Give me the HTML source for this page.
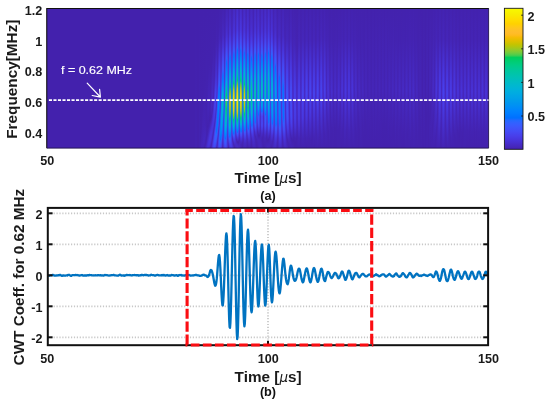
<!DOCTYPE html>
<html lang="en"><head><meta charset="utf-8"><title>CWT scalogram</title>
<style>html,body{margin:0;padding:0;background:#fff}svg{display:block}</style></head>
<body>
<svg width="550" height="405" viewBox="0 0 550 405">
<rect width="550" height="405" fill="#fff"/>
<defs><linearGradient id="c148" x1="0" y1="0" x2="0" y2="1"><stop offset="0.004" stop-color="#4321ad"/><stop offset="0.996" stop-color="#4322b0"/></linearGradient><linearGradient id="c149" x1="0" y1="0" x2="0" y2="1"><stop offset="0.004" stop-color="#4321ad"/><stop offset="0.996" stop-color="#4322b0"/></linearGradient><linearGradient id="c152" x1="0" y1="0" x2="0" y2="1"><stop offset="0.004" stop-color="#4321ad"/><stop offset="0.996" stop-color="#4323b1"/></linearGradient><linearGradient id="c153" x1="0" y1="0" x2="0" y2="1"><stop offset="0.004" stop-color="#4321ad"/><stop offset="0.925" stop-color="#4322ae"/><stop offset="0.996" stop-color="#4424b6"/></linearGradient><linearGradient id="c154" x1="0" y1="0" x2="0" y2="1"><stop offset="0.004" stop-color="#4321ad"/><stop offset="0.854" stop-color="#4322ae"/><stop offset="0.996" stop-color="#4526ba"/></linearGradient><linearGradient id="c155" x1="0" y1="0" x2="0" y2="1"><stop offset="0.004" stop-color="#4321ad"/><stop offset="0.725" stop-color="#4322ae"/><stop offset="0.996" stop-color="#4526bb"/></linearGradient><linearGradient id="c156" x1="0" y1="0" x2="0" y2="1"><stop offset="0.004" stop-color="#4321ad"/><stop offset="0.611" stop-color="#4322ae"/><stop offset="0.854" stop-color="#4424b5"/><stop offset="0.954" stop-color="#4527be"/><stop offset="0.996" stop-color="#4425b8"/></linearGradient><linearGradient id="c157" x1="0" y1="0" x2="0" y2="1"><stop offset="0.004" stop-color="#4321ad"/><stop offset="0.546" stop-color="#4322ae"/><stop offset="0.839" stop-color="#4424b6"/><stop offset="0.932" stop-color="#4527bd"/><stop offset="0.961" stop-color="#4526bb"/><stop offset="0.996" stop-color="#4323b1"/></linearGradient><linearGradient id="c158" x1="0" y1="0" x2="0" y2="1"><stop offset="0.004" stop-color="#4321ad"/><stop offset="0.504" stop-color="#4322ae"/><stop offset="0.818" stop-color="#4423b3"/><stop offset="0.911" stop-color="#4526ba"/><stop offset="0.968" stop-color="#4323b2"/><stop offset="0.996" stop-color="#4526ba"/></linearGradient><linearGradient id="c159" x1="0" y1="0" x2="0" y2="1"><stop offset="0.004" stop-color="#4321ad"/><stop offset="0.932" stop-color="#4323b2"/><stop offset="0.954" stop-color="#4425b6"/><stop offset="0.996" stop-color="#472cc8"/></linearGradient><linearGradient id="c160" x1="0" y1="0" x2="0" y2="1"><stop offset="0.004" stop-color="#4321ad"/><stop offset="0.504" stop-color="#4322ae"/><stop offset="0.725" stop-color="#4424b5"/><stop offset="0.846" stop-color="#4322ae"/><stop offset="0.904" stop-color="#4423b3"/><stop offset="0.968" stop-color="#472ece"/><stop offset="0.996" stop-color="#4831d4"/></linearGradient><linearGradient id="c161" x1="0" y1="0" x2="0" y2="1"><stop offset="0.004" stop-color="#4321ad"/><stop offset="0.446" stop-color="#4322af"/><stop offset="0.675" stop-color="#4526ba"/><stop offset="0.839" stop-color="#4322b0"/><stop offset="0.882" stop-color="#4526b9"/><stop offset="0.954" stop-color="#4833d7"/><stop offset="0.975" stop-color="#4834da"/><stop offset="0.996" stop-color="#4832d7"/></linearGradient><linearGradient id="c162" x1="0" y1="0" x2="0" y2="1"><stop offset="0.004" stop-color="#4321ad"/><stop offset="0.396" stop-color="#4322ae"/><stop offset="0.639" stop-color="#4525b8"/><stop offset="0.804" stop-color="#4322ae"/><stop offset="0.846" stop-color="#4425b7"/><stop offset="0.911" stop-color="#4832d6"/><stop offset="0.939" stop-color="#4836de"/><stop offset="0.968" stop-color="#4835dc"/><stop offset="0.996" stop-color="#472ece"/></linearGradient><linearGradient id="c163" x1="0" y1="0" x2="0" y2="1"><stop offset="0.004" stop-color="#4321ad"/><stop offset="0.382" stop-color="#4322ae"/><stop offset="0.725" stop-color="#4424b6"/><stop offset="0.796" stop-color="#4322af"/><stop offset="0.889" stop-color="#4834da"/><stop offset="0.918" stop-color="#4837e0"/><stop offset="0.954" stop-color="#4833d9"/><stop offset="0.996" stop-color="#4526ba"/></linearGradient><linearGradient id="c164" x1="0" y1="0" x2="0" y2="1"><stop offset="0.004" stop-color="#4321ad"/><stop offset="0.446" stop-color="#4322af"/><stop offset="0.668" stop-color="#4629c1"/><stop offset="0.711" stop-color="#4528be"/><stop offset="0.775" stop-color="#4323b2"/><stop offset="0.854" stop-color="#4832d7"/><stop offset="0.889" stop-color="#4837df"/><stop offset="0.925" stop-color="#4832d6"/><stop offset="0.968" stop-color="#4526ba"/><stop offset="0.982" stop-color="#4527bc"/><stop offset="0.996" stop-color="#462bc5"/></linearGradient><linearGradient id="c165" x1="0" y1="0" x2="0" y2="1"><stop offset="0.004" stop-color="#4321ad"/><stop offset="0.361" stop-color="#4322b0"/><stop offset="0.618" stop-color="#462ac4"/><stop offset="0.732" stop-color="#4425b7"/><stop offset="0.811" stop-color="#4832d6"/><stop offset="0.846" stop-color="#4836dd"/><stop offset="0.882" stop-color="#4832d7"/><stop offset="0.918" stop-color="#4529c0"/><stop offset="0.932" stop-color="#4527bc"/><stop offset="0.946" stop-color="#462ac2"/><stop offset="0.975" stop-color="#4834d8"/><stop offset="0.996" stop-color="#4839e1"/></linearGradient><linearGradient id="c166" x1="0" y1="0" x2="0" y2="1"><stop offset="0.004" stop-color="#4321ad"/><stop offset="0.268" stop-color="#4322ae"/><stop offset="0.511" stop-color="#4526b9"/><stop offset="0.639" stop-color="#4526ba"/><stop offset="0.675" stop-color="#4529c1"/><stop offset="0.754" stop-color="#4834da"/><stop offset="0.796" stop-color="#4837e0"/><stop offset="0.832" stop-color="#4834da"/><stop offset="0.875" stop-color="#4529c0"/><stop offset="0.889" stop-color="#4528bf"/><stop offset="0.904" stop-color="#462bc6"/><stop offset="0.946" stop-color="#4640e8"/><stop offset="0.968" stop-color="#4546f0"/><stop offset="0.996" stop-color="#4646f0"/></linearGradient><linearGradient id="c167" x1="0" y1="0" x2="0" y2="1"><stop offset="0.004" stop-color="#4321ad"/><stop offset="0.296" stop-color="#4322ae"/><stop offset="0.475" stop-color="#4424b5"/><stop offset="0.539" stop-color="#4528bf"/><stop offset="0.661" stop-color="#473be3"/><stop offset="0.711" stop-color="#473fe9"/><stop offset="0.768" stop-color="#4839e2"/><stop offset="0.789" stop-color="#4834da"/><stop offset="0.825" stop-color="#462ac3"/><stop offset="0.839" stop-color="#4529c1"/><stop offset="0.861" stop-color="#462fcc"/><stop offset="0.889" stop-color="#4540e7"/><stop offset="0.918" stop-color="#404ff6"/><stop offset="0.954" stop-color="#3e55fb"/><stop offset="0.996" stop-color="#4548f2"/></linearGradient><linearGradient id="c168" x1="0" y1="0" x2="0" y2="1"><stop offset="0.004" stop-color="#4321ad"/><stop offset="0.225" stop-color="#4322ae"/><stop offset="0.332" stop-color="#4424b5"/><stop offset="0.489" stop-color="#472fcf"/><stop offset="0.582" stop-color="#483de7"/><stop offset="0.639" stop-color="#4644ee"/><stop offset="0.696" stop-color="#473ee8"/><stop offset="0.761" stop-color="#462dc9"/><stop offset="0.782" stop-color="#462cc5"/><stop offset="0.811" stop-color="#4534d4"/><stop offset="0.854" stop-color="#3f4ef4"/><stop offset="0.882" stop-color="#335dfc"/><stop offset="0.911" stop-color="#2e63fe"/><stop offset="0.954" stop-color="#3c57fc"/><stop offset="0.996" stop-color="#473de6"/></linearGradient><linearGradient id="c169" x1="0" y1="0" x2="0" y2="1"><stop offset="0.004" stop-color="#4321ad"/><stop offset="0.254" stop-color="#4423b3"/><stop offset="0.561" stop-color="#4836dd"/><stop offset="0.596" stop-color="#4737dc"/><stop offset="0.668" stop-color="#4630cd"/><stop offset="0.696" stop-color="#4530cc"/><stop offset="0.725" stop-color="#4435d3"/><stop offset="0.746" stop-color="#433de0"/><stop offset="0.775" stop-color="#3e4cf0"/><stop offset="0.796" stop-color="#3557f8"/><stop offset="0.839" stop-color="#186afe"/><stop offset="0.868" stop-color="#0b6eff"/><stop offset="0.882" stop-color="#0e6cff"/><stop offset="0.904" stop-color="#2965fe"/><stop offset="0.932" stop-color="#3e53f8"/><stop offset="0.961" stop-color="#463ee6"/><stop offset="0.996" stop-color="#462bc4"/></linearGradient><linearGradient id="c170" x1="0" y1="0" x2="0" y2="1"><stop offset="0.004" stop-color="#4321ad"/><stop offset="0.225" stop-color="#4322b0"/><stop offset="0.468" stop-color="#4528bf"/><stop offset="0.546" stop-color="#462eca"/><stop offset="0.611" stop-color="#433dde"/><stop offset="0.646" stop-color="#3d4bed"/><stop offset="0.689" stop-color="#2b5df8"/><stop offset="0.754" stop-color="#1071fe"/><stop offset="0.796" stop-color="#0378ff"/><stop offset="0.825" stop-color="#0475ff"/><stop offset="0.839" stop-color="#0a71fe"/><stop offset="0.854" stop-color="#166afe"/><stop offset="0.882" stop-color="#3658f9"/><stop offset="0.904" stop-color="#4247ee"/><stop offset="0.932" stop-color="#4633d2"/><stop offset="0.954" stop-color="#462cc6"/><stop offset="0.968" stop-color="#462bc5"/><stop offset="0.996" stop-color="#4730d0"/></linearGradient><linearGradient id="c171" x1="0" y1="0" x2="0" y2="1"><stop offset="0.004" stop-color="#4321ad"/><stop offset="0.168" stop-color="#4322b0"/><stop offset="0.261" stop-color="#4425b7"/><stop offset="0.404" stop-color="#4732d4"/><stop offset="0.504" stop-color="#4545ed"/><stop offset="0.554" stop-color="#3957f8"/><stop offset="0.604" stop-color="#136efd"/><stop offset="0.632" stop-color="#077afd"/><stop offset="0.682" stop-color="#0385fa"/><stop offset="0.718" stop-color="#0383fc"/><stop offset="0.754" stop-color="#037bfd"/><stop offset="0.775" stop-color="#0d73fd"/><stop offset="0.811" stop-color="#285ffa"/><stop offset="0.839" stop-color="#3e4bef"/><stop offset="0.868" stop-color="#4437d7"/><stop offset="0.882" stop-color="#4532d1"/><stop offset="0.904" stop-color="#4533d1"/><stop offset="0.954" stop-color="#4444eb"/><stop offset="0.996" stop-color="#4644ee"/></linearGradient><linearGradient id="c172" x1="0" y1="0" x2="0" y2="1"><stop offset="0.004" stop-color="#4322ae"/><stop offset="0.132" stop-color="#4323b2"/><stop offset="0.218" stop-color="#4526ba"/><stop offset="0.332" stop-color="#4832d7"/><stop offset="0.454" stop-color="#4449f2"/><stop offset="0.532" stop-color="#365dfd"/><stop offset="0.554" stop-color="#2964fd"/><stop offset="0.568" stop-color="#1669fd"/><stop offset="0.575" stop-color="#126bfe"/><stop offset="0.596" stop-color="#0d72fe"/><stop offset="0.632" stop-color="#0d77fc"/><stop offset="0.668" stop-color="#1372fc"/><stop offset="0.711" stop-color="#2462f9"/><stop offset="0.754" stop-color="#3b49e8"/><stop offset="0.796" stop-color="#4339d9"/><stop offset="0.825" stop-color="#423ad9"/><stop offset="0.846" stop-color="#3f44e2"/><stop offset="0.882" stop-color="#3059f6"/><stop offset="0.925" stop-color="#2364fd"/><stop offset="0.954" stop-color="#3260fe"/><stop offset="0.996" stop-color="#424ef7"/></linearGradient><linearGradient id="c173" x1="0" y1="0" x2="0" y2="1"><stop offset="0.004" stop-color="#4322ae"/><stop offset="0.204" stop-color="#4424b6"/><stop offset="0.454" stop-color="#4737db"/><stop offset="0.675" stop-color="#4041df"/><stop offset="0.725" stop-color="#354be4"/><stop offset="0.782" stop-color="#2069f6"/><stop offset="0.832" stop-color="#0a80f7"/><stop offset="0.868" stop-color="#0287f7"/><stop offset="0.896" stop-color="#0284fb"/><stop offset="0.932" stop-color="#0373ff"/><stop offset="0.939" stop-color="#086eff"/><stop offset="0.946" stop-color="#1d6aff"/><stop offset="0.961" stop-color="#3360fe"/><stop offset="0.996" stop-color="#444af3"/></linearGradient><linearGradient id="c174" x1="0" y1="0" x2="0" y2="1"><stop offset="0.004" stop-color="#4322ae"/><stop offset="0.232" stop-color="#4425b7"/><stop offset="0.446" stop-color="#4538d9"/><stop offset="0.518" stop-color="#3d49ea"/><stop offset="0.582" stop-color="#2366f6"/><stop offset="0.632" stop-color="#1081f2"/><stop offset="0.675" stop-color="#0693eb"/><stop offset="0.725" stop-color="#029fe5"/><stop offset="0.782" stop-color="#01a5e4"/><stop offset="0.839" stop-color="#019eea"/><stop offset="0.868" stop-color="#0191f2"/><stop offset="0.896" stop-color="#037efc"/><stop offset="0.911" stop-color="#0d72fe"/><stop offset="0.946" stop-color="#3b56f9"/><stop offset="0.968" stop-color="#4447f0"/><stop offset="0.996" stop-color="#4839e1"/></linearGradient><linearGradient id="c175" x1="0" y1="0" x2="0" y2="1"><stop offset="0.004" stop-color="#4322b0"/><stop offset="0.189" stop-color="#4528bf"/><stop offset="0.275" stop-color="#4832d5"/><stop offset="0.354" stop-color="#4644ed"/><stop offset="0.432" stop-color="#385afb"/><stop offset="0.454" stop-color="#2c61fd"/><stop offset="0.468" stop-color="#1d66fd"/><stop offset="0.496" stop-color="#0c73fe"/><stop offset="0.525" stop-color="#0381fb"/><stop offset="0.611" stop-color="#01aedb"/><stop offset="0.646" stop-color="#01b7cc"/><stop offset="0.675" stop-color="#01b9c8"/><stop offset="0.725" stop-color="#01b3d3"/><stop offset="0.775" stop-color="#02a4e4"/><stop offset="0.818" stop-color="#038df2"/><stop offset="0.861" stop-color="#1c6cfa"/><stop offset="0.896" stop-color="#3b4ef0"/><stop offset="0.911" stop-color="#4144e7"/><stop offset="0.946" stop-color="#4632d1"/><stop offset="0.996" stop-color="#4528be"/></linearGradient><linearGradient id="c176" x1="0" y1="0" x2="0" y2="1"><stop offset="0.004" stop-color="#4323b1"/><stop offset="0.104" stop-color="#4425b7"/><stop offset="0.189" stop-color="#4629c1"/><stop offset="0.268" stop-color="#4832d6"/><stop offset="0.354" stop-color="#4546ef"/><stop offset="0.432" stop-color="#385afb"/><stop offset="0.482" stop-color="#1a68fd"/><stop offset="0.518" stop-color="#0e75fc"/><stop offset="0.589" stop-color="#078ff0"/><stop offset="0.632" stop-color="#0795ea"/><stop offset="0.689" stop-color="#0f89ee"/><stop offset="0.739" stop-color="#1e6ef0"/><stop offset="0.789" stop-color="#3050e6"/><stop offset="0.825" stop-color="#4042e1"/><stop offset="0.875" stop-color="#423cdb"/><stop offset="0.946" stop-color="#463be0"/><stop offset="0.996" stop-color="#4730d2"/></linearGradient><linearGradient id="c177" x1="0" y1="0" x2="0" y2="1"><stop offset="0.004" stop-color="#4322af"/><stop offset="0.211" stop-color="#4425b8"/><stop offset="0.496" stop-color="#423bdc"/><stop offset="0.589" stop-color="#3c4ae5"/><stop offset="0.704" stop-color="#275fe4"/><stop offset="0.804" stop-color="#167cf1"/><stop offset="0.839" stop-color="#0f82f3"/><stop offset="0.875" stop-color="#0c7ff7"/><stop offset="0.911" stop-color="#1271fd"/><stop offset="0.925" stop-color="#1c68fd"/><stop offset="0.939" stop-color="#305ffd"/><stop offset="0.954" stop-color="#3c57fb"/><stop offset="0.996" stop-color="#473fea"/></linearGradient><linearGradient id="c178" x1="0" y1="0" x2="0" y2="1"><stop offset="0.004" stop-color="#4323b2"/><stop offset="0.182" stop-color="#4528c0"/><stop offset="0.261" stop-color="#4730d1"/><stop offset="0.339" stop-color="#4541e7"/><stop offset="0.396" stop-color="#3b50f3"/><stop offset="0.482" stop-color="#1c6df9"/><stop offset="0.525" stop-color="#0f81f4"/><stop offset="0.554" stop-color="#0891eb"/><stop offset="0.575" stop-color="#039de0"/><stop offset="0.618" stop-color="#02b1c1"/><stop offset="0.646" stop-color="#04b9ad"/><stop offset="0.668" stop-color="#09bca3"/><stop offset="0.689" stop-color="#09be9f"/><stop offset="0.711" stop-color="#02bfa0"/><stop offset="0.782" stop-color="#01bdb6"/><stop offset="0.839" stop-color="#01b2d5"/><stop offset="0.875" stop-color="#01a0e9"/><stop offset="0.911" stop-color="#0284fc"/><stop offset="0.925" stop-color="#0377ff"/><stop offset="0.932" stop-color="#0671ff"/><stop offset="0.946" stop-color="#2b65ff"/><stop offset="0.954" stop-color="#345ffe"/><stop offset="0.968" stop-color="#3e56fb"/><stop offset="0.996" stop-color="#4645f0"/></linearGradient><linearGradient id="c179" x1="0" y1="0" x2="0" y2="1"><stop offset="0.004" stop-color="#4525b8"/><stop offset="0.118" stop-color="#462ac5"/><stop offset="0.196" stop-color="#4831d5"/><stop offset="0.246" stop-color="#483be5"/><stop offset="0.296" stop-color="#434bf4"/><stop offset="0.346" stop-color="#345efd"/><stop offset="0.361" stop-color="#2b64fe"/><stop offset="0.382" stop-color="#0d6dfe"/><stop offset="0.396" stop-color="#0673fe"/><stop offset="0.418" stop-color="#047cfe"/><stop offset="0.504" stop-color="#02a1e8"/><stop offset="0.532" stop-color="#01afda"/><stop offset="0.575" stop-color="#01c0b1"/><stop offset="0.618" stop-color="#01ca7a"/><stop offset="0.625" stop-color="#06ca71"/><stop offset="0.632" stop-color="#1aca6a"/><stop offset="0.646" stop-color="#35ca5f"/><stop offset="0.661" stop-color="#42ca5a"/><stop offset="0.668" stop-color="#42ca5a"/><stop offset="0.689" stop-color="#35c963"/><stop offset="0.704" stop-color="#21c96d"/><stop offset="0.718" stop-color="#04c97b"/><stop offset="0.725" stop-color="#01c882"/><stop offset="0.789" stop-color="#02b9bf"/><stop offset="0.846" stop-color="#029ce9"/><stop offset="0.875" stop-color="#0785f5"/><stop offset="0.911" stop-color="#1c69fc"/><stop offset="0.932" stop-color="#345afa"/><stop offset="0.946" stop-color="#3e52f7"/><stop offset="0.996" stop-color="#473fe9"/></linearGradient><linearGradient id="c180" x1="0" y1="0" x2="0" y2="1"><stop offset="0.004" stop-color="#4425b7"/><stop offset="0.168" stop-color="#462bc7"/><stop offset="0.239" stop-color="#4833d7"/><stop offset="0.304" stop-color="#4640e8"/><stop offset="0.361" stop-color="#3e4ff3"/><stop offset="0.425" stop-color="#265ff9"/><stop offset="0.532" stop-color="#1280f2"/><stop offset="0.589" stop-color="#0d93e2"/><stop offset="0.632" stop-color="#0e99d7"/><stop offset="0.696" stop-color="#138ddc"/><stop offset="0.796" stop-color="#2660e7"/><stop offset="0.839" stop-color="#344de5"/><stop offset="0.889" stop-color="#423bda"/><stop offset="0.939" stop-color="#4631cf"/><stop offset="0.996" stop-color="#4730d2"/></linearGradient><linearGradient id="c181" x1="0" y1="0" x2="0" y2="1"><stop offset="0.004" stop-color="#4423b3"/><stop offset="0.182" stop-color="#4527bc"/><stop offset="0.339" stop-color="#4535d4"/><stop offset="0.446" stop-color="#3d44e1"/><stop offset="0.525" stop-color="#2e55e6"/><stop offset="0.596" stop-color="#236cdf"/><stop offset="0.625" stop-color="#2574db"/><stop offset="0.689" stop-color="#1f80d4"/><stop offset="0.782" stop-color="#1587e4"/><stop offset="0.839" stop-color="#157ef1"/><stop offset="0.861" stop-color="#1875f6"/><stop offset="0.896" stop-color="#2a5df7"/><stop offset="0.911" stop-color="#3952f4"/><stop offset="0.932" stop-color="#4541e8"/><stop offset="0.975" stop-color="#462ac3"/><stop offset="0.996" stop-color="#4526ba"/></linearGradient><linearGradient id="c182" x1="0" y1="0" x2="0" y2="1"><stop offset="0.004" stop-color="#4527be"/><stop offset="0.111" stop-color="#472cc8"/><stop offset="0.182" stop-color="#4832d6"/><stop offset="0.275" stop-color="#4547f0"/><stop offset="0.325" stop-color="#375afb"/><stop offset="0.354" stop-color="#1e66fd"/><stop offset="0.382" stop-color="#1172fd"/><stop offset="0.439" stop-color="#038af4"/><stop offset="0.489" stop-color="#02a0e5"/><stop offset="0.532" stop-color="#02b4c7"/><stop offset="0.561" stop-color="#02bfa3"/><stop offset="0.568" stop-color="#06c198"/><stop offset="0.604" stop-color="#60c352"/><stop offset="0.618" stop-color="#7dc143"/><stop offset="0.632" stop-color="#95c03f"/><stop offset="0.646" stop-color="#a0c13a"/><stop offset="0.682" stop-color="#abc135"/><stop offset="0.718" stop-color="#98c134"/><stop offset="0.732" stop-color="#87c335"/><stop offset="0.746" stop-color="#6fc53f"/><stop offset="0.761" stop-color="#53c753"/><stop offset="0.782" stop-color="#1cc875"/><stop offset="0.789" stop-color="#05c87f"/><stop offset="0.796" stop-color="#01c78a"/><stop offset="0.825" stop-color="#01bfb3"/><stop offset="0.854" stop-color="#01b1d6"/><stop offset="0.904" stop-color="#0280fd"/><stop offset="0.911" stop-color="#0478ff"/><stop offset="0.918" stop-color="#0d6ffe"/><stop offset="0.932" stop-color="#335ffe"/><stop offset="0.939" stop-color="#3b58fb"/><stop offset="0.961" stop-color="#4645ee"/><stop offset="0.996" stop-color="#4730d1"/></linearGradient><linearGradient id="c183" x1="0" y1="0" x2="0" y2="1"><stop offset="0.004" stop-color="#4527bd"/><stop offset="0.111" stop-color="#472cc8"/><stop offset="0.182" stop-color="#4832d6"/><stop offset="0.232" stop-color="#483be5"/><stop offset="0.275" stop-color="#4449f2"/><stop offset="0.325" stop-color="#345efc"/><stop offset="0.346" stop-color="#1a68fd"/><stop offset="0.375" stop-color="#0976fe"/><stop offset="0.396" stop-color="#0380fb"/><stop offset="0.461" stop-color="#029de9"/><stop offset="0.489" stop-color="#02aadd"/><stop offset="0.511" stop-color="#02b3cd"/><stop offset="0.532" stop-color="#01bcb8"/><stop offset="0.561" stop-color="#02c58e"/><stop offset="0.568" stop-color="#0fc680"/><stop offset="0.575" stop-color="#2bc771"/><stop offset="0.596" stop-color="#6ec440"/><stop offset="0.611" stop-color="#91c231"/><stop offset="0.625" stop-color="#aac033"/><stop offset="0.632" stop-color="#b1c033"/><stop offset="0.661" stop-color="#bac12f"/><stop offset="0.675" stop-color="#b7c131"/><stop offset="0.689" stop-color="#aec035"/><stop offset="0.711" stop-color="#99c03a"/><stop offset="0.725" stop-color="#82c23d"/><stop offset="0.746" stop-color="#58c454"/><stop offset="0.782" stop-color="#0bc290"/><stop offset="0.789" stop-color="#02c19b"/><stop offset="0.818" stop-color="#02b6c0"/><stop offset="0.846" stop-color="#02a6de"/><stop offset="0.868" stop-color="#0296ed"/><stop offset="0.896" stop-color="#077cfb"/><stop offset="0.911" stop-color="#116ffe"/><stop offset="0.932" stop-color="#355dfd"/><stop offset="0.939" stop-color="#3b58fc"/><stop offset="0.961" stop-color="#444af4"/><stop offset="0.996" stop-color="#4839e2"/></linearGradient><linearGradient id="c184" x1="0" y1="0" x2="0" y2="1"><stop offset="0.004" stop-color="#4424b4"/><stop offset="0.182" stop-color="#4528be"/><stop offset="0.318" stop-color="#4538da"/><stop offset="0.389" stop-color="#3d46e5"/><stop offset="0.446" stop-color="#2e53e9"/><stop offset="0.532" stop-color="#206ae7"/><stop offset="0.589" stop-color="#207ada"/><stop offset="0.639" stop-color="#2280d1"/><stop offset="0.718" stop-color="#2676d7"/><stop offset="0.746" stop-color="#246fdd"/><stop offset="0.811" stop-color="#2a5ce6"/><stop offset="0.896" stop-color="#4042e2"/><stop offset="0.961" stop-color="#473ee8"/><stop offset="0.996" stop-color="#483ae4"/></linearGradient><linearGradient id="c185" x1="0" y1="0" x2="0" y2="1"><stop offset="0.004" stop-color="#4424b5"/><stop offset="0.175" stop-color="#4629c2"/><stop offset="0.239" stop-color="#472fce"/><stop offset="0.304" stop-color="#453bdf"/><stop offset="0.354" stop-color="#3f47ea"/><stop offset="0.382" stop-color="#354fee"/><stop offset="0.461" stop-color="#2068f1"/><stop offset="0.532" stop-color="#1585e6"/><stop offset="0.596" stop-color="#179fc0"/><stop offset="0.639" stop-color="#33a8a3"/><stop offset="0.682" stop-color="#37ab9e"/><stop offset="0.704" stop-color="#31aba2"/><stop offset="0.754" stop-color="#10a6be"/><stop offset="0.796" stop-color="#099ada"/><stop offset="0.825" stop-color="#0f8bea"/><stop offset="0.854" stop-color="#1874f5"/><stop offset="0.875" stop-color="#275ef6"/><stop offset="0.889" stop-color="#394ff0"/><stop offset="0.904" stop-color="#4340e4"/><stop offset="0.932" stop-color="#462bc6"/><stop offset="0.946" stop-color="#4529c0"/><stop offset="0.954" stop-color="#462ac2"/><stop offset="0.975" stop-color="#4730d2"/><stop offset="0.996" stop-color="#4834d9"/></linearGradient><linearGradient id="c186" x1="0" y1="0" x2="0" y2="1"><stop offset="0.004" stop-color="#4629c2"/><stop offset="0.096" stop-color="#472dcb"/><stop offset="0.168" stop-color="#4833d8"/><stop offset="0.218" stop-color="#483ce6"/><stop offset="0.261" stop-color="#444bf3"/><stop offset="0.304" stop-color="#345dfd"/><stop offset="0.332" stop-color="#126cfe"/><stop offset="0.354" stop-color="#0778fd"/><stop offset="0.432" stop-color="#02a0e8"/><stop offset="0.468" stop-color="#01b0d6"/><stop offset="0.504" stop-color="#01beb6"/><stop offset="0.518" stop-color="#01c3a3"/><stop offset="0.532" stop-color="#01c78a"/><stop offset="0.539" stop-color="#07c87b"/><stop offset="0.546" stop-color="#2bc96a"/><stop offset="0.568" stop-color="#8ac52d"/><stop offset="0.575" stop-color="#a4c222"/><stop offset="0.582" stop-color="#c0c020"/><stop offset="0.589" stop-color="#d2be27"/><stop offset="0.596" stop-color="#dcbf26"/><stop offset="0.611" stop-color="#e9c715"/><stop offset="0.639" stop-color="#f0d610"/><stop offset="0.675" stop-color="#f0d810"/><stop offset="0.711" stop-color="#eec914"/><stop offset="0.732" stop-color="#e5bf25"/><stop offset="0.739" stop-color="#e0bd25"/><stop offset="0.746" stop-color="#d6be1d"/><stop offset="0.754" stop-color="#c6c016"/><stop offset="0.768" stop-color="#97c523"/><stop offset="0.782" stop-color="#58c94c"/><stop offset="0.789" stop-color="#33ca5f"/><stop offset="0.796" stop-color="#07ca72"/><stop offset="0.804" stop-color="#01c984"/><stop offset="0.825" stop-color="#01c0b1"/><stop offset="0.846" stop-color="#01b1d6"/><stop offset="0.861" stop-color="#01a2e7"/><stop offset="0.889" stop-color="#047bfe"/><stop offset="0.896" stop-color="#0d6ffe"/><stop offset="0.904" stop-color="#2864fe"/><stop offset="0.911" stop-color="#395afc"/><stop offset="0.918" stop-color="#4050f7"/><stop offset="0.932" stop-color="#473ee8"/><stop offset="0.946" stop-color="#4831d3"/><stop offset="0.961" stop-color="#4527bd"/><stop offset="0.968" stop-color="#4425b8"/><stop offset="0.975" stop-color="#4425b7"/><stop offset="0.996" stop-color="#462bc6"/></linearGradient><linearGradient id="c187" x1="0" y1="0" x2="0" y2="1"><stop offset="0.004" stop-color="#462ac3"/><stop offset="0.168" stop-color="#4833d8"/><stop offset="0.261" stop-color="#4448f1"/><stop offset="0.304" stop-color="#3859fa"/><stop offset="0.332" stop-color="#1e66fc"/><stop offset="0.354" stop-color="#1370fd"/><stop offset="0.425" stop-color="#038ff1"/><stop offset="0.468" stop-color="#02a0e4"/><stop offset="0.511" stop-color="#02b0ca"/><stop offset="0.539" stop-color="#02baac"/><stop offset="0.546" stop-color="#09bca2"/><stop offset="0.561" stop-color="#24be8a"/><stop offset="0.582" stop-color="#56bf67"/><stop offset="0.604" stop-color="#79be5b"/><stop offset="0.625" stop-color="#8bc24e"/><stop offset="0.654" stop-color="#91c548"/><stop offset="0.682" stop-color="#8cc34e"/><stop offset="0.704" stop-color="#81c056"/><stop offset="0.732" stop-color="#62bd68"/><stop offset="0.746" stop-color="#49bd72"/><stop offset="0.782" stop-color="#0db9a6"/><stop offset="0.789" stop-color="#04b7b0"/><stop offset="0.796" stop-color="#02b4b9"/><stop offset="0.825" stop-color="#03a6d9"/><stop offset="0.846" stop-color="#0396eb"/><stop offset="0.868" stop-color="#0982f6"/><stop offset="0.889" stop-color="#186bfd"/><stop offset="0.896" stop-color="#2264fc"/><stop offset="0.904" stop-color="#335cfb"/><stop offset="0.911" stop-color="#3c55f9"/><stop offset="0.925" stop-color="#4548f1"/><stop offset="0.954" stop-color="#4832d7"/><stop offset="0.982" stop-color="#4526b9"/><stop offset="0.996" stop-color="#4424b4"/></linearGradient><linearGradient id="c188" x1="0" y1="0" x2="0" y2="1"><stop offset="0.004" stop-color="#4425b6"/><stop offset="0.161" stop-color="#4528bd"/><stop offset="0.275" stop-color="#4630ce"/><stop offset="0.368" stop-color="#413dde"/><stop offset="0.446" stop-color="#3c49e5"/><stop offset="0.489" stop-color="#3451e7"/><stop offset="0.554" stop-color="#2861e6"/><stop offset="0.611" stop-color="#296ee1"/><stop offset="0.654" stop-color="#2a73e0"/><stop offset="0.739" stop-color="#2767e3"/><stop offset="0.804" stop-color="#2e56e8"/><stop offset="0.825" stop-color="#394ee7"/><stop offset="0.904" stop-color="#4534d3"/><stop offset="0.954" stop-color="#472fcf"/><stop offset="0.996" stop-color="#4527bd"/></linearGradient><linearGradient id="c189" x1="0" y1="0" x2="0" y2="1"><stop offset="0.004" stop-color="#462ac3"/><stop offset="0.161" stop-color="#4832d5"/><stop offset="0.254" stop-color="#4445ed"/><stop offset="0.289" stop-color="#3c52f5"/><stop offset="0.339" stop-color="#1d68fa"/><stop offset="0.389" stop-color="#0f7ef6"/><stop offset="0.446" stop-color="#0796e9"/><stop offset="0.489" stop-color="#02a6d4"/><stop offset="0.518" stop-color="#02b1bd"/><stop offset="0.525" stop-color="#04b4b5"/><stop offset="0.539" stop-color="#13b8a2"/><stop offset="0.568" stop-color="#4abc75"/><stop offset="0.582" stop-color="#65bc69"/><stop offset="0.596" stop-color="#74be5f"/><stop offset="0.604" stop-color="#80c057"/><stop offset="0.625" stop-color="#8ec54c"/><stop offset="0.654" stop-color="#93c945"/><stop offset="0.689" stop-color="#8fc54b"/><stop offset="0.711" stop-color="#83c055"/><stop offset="0.739" stop-color="#62bd68"/><stop offset="0.754" stop-color="#46bd75"/><stop offset="0.782" stop-color="#0db9a5"/><stop offset="0.789" stop-color="#04b7b1"/><stop offset="0.796" stop-color="#02b3bc"/><stop offset="0.832" stop-color="#0599e7"/><stop offset="0.846" stop-color="#0989f2"/><stop offset="0.868" stop-color="#1a6efa"/><stop offset="0.882" stop-color="#2e5af8"/><stop offset="0.889" stop-color="#3b51f4"/><stop offset="0.896" stop-color="#4248ee"/><stop offset="0.918" stop-color="#4732d3"/><stop offset="0.939" stop-color="#4526b9"/><stop offset="0.946" stop-color="#4425b7"/><stop offset="0.975" stop-color="#462bc6"/><stop offset="0.996" stop-color="#462bc6"/></linearGradient><linearGradient id="c190" x1="0" y1="0" x2="0" y2="1"><stop offset="0.004" stop-color="#472dcb"/><stop offset="0.154" stop-color="#4838e0"/><stop offset="0.239" stop-color="#424ff6"/><stop offset="0.275" stop-color="#335ffd"/><stop offset="0.282" stop-color="#2c63fe"/><stop offset="0.296" stop-color="#116bfe"/><stop offset="0.304" stop-color="#0a6ffe"/><stop offset="0.325" stop-color="#047cfd"/><stop offset="0.404" stop-color="#02a6e4"/><stop offset="0.432" stop-color="#01b1d5"/><stop offset="0.482" stop-color="#01c1ab"/><stop offset="0.511" stop-color="#01c982"/><stop offset="0.518" stop-color="#0ac973"/><stop offset="0.532" stop-color="#52c952"/><stop offset="0.546" stop-color="#8ec528"/><stop offset="0.554" stop-color="#adc21d"/><stop offset="0.561" stop-color="#c6bf19"/><stop offset="0.568" stop-color="#d8bd23"/><stop offset="0.575" stop-color="#e2be27"/><stop offset="0.596" stop-color="#eecd12"/><stop offset="0.625" stop-color="#eee10e"/><stop offset="0.654" stop-color="#eee80c"/><stop offset="0.682" stop-color="#efe20e"/><stop offset="0.711" stop-color="#f0d011"/><stop offset="0.725" stop-color="#ecc717"/><stop offset="0.739" stop-color="#e2bf26"/><stop offset="0.746" stop-color="#dabd24"/><stop offset="0.754" stop-color="#ccbf1b"/><stop offset="0.761" stop-color="#b4c11b"/><stop offset="0.768" stop-color="#95c424"/><stop offset="0.775" stop-color="#78c738"/><stop offset="0.782" stop-color="#54c950"/><stop offset="0.796" stop-color="#02c97b"/><stop offset="0.818" stop-color="#01c1ae"/><stop offset="0.839" stop-color="#01b1d6"/><stop offset="0.875" stop-color="#0382fc"/><stop offset="0.882" stop-color="#0577fe"/><stop offset="0.889" stop-color="#146bfe"/><stop offset="0.896" stop-color="#325ffe"/><stop offset="0.911" stop-color="#444bf3"/><stop offset="0.932" stop-color="#4832d5"/><stop offset="0.954" stop-color="#4423b3"/><stop offset="0.961" stop-color="#4423b3"/><stop offset="0.975" stop-color="#4628c0"/><stop offset="0.996" stop-color="#472cc9"/></linearGradient><linearGradient id="c191" x1="0" y1="0" x2="0" y2="1"><stop offset="0.004" stop-color="#4527bd"/><stop offset="0.146" stop-color="#462cc9"/><stop offset="0.211" stop-color="#4733d5"/><stop offset="0.268" stop-color="#453ee3"/><stop offset="0.311" stop-color="#3d4bec"/><stop offset="0.332" stop-color="#3352f0"/><stop offset="0.404" stop-color="#1f69f2"/><stop offset="0.496" stop-color="#1487e5"/><stop offset="0.518" stop-color="#118edd"/><stop offset="0.561" stop-color="#179cc4"/><stop offset="0.589" stop-color="#25a3ae"/><stop offset="0.604" stop-color="#34a6a2"/><stop offset="0.625" stop-color="#3fa899"/><stop offset="0.654" stop-color="#43a996"/><stop offset="0.696" stop-color="#3aa89e"/><stop offset="0.711" stop-color="#32a7a4"/><stop offset="0.725" stop-color="#24a5af"/><stop offset="0.754" stop-color="#13a0c2"/><stop offset="0.818" stop-color="#1088eb"/><stop offset="0.861" stop-color="#1f69f8"/><stop offset="0.882" stop-color="#3455f5"/><stop offset="0.889" stop-color="#3d4ff3"/><stop offset="0.904" stop-color="#4542ea"/><stop offset="0.925" stop-color="#4832d5"/><stop offset="0.954" stop-color="#4423b3"/><stop offset="0.961" stop-color="#4322b0"/><stop offset="0.996" stop-color="#462bc7"/></linearGradient><linearGradient id="c192" x1="0" y1="0" x2="0" y2="1"><stop offset="0.004" stop-color="#4526ba"/><stop offset="0.154" stop-color="#462bc5"/><stop offset="0.275" stop-color="#453adc"/><stop offset="0.332" stop-color="#3c47e6"/><stop offset="0.404" stop-color="#295aea"/><stop offset="0.482" stop-color="#1f6de6"/><stop offset="0.539" stop-color="#1c7cd9"/><stop offset="0.618" stop-color="#228dbe"/><stop offset="0.639" stop-color="#298ebb"/><stop offset="0.682" stop-color="#238bc1"/><stop offset="0.739" stop-color="#207fd3"/><stop offset="0.789" stop-color="#206ce3"/><stop offset="0.825" stop-color="#2b58e6"/><stop offset="0.854" stop-color="#3a47e3"/><stop offset="0.889" stop-color="#4534d3"/><stop offset="0.946" stop-color="#4425b7"/><stop offset="0.996" stop-color="#4629c2"/></linearGradient><linearGradient id="c193" x1="0" y1="0" x2="0" y2="1"><stop offset="0.004" stop-color="#472dca"/><stop offset="0.154" stop-color="#4837df"/><stop offset="0.239" stop-color="#434df5"/><stop offset="0.275" stop-color="#365cfc"/><stop offset="0.289" stop-color="#2964fd"/><stop offset="0.296" stop-color="#1a68fe"/><stop offset="0.304" stop-color="#116cfe"/><stop offset="0.325" stop-color="#0679fd"/><stop offset="0.404" stop-color="#02a2e6"/><stop offset="0.446" stop-color="#02b3cf"/><stop offset="0.489" stop-color="#01c0ab"/><stop offset="0.518" stop-color="#02c782"/><stop offset="0.539" stop-color="#51c755"/><stop offset="0.546" stop-color="#6bc541"/><stop offset="0.554" stop-color="#81c434"/><stop offset="0.561" stop-color="#98c22b"/><stop offset="0.568" stop-color="#adc02b"/><stop offset="0.582" stop-color="#c6c02d"/><stop offset="0.596" stop-color="#d9c51b"/><stop offset="0.611" stop-color="#e3cc16"/><stop offset="0.639" stop-color="#e8d410"/><stop offset="0.675" stop-color="#e4cf13"/><stop offset="0.696" stop-color="#ddc919"/><stop offset="0.704" stop-color="#d7c61b"/><stop offset="0.711" stop-color="#cfc424"/><stop offset="0.732" stop-color="#b0bf32"/><stop offset="0.746" stop-color="#8bc234"/><stop offset="0.754" stop-color="#76c43e"/><stop offset="0.761" stop-color="#5ec54c"/><stop offset="0.782" stop-color="#0ec585"/><stop offset="0.789" stop-color="#02c495"/><stop offset="0.811" stop-color="#02b9bf"/><stop offset="0.832" stop-color="#02a8de"/><stop offset="0.861" stop-color="#0485f7"/><stop offset="0.875" stop-color="#1270fd"/><stop offset="0.882" stop-color="#1e66fd"/><stop offset="0.889" stop-color="#325dfb"/><stop offset="0.896" stop-color="#3d54f8"/><stop offset="0.911" stop-color="#4644ed"/><stop offset="0.932" stop-color="#4832d7"/><stop offset="0.954" stop-color="#462ac3"/><stop offset="0.975" stop-color="#4526bb"/><stop offset="0.996" stop-color="#4527bb"/></linearGradient><linearGradient id="c194" x1="0" y1="0" x2="0" y2="1"><stop offset="0.004" stop-color="#462ac5"/><stop offset="0.161" stop-color="#4833d8"/><stop offset="0.246" stop-color="#4546ef"/><stop offset="0.282" stop-color="#3c54f8"/><stop offset="0.311" stop-color="#2462fb"/><stop offset="0.339" stop-color="#1470fc"/><stop offset="0.411" stop-color="#0393ee"/><stop offset="0.446" stop-color="#03a2e1"/><stop offset="0.489" stop-color="#02b2c6"/><stop offset="0.518" stop-color="#02bbaa"/><stop offset="0.525" stop-color="#08bda0"/><stop offset="0.539" stop-color="#21c08a"/><stop offset="0.561" stop-color="#54c063"/><stop offset="0.568" stop-color="#62c059"/><stop offset="0.582" stop-color="#80bf52"/><stop offset="0.611" stop-color="#a1c43b"/><stop offset="0.646" stop-color="#adca31"/><stop offset="0.689" stop-color="#a8c536"/><stop offset="0.704" stop-color="#a0c33b"/><stop offset="0.718" stop-color="#93c046"/><stop offset="0.739" stop-color="#74c14c"/><stop offset="0.746" stop-color="#64c252"/><stop offset="0.754" stop-color="#53c35c"/><stop offset="0.782" stop-color="#07c294"/><stop offset="0.789" stop-color="#02c0a1"/><stop offset="0.811" stop-color="#02b6c3"/><stop offset="0.832" stop-color="#02a8de"/><stop offset="0.868" stop-color="#0380fb"/><stop offset="0.875" stop-color="#0976fd"/><stop offset="0.882" stop-color="#136cfe"/><stop offset="0.889" stop-color="#2b63fd"/><stop offset="0.896" stop-color="#395afc"/><stop offset="0.911" stop-color="#4449f2"/><stop offset="0.932" stop-color="#4836dd"/><stop offset="0.961" stop-color="#4528bf"/><stop offset="0.975" stop-color="#4425b7"/><stop offset="0.996" stop-color="#4424b3"/></linearGradient><linearGradient id="c195" x1="0" y1="0" x2="0" y2="1"><stop offset="0.004" stop-color="#4424b5"/><stop offset="0.154" stop-color="#4527bb"/><stop offset="0.246" stop-color="#462cc7"/><stop offset="0.389" stop-color="#4041e0"/><stop offset="0.461" stop-color="#364ee6"/><stop offset="0.518" stop-color="#2e5ae8"/><stop offset="0.575" stop-color="#2968e2"/><stop offset="0.646" stop-color="#2b72db"/><stop offset="0.732" stop-color="#2a6ddf"/><stop offset="0.811" stop-color="#285ce6"/><stop offset="0.846" stop-color="#3150e8"/><stop offset="0.868" stop-color="#3d47e6"/><stop offset="0.904" stop-color="#4736da"/><stop offset="0.961" stop-color="#4424b4"/><stop offset="0.996" stop-color="#4322b0"/></linearGradient><linearGradient id="c196" x1="0" y1="0" x2="0" y2="1"><stop offset="0.004" stop-color="#4629c1"/><stop offset="0.104" stop-color="#472cca"/><stop offset="0.175" stop-color="#4832d6"/><stop offset="0.268" stop-color="#4447ef"/><stop offset="0.304" stop-color="#3b54f7"/><stop offset="0.339" stop-color="#2263fb"/><stop offset="0.375" stop-color="#1572fa"/><stop offset="0.439" stop-color="#098bf1"/><stop offset="0.475" stop-color="#0698e7"/><stop offset="0.511" stop-color="#02a4d7"/><stop offset="0.546" stop-color="#02b0bf"/><stop offset="0.561" stop-color="#06b4b2"/><stop offset="0.589" stop-color="#26b796"/><stop offset="0.604" stop-color="#30b88b"/><stop offset="0.618" stop-color="#3eb885"/><stop offset="0.639" stop-color="#42b883"/><stop offset="0.654" stop-color="#3eb787"/><stop offset="0.668" stop-color="#32b68d"/><stop offset="0.696" stop-color="#25b49d"/><stop offset="0.725" stop-color="#09aeb6"/><stop offset="0.761" stop-color="#08a0d5"/><stop offset="0.782" stop-color="#0d94e3"/><stop offset="0.825" stop-color="#1b72f4"/><stop offset="0.846" stop-color="#275ef4"/><stop offset="0.861" stop-color="#3451ef"/><stop offset="0.882" stop-color="#4340e3"/><stop offset="0.904" stop-color="#4733d3"/><stop offset="0.946" stop-color="#4527bc"/><stop offset="0.996" stop-color="#4425b6"/></linearGradient><linearGradient id="c197" x1="0" y1="0" x2="0" y2="1"><stop offset="0.004" stop-color="#462bc6"/><stop offset="0.161" stop-color="#4835dc"/><stop offset="0.211" stop-color="#473fe9"/><stop offset="0.254" stop-color="#434df5"/><stop offset="0.289" stop-color="#365dfd"/><stop offset="0.304" stop-color="#2965fe"/><stop offset="0.318" stop-color="#0f6cfe"/><stop offset="0.346" stop-color="#047dfd"/><stop offset="0.425" stop-color="#02a4e5"/><stop offset="0.461" stop-color="#01b2d3"/><stop offset="0.504" stop-color="#01c0b0"/><stop offset="0.525" stop-color="#01c695"/><stop offset="0.539" stop-color="#01c97e"/><stop offset="0.546" stop-color="#0dca71"/><stop offset="0.568" stop-color="#6bc842"/><stop offset="0.582" stop-color="#9bc423"/><stop offset="0.596" stop-color="#bfc016"/><stop offset="0.604" stop-color="#ccbf15"/><stop offset="0.611" stop-color="#d6be1a"/><stop offset="0.632" stop-color="#e2bd22"/><stop offset="0.654" stop-color="#e1bd20"/><stop offset="0.682" stop-color="#d4be15"/><stop offset="0.696" stop-color="#c5c012"/><stop offset="0.711" stop-color="#aec31a"/><stop offset="0.725" stop-color="#8ac62f"/><stop offset="0.732" stop-color="#72c83f"/><stop offset="0.754" stop-color="#0fca6c"/><stop offset="0.761" stop-color="#01ca7b"/><stop offset="0.782" stop-color="#00c4a2"/><stop offset="0.818" stop-color="#01b0d7"/><stop offset="0.832" stop-color="#01a3e6"/><stop offset="0.868" stop-color="#0578fe"/><stop offset="0.875" stop-color="#0f6efe"/><stop offset="0.882" stop-color="#2764fe"/><stop offset="0.889" stop-color="#375cfc"/><stop offset="0.904" stop-color="#434cf4"/><stop offset="0.939" stop-color="#4831d5"/><stop offset="0.968" stop-color="#4629c2"/><stop offset="0.996" stop-color="#4526ba"/></linearGradient><linearGradient id="c198" x1="0" y1="0" x2="0" y2="1"><stop offset="0.004" stop-color="#4527bc"/><stop offset="0.161" stop-color="#462cc8"/><stop offset="0.225" stop-color="#4732d4"/><stop offset="0.282" stop-color="#453ee3"/><stop offset="0.346" stop-color="#3750f0"/><stop offset="0.418" stop-color="#2167f4"/><stop offset="0.511" stop-color="#1188e9"/><stop offset="0.546" stop-color="#0f95dc"/><stop offset="0.589" stop-color="#10a3c2"/><stop offset="0.632" stop-color="#1eabaf"/><stop offset="0.696" stop-color="#15adb1"/><stop offset="0.718" stop-color="#09acb8"/><stop offset="0.761" stop-color="#02a7cf"/><stop offset="0.789" stop-color="#049edf"/><stop offset="0.832" stop-color="#0887f3"/><stop offset="0.861" stop-color="#1470fc"/><stop offset="0.868" stop-color="#1a69fc"/><stop offset="0.889" stop-color="#3c55f9"/><stop offset="0.904" stop-color="#4449f2"/><stop offset="0.946" stop-color="#482fd1"/><stop offset="0.968" stop-color="#4629c2"/><stop offset="0.996" stop-color="#4526b9"/></linearGradient><linearGradient id="c199" x1="0" y1="0" x2="0" y2="1"><stop offset="0.004" stop-color="#4425b8"/><stop offset="0.132" stop-color="#4528be"/><stop offset="0.218" stop-color="#462dc9"/><stop offset="0.311" stop-color="#443adc"/><stop offset="0.396" stop-color="#354be6"/><stop offset="0.482" stop-color="#275be8"/><stop offset="0.575" stop-color="#206ce1"/><stop offset="0.618" stop-color="#236fdf"/><stop offset="0.718" stop-color="#2762e4"/><stop offset="0.761" stop-color="#3057e8"/><stop offset="0.804" stop-color="#3d49e5"/><stop offset="0.889" stop-color="#4632d0"/><stop offset="0.996" stop-color="#4424b4"/></linearGradient><linearGradient id="c200" x1="0" y1="0" x2="0" y2="1"><stop offset="0.004" stop-color="#462bc6"/><stop offset="0.096" stop-color="#472ece"/><stop offset="0.168" stop-color="#4834db"/><stop offset="0.218" stop-color="#473ee8"/><stop offset="0.261" stop-color="#434cf4"/><stop offset="0.304" stop-color="#345dfc"/><stop offset="0.318" stop-color="#2764fd"/><stop offset="0.325" stop-color="#1968fd"/><stop offset="0.332" stop-color="#136bfe"/><stop offset="0.368" stop-color="#047dfc"/><stop offset="0.446" stop-color="#029fe8"/><stop offset="0.489" stop-color="#02afd5"/><stop offset="0.532" stop-color="#02bcb7"/><stop offset="0.575" stop-color="#02c58b"/><stop offset="0.589" stop-color="#1ec57c"/><stop offset="0.604" stop-color="#33c670"/><stop offset="0.625" stop-color="#40c566"/><stop offset="0.646" stop-color="#3cc56b"/><stop offset="0.661" stop-color="#2bc576"/><stop offset="0.682" stop-color="#1ec482"/><stop offset="0.711" stop-color="#02c198"/><stop offset="0.746" stop-color="#02b8bb"/><stop offset="0.775" stop-color="#02aad6"/><stop offset="0.804" stop-color="#0395ec"/><stop offset="0.839" stop-color="#1670fb"/><stop offset="0.868" stop-color="#3c51f4"/><stop offset="0.882" stop-color="#4443eb"/><stop offset="0.911" stop-color="#4730d0"/><stop offset="0.939" stop-color="#4527bb"/><stop offset="0.996" stop-color="#4322af"/></linearGradient><linearGradient id="c201" x1="0" y1="0" x2="0" y2="1"><stop offset="0.004" stop-color="#4629c1"/><stop offset="0.146" stop-color="#472fd0"/><stop offset="0.211" stop-color="#4837de"/><stop offset="0.268" stop-color="#4546ef"/><stop offset="0.311" stop-color="#3957f9"/><stop offset="0.339" stop-color="#2263fc"/><stop offset="0.375" stop-color="#1174fc"/><stop offset="0.432" stop-color="#038df2"/><stop offset="0.489" stop-color="#02a5df"/><stop offset="0.532" stop-color="#02b4c4"/><stop offset="0.575" stop-color="#02c09c"/><stop offset="0.604" stop-color="#24c380"/><stop offset="0.625" stop-color="#31c474"/><stop offset="0.646" stop-color="#30c474"/><stop offset="0.668" stop-color="#21c480"/><stop offset="0.696" stop-color="#12c487"/><stop offset="0.711" stop-color="#02c48f"/><stop offset="0.746" stop-color="#01bfac"/><stop offset="0.789" stop-color="#01b1d3"/><stop offset="0.818" stop-color="#029ee9"/><stop offset="0.854" stop-color="#047afe"/><stop offset="0.861" stop-color="#0672fe"/><stop offset="0.875" stop-color="#3061fe"/><stop offset="0.882" stop-color="#3a5afd"/><stop offset="0.896" stop-color="#434cf4"/><stop offset="0.918" stop-color="#483ae4"/><stop offset="0.939" stop-color="#472fd0"/><stop offset="0.961" stop-color="#4629c0"/><stop offset="0.996" stop-color="#4423b2"/></linearGradient><linearGradient id="c202" x1="0" y1="0" x2="0" y2="1"><stop offset="0.004" stop-color="#4424b3"/><stop offset="0.168" stop-color="#4526ba"/><stop offset="0.275" stop-color="#462dc8"/><stop offset="0.418" stop-color="#4040df"/><stop offset="0.504" stop-color="#3250e6"/><stop offset="0.568" stop-color="#285fe5"/><stop offset="0.611" stop-color="#2767e2"/><stop offset="0.718" stop-color="#206ce4"/><stop offset="0.789" stop-color="#2068ef"/><stop offset="0.825" stop-color="#2660f5"/><stop offset="0.846" stop-color="#2e59f6"/><stop offset="0.868" stop-color="#3d4ff4"/><stop offset="0.911" stop-color="#483be4"/><stop offset="0.961" stop-color="#462ac4"/><stop offset="0.996" stop-color="#4424b4"/></linearGradient><linearGradient id="c203" x1="0" y1="0" x2="0" y2="1"><stop offset="0.004" stop-color="#4527bc"/><stop offset="0.161" stop-color="#472cca"/><stop offset="0.232" stop-color="#4834da"/><stop offset="0.289" stop-color="#4641ea"/><stop offset="0.339" stop-color="#3d50f5"/><stop offset="0.389" stop-color="#2561fa"/><stop offset="0.489" stop-color="#1080f4"/><stop offset="0.561" stop-color="#0a94e5"/><stop offset="0.611" stop-color="#099adc"/><stop offset="0.646" stop-color="#0c96df"/><stop offset="0.711" stop-color="#1286ea"/><stop offset="0.746" stop-color="#1877ef"/><stop offset="0.782" stop-color="#2561ee"/><stop offset="0.825" stop-color="#3e44e3"/><stop offset="0.868" stop-color="#4630cd"/><stop offset="0.896" stop-color="#462ac3"/><stop offset="0.939" stop-color="#4629c1"/><stop offset="0.996" stop-color="#4323b2"/></linearGradient><linearGradient id="c204" x1="0" y1="0" x2="0" y2="1"><stop offset="0.004" stop-color="#4629c0"/><stop offset="0.111" stop-color="#472cca"/><stop offset="0.182" stop-color="#4832d7"/><stop offset="0.225" stop-color="#483ae4"/><stop offset="0.275" stop-color="#444af3"/><stop offset="0.325" stop-color="#335ffe"/><stop offset="0.339" stop-color="#2666fe"/><stop offset="0.354" stop-color="#0b6dfe"/><stop offset="0.361" stop-color="#0571fe"/><stop offset="0.382" stop-color="#037cfe"/><stop offset="0.489" stop-color="#01acdf"/><stop offset="0.589" stop-color="#01c69b"/><stop offset="0.611" stop-color="#01c792"/><stop offset="0.625" stop-color="#01c791"/><stop offset="0.646" stop-color="#01c698"/><stop offset="0.668" stop-color="#01c3a6"/><stop offset="0.704" stop-color="#01c0b0"/><stop offset="0.754" stop-color="#01b3d2"/><stop offset="0.789" stop-color="#029de9"/><stop offset="0.818" stop-color="#0384f9"/><stop offset="0.832" stop-color="#0b74fd"/><stop offset="0.839" stop-color="#146cfd"/><stop offset="0.854" stop-color="#355cfb"/><stop offset="0.875" stop-color="#4546ef"/><stop offset="0.904" stop-color="#4730d2"/><stop offset="0.932" stop-color="#4526ba"/><stop offset="0.954" stop-color="#4424b3"/><stop offset="0.996" stop-color="#4322af"/></linearGradient><linearGradient id="c205" x1="0" y1="0" x2="0" y2="1"><stop offset="0.004" stop-color="#4526ba"/><stop offset="0.168" stop-color="#472cc8"/><stop offset="0.232" stop-color="#4833d6"/><stop offset="0.296" stop-color="#4641e9"/><stop offset="0.346" stop-color="#3d50f4"/><stop offset="0.396" stop-color="#2660f9"/><stop offset="0.496" stop-color="#1082f3"/><stop offset="0.575" stop-color="#0899e1"/><stop offset="0.625" stop-color="#07a0d8"/><stop offset="0.732" stop-color="#0799e6"/><stop offset="0.796" stop-color="#0983f5"/><stop offset="0.832" stop-color="#156dfd"/><stop offset="0.839" stop-color="#1c68fd"/><stop offset="0.854" stop-color="#345dfc"/><stop offset="0.868" stop-color="#4052f8"/><stop offset="0.882" stop-color="#4548f1"/><stop offset="0.918" stop-color="#4832d7"/><stop offset="0.954" stop-color="#4628c0"/><stop offset="0.996" stop-color="#4424b5"/></linearGradient><linearGradient id="c206" x1="0" y1="0" x2="0" y2="1"><stop offset="0.004" stop-color="#4423b3"/><stop offset="0.161" stop-color="#4426b9"/><stop offset="0.261" stop-color="#462bc5"/><stop offset="0.432" stop-color="#3e42e0"/><stop offset="0.532" stop-color="#2f53e6"/><stop offset="0.611" stop-color="#2e59e6"/><stop offset="0.711" stop-color="#364fe7"/><stop offset="0.754" stop-color="#3e47e4"/><stop offset="0.839" stop-color="#4438d7"/><stop offset="0.889" stop-color="#4834d9"/><stop offset="0.996" stop-color="#4526ba"/></linearGradient><linearGradient id="c207" x1="0" y1="0" x2="0" y2="1"><stop offset="0.004" stop-color="#4629c0"/><stop offset="0.146" stop-color="#472fcf"/><stop offset="0.211" stop-color="#4837de"/><stop offset="0.268" stop-color="#4546ef"/><stop offset="0.311" stop-color="#3a56f9"/><stop offset="0.361" stop-color="#176cfd"/><stop offset="0.432" stop-color="#038bf3"/><stop offset="0.482" stop-color="#029de7"/><stop offset="0.532" stop-color="#02acd5"/><stop offset="0.575" stop-color="#02b5c4"/><stop offset="0.604" stop-color="#02b7bf"/><stop offset="0.632" stop-color="#02b5c3"/><stop offset="0.668" stop-color="#02acd5"/><stop offset="0.718" stop-color="#02a1e3"/><stop offset="0.746" stop-color="#0391ef"/><stop offset="0.768" stop-color="#0982f6"/><stop offset="0.796" stop-color="#1a6cfc"/><stop offset="0.832" stop-color="#404cf2"/><stop offset="0.854" stop-color="#473adf"/><stop offset="0.882" stop-color="#4629c1"/><stop offset="0.904" stop-color="#4526ba"/><stop offset="0.946" stop-color="#462ac3"/><stop offset="0.996" stop-color="#4526bb"/></linearGradient><linearGradient id="c208" x1="0" y1="0" x2="0" y2="1"><stop offset="0.004" stop-color="#462bc6"/><stop offset="0.096" stop-color="#472ece"/><stop offset="0.168" stop-color="#4834da"/><stop offset="0.261" stop-color="#444af2"/><stop offset="0.304" stop-color="#385afb"/><stop offset="0.318" stop-color="#2e60fc"/><stop offset="0.332" stop-color="#1b67fd"/><stop offset="0.354" stop-color="#0e71fd"/><stop offset="0.396" stop-color="#0383f8"/><stop offset="0.504" stop-color="#02a9dc"/><stop offset="0.575" stop-color="#02b8bf"/><stop offset="0.611" stop-color="#02baba"/><stop offset="0.718" stop-color="#02a8dd"/><stop offset="0.789" stop-color="#037ffb"/><stop offset="0.811" stop-color="#0c70fe"/><stop offset="0.818" stop-color="#126bfe"/><stop offset="0.825" stop-color="#2665fe"/><stop offset="0.832" stop-color="#335ffd"/><stop offset="0.846" stop-color="#3f53f9"/><stop offset="0.861" stop-color="#4546f0"/><stop offset="0.889" stop-color="#4830d2"/><stop offset="0.918" stop-color="#4424b5"/><stop offset="0.996" stop-color="#4425b8"/></linearGradient><linearGradient id="c209" x1="0" y1="0" x2="0" y2="1"><stop offset="0.004" stop-color="#4425b7"/><stop offset="0.175" stop-color="#4529c0"/><stop offset="0.311" stop-color="#4536d6"/><stop offset="0.454" stop-color="#354ce5"/><stop offset="0.611" stop-color="#285fe6"/><stop offset="0.739" stop-color="#2f51e7"/><stop offset="0.782" stop-color="#3c47e5"/><stop offset="0.832" stop-color="#443fe4"/><stop offset="0.868" stop-color="#4835da"/><stop offset="0.939" stop-color="#4424b4"/><stop offset="0.996" stop-color="#4323b1"/></linearGradient><linearGradient id="c210" x1="0" y1="0" x2="0" y2="1"><stop offset="0.004" stop-color="#4629c1"/><stop offset="0.146" stop-color="#472ecc"/><stop offset="0.211" stop-color="#4834d9"/><stop offset="0.268" stop-color="#4640e8"/><stop offset="0.318" stop-color="#3d4ff3"/><stop offset="0.368" stop-color="#265ff8"/><stop offset="0.432" stop-color="#1872f7"/><stop offset="0.489" stop-color="#1082f2"/><stop offset="0.589" stop-color="#0d91e7"/><stop offset="0.632" stop-color="#0f8dea"/><stop offset="0.689" stop-color="#157cf2"/><stop offset="0.711" stop-color="#1873f5"/><stop offset="0.739" stop-color="#2560f6"/><stop offset="0.768" stop-color="#3d4df0"/><stop offset="0.782" stop-color="#4246eb"/><stop offset="0.818" stop-color="#463add"/><stop offset="0.868" stop-color="#4529c0"/><stop offset="0.889" stop-color="#4425b7"/><stop offset="0.932" stop-color="#4526bb"/><stop offset="0.996" stop-color="#4423b2"/></linearGradient><linearGradient id="c211" x1="0" y1="0" x2="0" y2="1"><stop offset="0.004" stop-color="#462bc5"/><stop offset="0.096" stop-color="#472fcf"/><stop offset="0.168" stop-color="#4835db"/><stop offset="0.218" stop-color="#473fe9"/><stop offset="0.261" stop-color="#434df5"/><stop offset="0.304" stop-color="#335ffd"/><stop offset="0.318" stop-color="#2566fe"/><stop offset="0.332" stop-color="#0c6dfe"/><stop offset="0.354" stop-color="#0478fe"/><stop offset="0.418" stop-color="#0395ee"/><stop offset="0.489" stop-color="#02aeda"/><stop offset="0.561" stop-color="#01bcbb"/><stop offset="0.596" stop-color="#01beb5"/><stop offset="0.625" stop-color="#01bcbb"/><stop offset="0.668" stop-color="#02b1d6"/><stop offset="0.696" stop-color="#02aae0"/><stop offset="0.725" stop-color="#0296ee"/><stop offset="0.754" stop-color="#0576fe"/><stop offset="0.761" stop-color="#0b6efe"/><stop offset="0.775" stop-color="#2d62fd"/><stop offset="0.796" stop-color="#3a5afc"/><stop offset="0.825" stop-color="#4150f7"/><stop offset="0.846" stop-color="#4643ed"/><stop offset="0.875" stop-color="#472fd0"/><stop offset="0.904" stop-color="#4323b2"/><stop offset="0.911" stop-color="#4322b0"/><stop offset="0.946" stop-color="#4527bd"/><stop offset="0.996" stop-color="#4525b9"/></linearGradient><linearGradient id="c212" x1="0" y1="0" x2="0" y2="1"><stop offset="0.004" stop-color="#4526b9"/><stop offset="0.161" stop-color="#462bc5"/><stop offset="0.282" stop-color="#463ce1"/><stop offset="0.339" stop-color="#3d4bee"/><stop offset="0.382" stop-color="#2d58f3"/><stop offset="0.482" stop-color="#1876f3"/><stop offset="0.546" stop-color="#1285ed"/><stop offset="0.596" stop-color="#108ae9"/><stop offset="0.632" stop-color="#1088ec"/><stop offset="0.689" stop-color="#167af3"/><stop offset="0.704" stop-color="#1875f5"/><stop offset="0.732" stop-color="#2562f7"/><stop offset="0.754" stop-color="#3950f2"/><stop offset="0.768" stop-color="#4148ed"/><stop offset="0.839" stop-color="#473ce3"/><stop offset="0.911" stop-color="#4322af"/><stop offset="0.946" stop-color="#4527bc"/><stop offset="0.996" stop-color="#4527bd"/></linearGradient><linearGradient id="c213" x1="0" y1="0" x2="0" y2="1"><stop offset="0.004" stop-color="#4425b6"/><stop offset="0.168" stop-color="#4528bf"/><stop offset="0.304" stop-color="#4637d8"/><stop offset="0.375" stop-color="#3e44e3"/><stop offset="0.432" stop-color="#334ee7"/><stop offset="0.511" stop-color="#285be8"/><stop offset="0.582" stop-color="#2661e6"/><stop offset="0.639" stop-color="#275ce6"/><stop offset="0.711" stop-color="#364ae5"/><stop offset="0.746" stop-color="#4438d9"/><stop offset="0.775" stop-color="#462fcc"/><stop offset="0.832" stop-color="#462dc9"/><stop offset="0.896" stop-color="#4425b7"/><stop offset="0.996" stop-color="#4527bd"/></linearGradient><linearGradient id="c214" x1="0" y1="0" x2="0" y2="1"><stop offset="0.004" stop-color="#462ac2"/><stop offset="0.104" stop-color="#472dcc"/><stop offset="0.175" stop-color="#4833d9"/><stop offset="0.225" stop-color="#483de7"/><stop offset="0.268" stop-color="#444bf3"/><stop offset="0.311" stop-color="#355cfc"/><stop offset="0.325" stop-color="#2963fd"/><stop offset="0.332" stop-color="#1c66fd"/><stop offset="0.354" stop-color="#0d71fe"/><stop offset="0.382" stop-color="#047ffb"/><stop offset="0.482" stop-color="#02a6e1"/><stop offset="0.554" stop-color="#02b5c8"/><stop offset="0.589" stop-color="#02b8c2"/><stop offset="0.625" stop-color="#02b5c8"/><stop offset="0.668" stop-color="#02a6e0"/><stop offset="0.689" stop-color="#02a0e6"/><stop offset="0.711" stop-color="#0292f0"/><stop offset="0.725" stop-color="#0481f9"/><stop offset="0.739" stop-color="#156cfd"/><stop offset="0.746" stop-color="#2d61fc"/><stop offset="0.754" stop-color="#3b57fa"/><stop offset="0.775" stop-color="#4645ef"/><stop offset="0.839" stop-color="#4644ed"/><stop offset="0.861" stop-color="#483ae2"/><stop offset="0.889" stop-color="#472dcb"/><stop offset="0.925" stop-color="#4425b8"/><stop offset="0.946" stop-color="#4424b5"/><stop offset="0.996" stop-color="#4526ba"/></linearGradient><linearGradient id="c215" x1="0" y1="0" x2="0" y2="1"><stop offset="0.004" stop-color="#4629c1"/><stop offset="0.146" stop-color="#472fd0"/><stop offset="0.211" stop-color="#4837de"/><stop offset="0.268" stop-color="#4546ef"/><stop offset="0.311" stop-color="#3b56f9"/><stop offset="0.361" stop-color="#186bfd"/><stop offset="0.389" stop-color="#0e77fb"/><stop offset="0.454" stop-color="#0390f0"/><stop offset="0.532" stop-color="#02a6dc"/><stop offset="0.596" stop-color="#02add1"/><stop offset="0.639" stop-color="#02a7db"/><stop offset="0.668" stop-color="#039ce8"/><stop offset="0.696" stop-color="#0393ee"/><stop offset="0.718" stop-color="#0882f7"/><stop offset="0.732" stop-color="#1370fd"/><stop offset="0.739" stop-color="#1e66fc"/><stop offset="0.746" stop-color="#335cfb"/><stop offset="0.754" stop-color="#3d53f8"/><stop offset="0.775" stop-color="#4643ec"/><stop offset="0.825" stop-color="#4545ee"/><stop offset="0.846" stop-color="#4740e9"/><stop offset="0.904" stop-color="#4527bd"/><stop offset="0.925" stop-color="#4423b2"/><stop offset="0.954" stop-color="#4322b0"/><stop offset="0.996" stop-color="#4424b5"/></linearGradient><linearGradient id="c216" x1="0" y1="0" x2="0" y2="1"><stop offset="0.004" stop-color="#4424b5"/><stop offset="0.146" stop-color="#4526ba"/><stop offset="0.239" stop-color="#462bc4"/><stop offset="0.418" stop-color="#4041e0"/><stop offset="0.539" stop-color="#3550e7"/><stop offset="0.604" stop-color="#3452e8"/><stop offset="0.711" stop-color="#3f43e2"/><stop offset="0.775" stop-color="#462dc9"/><stop offset="0.832" stop-color="#462dc9"/><stop offset="0.904" stop-color="#4424b5"/><stop offset="0.996" stop-color="#4322b0"/></linearGradient><linearGradient id="c217" x1="0" y1="0" x2="0" y2="1"><stop offset="0.004" stop-color="#4628c0"/><stop offset="0.146" stop-color="#472ecd"/><stop offset="0.211" stop-color="#4835db"/><stop offset="0.268" stop-color="#4543eb"/><stop offset="0.311" stop-color="#3d52f5"/><stop offset="0.361" stop-color="#2165fb"/><stop offset="0.418" stop-color="#107bf7"/><stop offset="0.496" stop-color="#0794eb"/><stop offset="0.546" stop-color="#029fe0"/><stop offset="0.589" stop-color="#02a2dc"/><stop offset="0.632" stop-color="#049ce3"/><stop offset="0.668" stop-color="#088eef"/><stop offset="0.696" stop-color="#0d87f3"/><stop offset="0.725" stop-color="#1673f9"/><stop offset="0.739" stop-color="#2265fa"/><stop offset="0.761" stop-color="#3b51f4"/><stop offset="0.782" stop-color="#4347ee"/><stop offset="0.839" stop-color="#4641e9"/><stop offset="0.889" stop-color="#472ece"/><stop offset="0.925" stop-color="#4526bb"/><stop offset="0.954" stop-color="#4424b4"/><stop offset="0.996" stop-color="#4323b0"/></linearGradient><linearGradient id="c218" x1="0" y1="0" x2="0" y2="1"><stop offset="0.004" stop-color="#462bc6"/><stop offset="0.096" stop-color="#472fcf"/><stop offset="0.168" stop-color="#4835dc"/><stop offset="0.211" stop-color="#483de7"/><stop offset="0.261" stop-color="#424ef5"/><stop offset="0.304" stop-color="#3160fd"/><stop offset="0.311" stop-color="#2a64fd"/><stop offset="0.325" stop-color="#106bfe"/><stop offset="0.346" stop-color="#0577fe"/><stop offset="0.411" stop-color="#0394ef"/><stop offset="0.475" stop-color="#02abdd"/><stop offset="0.546" stop-color="#01bac0"/><stop offset="0.589" stop-color="#01bcb8"/><stop offset="0.618" stop-color="#01babe"/><stop offset="0.668" stop-color="#02acdc"/><stop offset="0.696" stop-color="#02a5e3"/><stop offset="0.725" stop-color="#0393f0"/><stop offset="0.754" stop-color="#0575fe"/><stop offset="0.761" stop-color="#0b6dfe"/><stop offset="0.768" stop-color="#2167fe"/><stop offset="0.775" stop-color="#2d63fe"/><stop offset="0.789" stop-color="#365dfd"/><stop offset="0.825" stop-color="#3d55fa"/><stop offset="0.846" stop-color="#434bf4"/><stop offset="0.868" stop-color="#483de7"/><stop offset="0.889" stop-color="#4831d4"/><stop offset="0.911" stop-color="#462ac2"/><stop offset="0.932" stop-color="#4425b8"/><stop offset="0.961" stop-color="#4424b3"/><stop offset="0.996" stop-color="#4424b5"/></linearGradient><linearGradient id="c219" x1="0" y1="0" x2="0" y2="1"><stop offset="0.004" stop-color="#4526ba"/><stop offset="0.161" stop-color="#462bc6"/><stop offset="0.289" stop-color="#453cdf"/><stop offset="0.354" stop-color="#3a4bea"/><stop offset="0.425" stop-color="#275bed"/><stop offset="0.525" stop-color="#1e6eea"/><stop offset="0.589" stop-color="#1d73e9"/><stop offset="0.689" stop-color="#2266ef"/><stop offset="0.725" stop-color="#275cf1"/><stop offset="0.746" stop-color="#3352ef"/><stop offset="0.768" stop-color="#3f48eb"/><stop offset="0.789" stop-color="#4343e7"/><stop offset="0.839" stop-color="#4638db"/><stop offset="0.896" stop-color="#4527bb"/><stop offset="0.925" stop-color="#4423b2"/><stop offset="0.946" stop-color="#4323b0"/><stop offset="0.996" stop-color="#4526b9"/></linearGradient><linearGradient id="c220" x1="0" y1="0" x2="0" y2="1"><stop offset="0.004" stop-color="#4526ba"/><stop offset="0.154" stop-color="#462bc5"/><stop offset="0.218" stop-color="#4730d0"/><stop offset="0.282" stop-color="#453ce0"/><stop offset="0.332" stop-color="#3d49ea"/><stop offset="0.396" stop-color="#2a5af0"/><stop offset="0.454" stop-color="#2068f0"/><stop offset="0.504" stop-color="#1d71ed"/><stop offset="0.575" stop-color="#1878ea"/><stop offset="0.625" stop-color="#1c73eb"/><stop offset="0.718" stop-color="#275ced"/><stop offset="0.739" stop-color="#2d55eb"/><stop offset="0.782" stop-color="#3e46e5"/><stop offset="0.832" stop-color="#453add"/><stop offset="0.946" stop-color="#4322ae"/><stop offset="0.996" stop-color="#4527bc"/></linearGradient><linearGradient id="c221" x1="0" y1="0" x2="0" y2="1"><stop offset="0.004" stop-color="#472cc9"/><stop offset="0.161" stop-color="#4836de"/><stop offset="0.211" stop-color="#4740eb"/><stop offset="0.254" stop-color="#424ff6"/><stop offset="0.289" stop-color="#345efd"/><stop offset="0.304" stop-color="#2665fd"/><stop offset="0.318" stop-color="#0d6cfe"/><stop offset="0.339" stop-color="#0478fe"/><stop offset="0.404" stop-color="#0395ee"/><stop offset="0.468" stop-color="#02acdc"/><stop offset="0.539" stop-color="#01bac0"/><stop offset="0.582" stop-color="#01bdb8"/><stop offset="0.618" stop-color="#01babf"/><stop offset="0.668" stop-color="#02abdc"/><stop offset="0.711" stop-color="#02a4e4"/><stop offset="0.775" stop-color="#0382fa"/><stop offset="0.796" stop-color="#0975fe"/><stop offset="0.818" stop-color="#1a67fd"/><stop offset="0.825" stop-color="#2b62fd"/><stop offset="0.832" stop-color="#355dfd"/><stop offset="0.861" stop-color="#4548f1"/><stop offset="0.896" stop-color="#4831d3"/><stop offset="0.939" stop-color="#4322b0"/><stop offset="0.996" stop-color="#4527bc"/></linearGradient><linearGradient id="c222" x1="0" y1="0" x2="0" y2="1"><stop offset="0.004" stop-color="#4629c1"/><stop offset="0.146" stop-color="#472ece"/><stop offset="0.204" stop-color="#4834d9"/><stop offset="0.261" stop-color="#4641e8"/><stop offset="0.304" stop-color="#3e4ef2"/><stop offset="0.354" stop-color="#2560f8"/><stop offset="0.404" stop-color="#1871f8"/><stop offset="0.504" stop-color="#0a8fec"/><stop offset="0.596" stop-color="#069de0"/><stop offset="0.632" stop-color="#069ae5"/><stop offset="0.668" stop-color="#088fee"/><stop offset="0.732" stop-color="#0986f4"/><stop offset="0.768" stop-color="#0f77fa"/><stop offset="0.804" stop-color="#2065fc"/><stop offset="0.825" stop-color="#3857f9"/><stop offset="0.846" stop-color="#4349f0"/><stop offset="0.889" stop-color="#472ecd"/><stop offset="0.911" stop-color="#4526ba"/><stop offset="0.925" stop-color="#4423b3"/><stop offset="0.996" stop-color="#4526ba"/></linearGradient><linearGradient id="c223" x1="0" y1="0" x2="0" y2="1"><stop offset="0.004" stop-color="#4425b8"/><stop offset="0.132" stop-color="#4527bd"/><stop offset="0.218" stop-color="#462cc6"/><stop offset="0.382" stop-color="#4040e0"/><stop offset="0.475" stop-color="#364be5"/><stop offset="0.582" stop-color="#3551e8"/><stop offset="0.668" stop-color="#3e47e3"/><stop offset="0.761" stop-color="#413fdf"/><stop offset="0.811" stop-color="#4436d6"/><stop offset="0.875" stop-color="#462bc4"/><stop offset="0.996" stop-color="#4424b5"/></linearGradient><linearGradient id="c224" x1="0" y1="0" x2="0" y2="1"><stop offset="0.004" stop-color="#462ac4"/><stop offset="0.139" stop-color="#4830d3"/><stop offset="0.196" stop-color="#4837df"/><stop offset="0.246" stop-color="#4643ed"/><stop offset="0.304" stop-color="#3b57fb"/><stop offset="0.332" stop-color="#2a63fd"/><stop offset="0.339" stop-color="#1e66fd"/><stop offset="0.354" stop-color="#136cfd"/><stop offset="0.411" stop-color="#0482f9"/><stop offset="0.511" stop-color="#029ee7"/><stop offset="0.582" stop-color="#02a6de"/><stop offset="0.625" stop-color="#02a0e4"/><stop offset="0.668" stop-color="#0390ef"/><stop offset="0.732" stop-color="#0886f4"/><stop offset="0.789" stop-color="#166ffb"/><stop offset="0.818" stop-color="#2760fa"/><stop offset="0.839" stop-color="#3b54f7"/><stop offset="0.875" stop-color="#4741ea"/><stop offset="0.911" stop-color="#4831d5"/><stop offset="0.954" stop-color="#4527bc"/><stop offset="0.996" stop-color="#4322b0"/></linearGradient><linearGradient id="c225" x1="0" y1="0" x2="0" y2="1"><stop offset="0.004" stop-color="#4528be"/><stop offset="0.154" stop-color="#472ecd"/><stop offset="0.218" stop-color="#4835dc"/><stop offset="0.275" stop-color="#4544ed"/><stop offset="0.325" stop-color="#3a56f9"/><stop offset="0.368" stop-color="#1c68fc"/><stop offset="0.404" stop-color="#0e76fb"/><stop offset="0.454" stop-color="#038af3"/><stop offset="0.539" stop-color="#02a5e1"/><stop offset="0.604" stop-color="#02acd8"/><stop offset="0.632" stop-color="#02aadd"/><stop offset="0.668" stop-color="#029fe8"/><stop offset="0.739" stop-color="#029aec"/><stop offset="0.775" stop-color="#038ef4"/><stop offset="0.811" stop-color="#0479fe"/><stop offset="0.825" stop-color="#0c6efe"/><stop offset="0.839" stop-color="#2c63fe"/><stop offset="0.854" stop-color="#3b58fc"/><stop offset="0.882" stop-color="#4742ec"/><stop offset="0.911" stop-color="#4831d4"/><stop offset="0.954" stop-color="#4424b3"/><stop offset="0.996" stop-color="#4425b7"/></linearGradient><linearGradient id="c226" x1="0" y1="0" x2="0" y2="1"><stop offset="0.004" stop-color="#4423b2"/><stop offset="0.189" stop-color="#4526b9"/><stop offset="0.339" stop-color="#4532d0"/><stop offset="0.454" stop-color="#3f42e0"/><stop offset="0.532" stop-color="#3050e5"/><stop offset="0.589" stop-color="#2a59e8"/><stop offset="0.725" stop-color="#275ef1"/><stop offset="0.782" stop-color="#2d57f2"/><stop offset="0.825" stop-color="#3f49ec"/><stop offset="0.861" stop-color="#4639dd"/><stop offset="0.904" stop-color="#4529c0"/><stop offset="0.925" stop-color="#4425b7"/><stop offset="0.996" stop-color="#4528be"/></linearGradient><linearGradient id="c227" x1="0" y1="0" x2="0" y2="1"><stop offset="0.004" stop-color="#4526b9"/><stop offset="0.175" stop-color="#462bc6"/><stop offset="0.254" stop-color="#4833d7"/><stop offset="0.325" stop-color="#4642ea"/><stop offset="0.389" stop-color="#3e50f5"/><stop offset="0.468" stop-color="#2560f9"/><stop offset="0.511" stop-color="#1f67f8"/><stop offset="0.568" stop-color="#1e6bf5"/><stop offset="0.611" stop-color="#1f68f3"/><stop offset="0.668" stop-color="#2b59f0"/><stop offset="0.725" stop-color="#2e52ea"/><stop offset="0.846" stop-color="#4539da"/><stop offset="0.996" stop-color="#4629c2"/></linearGradient><linearGradient id="c228" x1="0" y1="0" x2="0" y2="1"><stop offset="0.004" stop-color="#4527bc"/><stop offset="0.132" stop-color="#462bc6"/><stop offset="0.218" stop-color="#4832d7"/><stop offset="0.304" stop-color="#4547f0"/><stop offset="0.368" stop-color="#375cfd"/><stop offset="0.389" stop-color="#2b64fe"/><stop offset="0.418" stop-color="#096ffe"/><stop offset="0.432" stop-color="#0474fe"/><stop offset="0.468" stop-color="#0381fc"/><stop offset="0.532" stop-color="#0296ee"/><stop offset="0.604" stop-color="#02a1e8"/><stop offset="0.668" stop-color="#0293f0"/><stop offset="0.739" stop-color="#0290f1"/><stop offset="0.789" stop-color="#0381fa"/><stop offset="0.825" stop-color="#126efe"/><stop offset="0.839" stop-color="#2065fd"/><stop offset="0.854" stop-color="#355dfc"/><stop offset="0.875" stop-color="#4150f7"/><stop offset="0.904" stop-color="#4741eb"/><stop offset="0.939" stop-color="#4833d8"/><stop offset="0.996" stop-color="#4629c0"/></linearGradient><linearGradient id="c229" x1="0" y1="0" x2="0" y2="1"><stop offset="0.004" stop-color="#4424b6"/><stop offset="0.196" stop-color="#4629c2"/><stop offset="0.275" stop-color="#4731d3"/><stop offset="0.361" stop-color="#4542e9"/><stop offset="0.425" stop-color="#3a52f5"/><stop offset="0.482" stop-color="#2363fa"/><stop offset="0.525" stop-color="#1771fa"/><stop offset="0.589" stop-color="#0c82f5"/><stop offset="0.625" stop-color="#0885f4"/><stop offset="0.668" stop-color="#0a80f7"/><stop offset="0.732" stop-color="#0487f5"/><stop offset="0.775" stop-color="#0582f8"/><stop offset="0.818" stop-color="#0d72fe"/><stop offset="0.832" stop-color="#166afe"/><stop offset="0.846" stop-color="#2c62fd"/><stop offset="0.861" stop-color="#3a59fb"/><stop offset="0.889" stop-color="#4547f1"/><stop offset="0.925" stop-color="#4835db"/><stop offset="0.961" stop-color="#462ac5"/><stop offset="0.996" stop-color="#4425b8"/></linearGradient><linearGradient id="c230" x1="0" y1="0" x2="0" y2="1"><stop offset="0.004" stop-color="#4323b1"/><stop offset="0.211" stop-color="#4425b6"/><stop offset="0.539" stop-color="#4339d9"/><stop offset="0.789" stop-color="#3f43e2"/><stop offset="0.854" stop-color="#4539db"/><stop offset="0.939" stop-color="#4526ba"/><stop offset="0.996" stop-color="#4323b1"/></linearGradient><linearGradient id="c231" x1="0" y1="0" x2="0" y2="1"><stop offset="0.004" stop-color="#4424b6"/><stop offset="0.196" stop-color="#4629c2"/><stop offset="0.282" stop-color="#4832d5"/><stop offset="0.382" stop-color="#4644ed"/><stop offset="0.461" stop-color="#3b55f8"/><stop offset="0.532" stop-color="#2164fc"/><stop offset="0.596" stop-color="#1b6bfb"/><stop offset="0.754" stop-color="#2d58f5"/><stop offset="0.782" stop-color="#3551f1"/><stop offset="0.811" stop-color="#3e49ec"/><stop offset="0.861" stop-color="#463add"/><stop offset="0.932" stop-color="#462bc7"/><stop offset="0.996" stop-color="#4527bb"/></linearGradient><linearGradient id="c232" x1="0" y1="0" x2="0" y2="1"><stop offset="0.004" stop-color="#4425b7"/><stop offset="0.189" stop-color="#462ac4"/><stop offset="0.282" stop-color="#4834db"/><stop offset="0.375" stop-color="#444af3"/><stop offset="0.454" stop-color="#3360fe"/><stop offset="0.475" stop-color="#2666fe"/><stop offset="0.496" stop-color="#0d6dfe"/><stop offset="0.511" stop-color="#0772ff"/><stop offset="0.568" stop-color="#0382fc"/><stop offset="0.618" stop-color="#0288f9"/><stop offset="0.668" stop-color="#0381fd"/><stop offset="0.739" stop-color="#0386fa"/><stop offset="0.796" stop-color="#037afe"/><stop offset="0.825" stop-color="#106dfe"/><stop offset="0.846" stop-color="#2e61fd"/><stop offset="0.861" stop-color="#3959fc"/><stop offset="0.889" stop-color="#444af3"/><stop offset="0.932" stop-color="#4836de"/><stop offset="0.996" stop-color="#462ac3"/></linearGradient><linearGradient id="c233" x1="0" y1="0" x2="0" y2="1"><stop offset="0.004" stop-color="#4424b4"/><stop offset="0.211" stop-color="#4528be"/><stop offset="0.318" stop-color="#4731d3"/><stop offset="0.432" stop-color="#4542e9"/><stop offset="0.511" stop-color="#3b51f4"/><stop offset="0.596" stop-color="#2462fa"/><stop offset="0.668" stop-color="#2263fb"/><stop offset="0.761" stop-color="#1470fc"/><stop offset="0.789" stop-color="#146efd"/><stop offset="0.818" stop-color="#1a68fd"/><stop offset="0.832" stop-color="#2364fd"/><stop offset="0.846" stop-color="#325efc"/><stop offset="0.868" stop-color="#3d55fa"/><stop offset="0.904" stop-color="#4644ee"/><stop offset="0.939" stop-color="#4836dd"/><stop offset="0.996" stop-color="#462bc5"/></linearGradient><linearGradient id="c234" x1="0" y1="0" x2="0" y2="1"><stop offset="0.004" stop-color="#4322b0"/><stop offset="0.225" stop-color="#4424b5"/><stop offset="0.561" stop-color="#4435d5"/><stop offset="0.854" stop-color="#4638db"/><stop offset="0.904" stop-color="#4733d6"/><stop offset="0.996" stop-color="#4528bf"/></linearGradient><linearGradient id="c235" x1="0" y1="0" x2="0" y2="1"><stop offset="0.004" stop-color="#4424b6"/><stop offset="0.204" stop-color="#4629c2"/><stop offset="0.296" stop-color="#4832d6"/><stop offset="0.404" stop-color="#4643ed"/><stop offset="0.496" stop-color="#3c55f9"/><stop offset="0.568" stop-color="#2760fb"/><stop offset="0.596" stop-color="#2363fc"/><stop offset="0.639" stop-color="#2660fb"/><stop offset="0.668" stop-color="#305bfa"/><stop offset="0.732" stop-color="#2f5af8"/><stop offset="0.782" stop-color="#3b50f3"/><stop offset="0.839" stop-color="#453de2"/><stop offset="0.918" stop-color="#4527bd"/><stop offset="0.954" stop-color="#4425b6"/><stop offset="0.996" stop-color="#4424b4"/></linearGradient><linearGradient id="c236" x1="0" y1="0" x2="0" y2="1"><stop offset="0.004" stop-color="#4425b7"/><stop offset="0.196" stop-color="#462ac3"/><stop offset="0.296" stop-color="#4834da"/><stop offset="0.411" stop-color="#4449f2"/><stop offset="0.504" stop-color="#345efd"/><stop offset="0.532" stop-color="#2765fe"/><stop offset="0.554" stop-color="#156afe"/><stop offset="0.582" stop-color="#0b6ffe"/><stop offset="0.625" stop-color="#0773fe"/><stop offset="0.668" stop-color="#0c6efe"/><stop offset="0.732" stop-color="#0474ff"/><stop offset="0.768" stop-color="#0472fe"/><stop offset="0.789" stop-color="#0b6dfe"/><stop offset="0.825" stop-color="#3061fe"/><stop offset="0.868" stop-color="#434cf4"/><stop offset="0.925" stop-color="#4831d4"/><stop offset="0.961" stop-color="#4628c0"/><stop offset="0.996" stop-color="#4424b5"/></linearGradient><linearGradient id="c237" x1="0" y1="0" x2="0" y2="1"><stop offset="0.004" stop-color="#4323b1"/><stop offset="0.189" stop-color="#4424b6"/><stop offset="0.311" stop-color="#462ac4"/><stop offset="0.461" stop-color="#4739de"/><stop offset="0.561" stop-color="#4148ed"/><stop offset="0.668" stop-color="#3d4ef2"/><stop offset="0.746" stop-color="#3259f8"/><stop offset="0.782" stop-color="#325af9"/><stop offset="0.825" stop-color="#3b56f9"/><stop offset="0.875" stop-color="#4548f1"/><stop offset="0.932" stop-color="#4833d9"/><stop offset="0.996" stop-color="#4528be"/></linearGradient><linearGradient id="c238" x1="0" y1="0" x2="0" y2="1"><stop offset="0.004" stop-color="#4323b1"/><stop offset="0.218" stop-color="#4424b5"/><stop offset="0.561" stop-color="#4630cf"/><stop offset="0.789" stop-color="#4530ce"/><stop offset="0.882" stop-color="#4732d4"/><stop offset="0.925" stop-color="#472fd0"/><stop offset="0.996" stop-color="#4629c1"/></linearGradient><linearGradient id="c239" x1="0" y1="0" x2="0" y2="1"><stop offset="0.004" stop-color="#4323b1"/><stop offset="0.225" stop-color="#4527bc"/><stop offset="0.454" stop-color="#473ee8"/><stop offset="0.596" stop-color="#414ff6"/><stop offset="0.725" stop-color="#434af2"/><stop offset="0.775" stop-color="#4543ec"/><stop offset="0.818" stop-color="#4739df"/><stop offset="0.875" stop-color="#4629c2"/><stop offset="0.904" stop-color="#4426b9"/><stop offset="0.996" stop-color="#4528bf"/></linearGradient><linearGradient id="c240" x1="0" y1="0" x2="0" y2="1"><stop offset="0.004" stop-color="#4323b1"/><stop offset="0.225" stop-color="#4527bc"/><stop offset="0.361" stop-color="#4832d7"/><stop offset="0.468" stop-color="#4741eb"/><stop offset="0.618" stop-color="#3e54fa"/><stop offset="0.668" stop-color="#4051f8"/><stop offset="0.746" stop-color="#3e55fa"/><stop offset="0.804" stop-color="#434ef6"/><stop offset="0.861" stop-color="#483be5"/><stop offset="0.939" stop-color="#4424b4"/><stop offset="0.954" stop-color="#4323b2"/><stop offset="0.996" stop-color="#4525b9"/></linearGradient><linearGradient id="c241" x1="0" y1="0" x2="0" y2="1"><stop offset="0.004" stop-color="#4323b1"/><stop offset="0.239" stop-color="#4425b8"/><stop offset="0.582" stop-color="#4738dd"/><stop offset="0.789" stop-color="#4641ea"/><stop offset="0.861" stop-color="#4838e1"/><stop offset="0.961" stop-color="#4424b3"/><stop offset="0.996" stop-color="#4323b1"/></linearGradient><linearGradient id="c242" x1="0" y1="0" x2="0" y2="1"><stop offset="0.004" stop-color="#4322af"/><stop offset="0.232" stop-color="#4424b4"/><stop offset="0.582" stop-color="#4630cf"/><stop offset="0.904" stop-color="#4629c2"/><stop offset="0.996" stop-color="#4323b1"/></linearGradient><linearGradient id="c243" x1="0" y1="0" x2="0" y2="1"><stop offset="0.004" stop-color="#4424b4"/><stop offset="0.211" stop-color="#4527be"/><stop offset="0.446" stop-color="#483be5"/><stop offset="0.604" stop-color="#444af3"/><stop offset="0.768" stop-color="#4641ea"/><stop offset="0.825" stop-color="#4835db"/><stop offset="0.904" stop-color="#4424b5"/><stop offset="0.961" stop-color="#4525b8"/><stop offset="0.996" stop-color="#4424b5"/></linearGradient><linearGradient id="c244" x1="0" y1="0" x2="0" y2="1"><stop offset="0.004" stop-color="#4423b3"/><stop offset="0.225" stop-color="#4527bc"/><stop offset="0.404" stop-color="#4834d9"/><stop offset="0.568" stop-color="#4547f0"/><stop offset="0.732" stop-color="#444af3"/><stop offset="0.789" stop-color="#4546f0"/><stop offset="0.832" stop-color="#483de7"/><stop offset="0.861" stop-color="#4834db"/><stop offset="0.932" stop-color="#4322b0"/><stop offset="0.996" stop-color="#4425b7"/></linearGradient><linearGradient id="c245" x1="0" y1="0" x2="0" y2="1"><stop offset="0.004" stop-color="#4322af"/><stop offset="0.296" stop-color="#4424b5"/><stop offset="0.775" stop-color="#4735da"/><stop offset="0.846" stop-color="#4731d3"/><stop offset="0.946" stop-color="#4322ae"/><stop offset="0.996" stop-color="#4425b6"/></linearGradient><linearGradient id="c246" x1="0" y1="0" x2="0" y2="1"><stop offset="0.004" stop-color="#4323b0"/><stop offset="0.211" stop-color="#4424b5"/><stop offset="0.575" stop-color="#472fcf"/><stop offset="0.775" stop-color="#462ac3"/><stop offset="0.946" stop-color="#4322ae"/><stop offset="0.996" stop-color="#4424b3"/></linearGradient><linearGradient id="c247" x1="0" y1="0" x2="0" y2="1"><stop offset="0.004" stop-color="#4322af"/><stop offset="0.246" stop-color="#4425b8"/><stop offset="0.525" stop-color="#4838e1"/><stop offset="0.618" stop-color="#473fe9"/><stop offset="0.782" stop-color="#4839e2"/><stop offset="0.825" stop-color="#4833d8"/><stop offset="0.925" stop-color="#4423b3"/><stop offset="0.954" stop-color="#4322af"/><stop offset="0.996" stop-color="#4322b0"/></linearGradient><linearGradient id="c248" x1="0" y1="0" x2="0" y2="1"><stop offset="0.004" stop-color="#4322af"/><stop offset="0.254" stop-color="#4424b5"/><stop offset="0.375" stop-color="#462ac3"/><stop offset="0.582" stop-color="#483ae3"/><stop offset="0.725" stop-color="#483de6"/><stop offset="0.811" stop-color="#4837e0"/><stop offset="0.846" stop-color="#4832d6"/><stop offset="0.932" stop-color="#4423b3"/><stop offset="0.961" stop-color="#4322ae"/><stop offset="0.996" stop-color="#4322ae"/></linearGradient><linearGradient id="c249" x1="0" y1="0" x2="0" y2="1"><stop offset="0.004" stop-color="#4322af"/><stop offset="0.261" stop-color="#4423b2"/><stop offset="0.604" stop-color="#462bc6"/><stop offset="0.761" stop-color="#462dca"/><stop offset="0.839" stop-color="#462ac4"/><stop offset="0.939" stop-color="#4322af"/><stop offset="0.996" stop-color="#4322af"/></linearGradient><linearGradient id="c250" x1="0" y1="0" x2="0" y2="1"><stop offset="0.004" stop-color="#4322ae"/><stop offset="0.289" stop-color="#4423b2"/><stop offset="0.625" stop-color="#472ecc"/><stop offset="0.754" stop-color="#462cc8"/><stop offset="0.918" stop-color="#4423b2"/><stop offset="0.996" stop-color="#4323b0"/></linearGradient><linearGradient id="c251" x1="0" y1="0" x2="0" y2="1"><stop offset="0.004" stop-color="#4323b0"/><stop offset="0.246" stop-color="#4525b9"/><stop offset="0.554" stop-color="#483ae3"/><stop offset="0.625" stop-color="#473ee8"/><stop offset="0.789" stop-color="#4838e1"/><stop offset="0.832" stop-color="#4832d7"/><stop offset="0.925" stop-color="#4425b8"/><stop offset="0.996" stop-color="#4323b1"/></linearGradient><linearGradient id="c252" x1="0" y1="0" x2="0" y2="1"><stop offset="0.004" stop-color="#4323b1"/><stop offset="0.232" stop-color="#4526b9"/><stop offset="0.518" stop-color="#4838e0"/><stop offset="0.618" stop-color="#473ee8"/><stop offset="0.796" stop-color="#4836de"/><stop offset="0.839" stop-color="#4831d5"/><stop offset="0.932" stop-color="#4425b6"/><stop offset="0.996" stop-color="#4322b0"/></linearGradient><linearGradient id="c253" x1="0" y1="0" x2="0" y2="1"><stop offset="0.004" stop-color="#4322af"/><stop offset="0.218" stop-color="#4423b2"/><stop offset="0.604" stop-color="#462cc8"/><stop offset="0.796" stop-color="#4629c1"/><stop offset="0.939" stop-color="#4322b0"/><stop offset="0.996" stop-color="#4322ae"/></linearGradient><linearGradient id="c254" x1="0" y1="0" x2="0" y2="1"><stop offset="0.004" stop-color="#4322af"/><stop offset="0.246" stop-color="#4424b4"/><stop offset="0.625" stop-color="#4731d2"/><stop offset="0.775" stop-color="#472dcc"/><stop offset="0.918" stop-color="#4424b3"/><stop offset="0.996" stop-color="#4322ae"/></linearGradient><linearGradient id="c255" x1="0" y1="0" x2="0" y2="1"><stop offset="0.004" stop-color="#4323b1"/><stop offset="0.225" stop-color="#4526ba"/><stop offset="0.511" stop-color="#483be5"/><stop offset="0.618" stop-color="#4743ed"/><stop offset="0.789" stop-color="#4837df"/><stop offset="0.932" stop-color="#4425b6"/><stop offset="0.996" stop-color="#4322af"/></linearGradient><linearGradient id="c256" x1="0" y1="0" x2="0" y2="1"><stop offset="0.004" stop-color="#4323b1"/><stop offset="0.225" stop-color="#4526b9"/><stop offset="0.504" stop-color="#4838e0"/><stop offset="0.611" stop-color="#473ee8"/><stop offset="0.782" stop-color="#4834d9"/><stop offset="0.932" stop-color="#4424b5"/><stop offset="0.996" stop-color="#4322af"/></linearGradient><linearGradient id="c257" x1="0" y1="0" x2="0" y2="1"><stop offset="0.004" stop-color="#4322ae"/><stop offset="0.232" stop-color="#4323b2"/><stop offset="0.604" stop-color="#462bc4"/><stop offset="0.996" stop-color="#4322af"/></linearGradient><linearGradient id="c258" x1="0" y1="0" x2="0" y2="1"><stop offset="0.004" stop-color="#4322b0"/><stop offset="0.232" stop-color="#4424b6"/><stop offset="0.532" stop-color="#4833d7"/><stop offset="0.618" stop-color="#4836dc"/><stop offset="0.768" stop-color="#472fd0"/><stop offset="0.932" stop-color="#4323b1"/><stop offset="0.996" stop-color="#4322ae"/></linearGradient><linearGradient id="c259" x1="0" y1="0" x2="0" y2="1"><stop offset="0.004" stop-color="#4323b2"/><stop offset="0.225" stop-color="#4526bb"/><stop offset="0.482" stop-color="#483be4"/><stop offset="0.611" stop-color="#4645ef"/><stop offset="0.775" stop-color="#4836de"/><stop offset="0.932" stop-color="#4424b4"/><stop offset="0.996" stop-color="#4321ad"/></linearGradient><linearGradient id="c260" x1="0" y1="0" x2="0" y2="1"><stop offset="0.004" stop-color="#4323b1"/><stop offset="0.225" stop-color="#4425b8"/><stop offset="0.511" stop-color="#4836dc"/><stop offset="0.611" stop-color="#473ae2"/><stop offset="0.768" stop-color="#4730d2"/><stop offset="0.932" stop-color="#4423b3"/><stop offset="0.996" stop-color="#4322ad"/></linearGradient><linearGradient id="c261" x1="0" y1="0" x2="0" y2="1"><stop offset="0.004" stop-color="#4322ae"/><stop offset="0.232" stop-color="#4323b1"/><stop offset="0.611" stop-color="#462ac2"/><stop offset="0.996" stop-color="#4322ae"/></linearGradient><linearGradient id="c262" x1="0" y1="0" x2="0" y2="1"><stop offset="0.004" stop-color="#4323b1"/><stop offset="0.225" stop-color="#4525b8"/><stop offset="0.511" stop-color="#4837de"/><stop offset="0.611" stop-color="#473de5"/><stop offset="0.768" stop-color="#4831d4"/><stop offset="0.932" stop-color="#4323b1"/><stop offset="0.996" stop-color="#4322ae"/></linearGradient><linearGradient id="c263" x1="0" y1="0" x2="0" y2="1"><stop offset="0.004" stop-color="#4423b2"/><stop offset="0.225" stop-color="#4526bb"/><stop offset="0.489" stop-color="#483ce6"/><stop offset="0.611" stop-color="#4645ef"/><stop offset="0.746" stop-color="#4837e0"/><stop offset="0.932" stop-color="#4423b3"/><stop offset="0.996" stop-color="#4322ae"/></linearGradient><linearGradient id="c264" x1="0" y1="0" x2="0" y2="1"><stop offset="0.004" stop-color="#4322b0"/><stop offset="0.232" stop-color="#4424b6"/><stop offset="0.525" stop-color="#4731d3"/><stop offset="0.611" stop-color="#4734d7"/><stop offset="0.782" stop-color="#462bc7"/><stop offset="0.939" stop-color="#4322af"/><stop offset="0.996" stop-color="#4322ae"/></linearGradient><linearGradient id="c265" x1="0" y1="0" x2="0" y2="1"><stop offset="0.004" stop-color="#4322af"/><stop offset="0.232" stop-color="#4423b3"/><stop offset="0.604" stop-color="#462dc9"/><stop offset="0.918" stop-color="#4322b0"/><stop offset="0.996" stop-color="#4322ae"/></linearGradient><linearGradient id="c266" x1="0" y1="0" x2="0" y2="1"><stop offset="0.004" stop-color="#4323b2"/><stop offset="0.225" stop-color="#4526ba"/><stop offset="0.496" stop-color="#483ae3"/><stop offset="0.611" stop-color="#4742ec"/><stop offset="0.696" stop-color="#483ae3"/><stop offset="0.918" stop-color="#4424b5"/><stop offset="0.996" stop-color="#4322ae"/></linearGradient><linearGradient id="c267" x1="0" y1="0" x2="0" y2="1"><stop offset="0.004" stop-color="#4323b1"/><stop offset="0.225" stop-color="#4526ba"/><stop offset="0.496" stop-color="#483ae3"/><stop offset="0.611" stop-color="#4742ec"/><stop offset="0.696" stop-color="#483ae4"/><stop offset="0.804" stop-color="#482fd1"/><stop offset="0.932" stop-color="#4423b3"/><stop offset="0.996" stop-color="#4321ad"/></linearGradient><linearGradient id="c268" x1="0" y1="0" x2="0" y2="1"><stop offset="0.004" stop-color="#4322af"/><stop offset="0.232" stop-color="#4423b2"/><stop offset="0.611" stop-color="#462dc9"/><stop offset="0.996" stop-color="#4322ae"/></linearGradient><linearGradient id="c269" x1="0" y1="0" x2="0" y2="1"><stop offset="0.004" stop-color="#4322b0"/><stop offset="0.232" stop-color="#4424b5"/><stop offset="0.604" stop-color="#4734d7"/><stop offset="0.675" stop-color="#4731d2"/><stop offset="0.896" stop-color="#4424b3"/><stop offset="0.996" stop-color="#4322af"/></linearGradient><linearGradient id="c270" x1="0" y1="0" x2="0" y2="1"><stop offset="0.004" stop-color="#4323b2"/><stop offset="0.225" stop-color="#4526bb"/><stop offset="0.482" stop-color="#483be5"/><stop offset="0.604" stop-color="#4645ef"/><stop offset="0.689" stop-color="#483de7"/><stop offset="0.918" stop-color="#4425b7"/><stop offset="0.996" stop-color="#4322af"/></linearGradient><linearGradient id="c271" x1="0" y1="0" x2="0" y2="1"><stop offset="0.004" stop-color="#4323b1"/><stop offset="0.225" stop-color="#4525b9"/><stop offset="0.496" stop-color="#4836dd"/><stop offset="0.604" stop-color="#473ce4"/><stop offset="0.675" stop-color="#4838df"/><stop offset="0.932" stop-color="#4424b4"/><stop offset="0.996" stop-color="#4322ae"/></linearGradient><linearGradient id="c272" x1="0" y1="0" x2="0" y2="1"><stop offset="0.004" stop-color="#4322ae"/><stop offset="0.232" stop-color="#4323b1"/><stop offset="0.596" stop-color="#462ac3"/><stop offset="0.996" stop-color="#4322ae"/></linearGradient><linearGradient id="c273" x1="0" y1="0" x2="0" y2="1"><stop offset="0.004" stop-color="#4323b1"/><stop offset="0.225" stop-color="#4525b9"/><stop offset="0.489" stop-color="#4836dd"/><stop offset="0.596" stop-color="#473ce4"/><stop offset="0.668" stop-color="#4837de"/><stop offset="0.889" stop-color="#4424b4"/><stop offset="0.996" stop-color="#4322ae"/></linearGradient><linearGradient id="c274" x1="0" y1="0" x2="0" y2="1"><stop offset="0.004" stop-color="#4423b3"/><stop offset="0.211" stop-color="#4527bb"/><stop offset="0.446" stop-color="#4838e1"/><stop offset="0.596" stop-color="#4643ed"/><stop offset="0.675" stop-color="#483de7"/><stop offset="0.911" stop-color="#4425b7"/><stop offset="0.996" stop-color="#4322af"/></linearGradient><linearGradient id="c275" x1="0" y1="0" x2="0" y2="1"><stop offset="0.004" stop-color="#4322b0"/><stop offset="0.218" stop-color="#4424b5"/><stop offset="0.611" stop-color="#4731d2"/><stop offset="0.996" stop-color="#4322af"/></linearGradient><linearGradient id="c276" x1="0" y1="0" x2="0" y2="1"><stop offset="0.004" stop-color="#4322b0"/><stop offset="0.211" stop-color="#4424b4"/><stop offset="0.561" stop-color="#472ecc"/><stop offset="0.632" stop-color="#462cc8"/><stop offset="0.804" stop-color="#4424b5"/><stop offset="0.996" stop-color="#4322af"/></linearGradient><linearGradient id="c277" x1="0" y1="0" x2="0" y2="1"><stop offset="0.004" stop-color="#4423b3"/><stop offset="0.211" stop-color="#4526bb"/><stop offset="0.461" stop-color="#4836de"/><stop offset="0.589" stop-color="#483de7"/><stop offset="0.661" stop-color="#4838e0"/><stop offset="0.889" stop-color="#4423b2"/><stop offset="0.996" stop-color="#4322ae"/></linearGradient><linearGradient id="c278" x1="0" y1="0" x2="0" y2="1"><stop offset="0.004" stop-color="#4322b0"/><stop offset="0.232" stop-color="#4425b7"/><stop offset="0.511" stop-color="#4833d6"/><stop offset="0.604" stop-color="#4836dc"/><stop offset="0.668" stop-color="#4833d8"/><stop offset="0.918" stop-color="#4423b3"/><stop offset="0.996" stop-color="#4322ae"/></linearGradient><linearGradient id="c279" x1="0" y1="0" x2="0" y2="1"><stop offset="0.004" stop-color="#4322af"/><stop offset="0.589" stop-color="#4527bd"/><stop offset="0.854" stop-color="#4425b7"/><stop offset="0.996" stop-color="#4322ae"/></linearGradient><linearGradient id="c280" x1="0" y1="0" x2="0" y2="1"><stop offset="0.004" stop-color="#4322b0"/><stop offset="0.211" stop-color="#4424b5"/><stop offset="0.568" stop-color="#4830d2"/><stop offset="0.639" stop-color="#472ece"/><stop offset="0.825" stop-color="#4323b2"/><stop offset="0.996" stop-color="#4322af"/></linearGradient><linearGradient id="c281" x1="0" y1="0" x2="0" y2="1"><stop offset="0.004" stop-color="#4322af"/><stop offset="0.232" stop-color="#4424b5"/><stop offset="0.596" stop-color="#4832d6"/><stop offset="0.661" stop-color="#4830d2"/><stop offset="0.882" stop-color="#4322b0"/><stop offset="0.996" stop-color="#4322ae"/></linearGradient><linearGradient id="c282" x1="0" y1="0" x2="0" y2="1"><stop offset="0.004" stop-color="#4322ae"/><stop offset="0.275" stop-color="#4323b1"/><stop offset="0.632" stop-color="#4629c1"/><stop offset="0.996" stop-color="#4322ae"/></linearGradient><linearGradient id="c283" x1="0" y1="0" x2="0" y2="1"><stop offset="0.004" stop-color="#4322ae"/><stop offset="0.218" stop-color="#4323b1"/><stop offset="0.561" stop-color="#4528bf"/><stop offset="0.782" stop-color="#4323b1"/><stop offset="0.996" stop-color="#4321ad"/></linearGradient><linearGradient id="c284" x1="0" y1="0" x2="0" y2="1"><stop offset="0.004" stop-color="#4322af"/><stop offset="0.232" stop-color="#4424b3"/><stop offset="0.589" stop-color="#472ecd"/><stop offset="0.654" stop-color="#472cc9"/><stop offset="0.854" stop-color="#4322af"/><stop offset="0.996" stop-color="#4321ad"/></linearGradient><linearGradient id="c285" x1="0" y1="0" x2="0" y2="1"><stop offset="0.004" stop-color="#4322ae"/><stop offset="0.246" stop-color="#4323b2"/><stop offset="0.604" stop-color="#462bc5"/><stop offset="0.882" stop-color="#4322ae"/><stop offset="0.996" stop-color="#4322ad"/></linearGradient><linearGradient id="c286" x1="0" y1="0" x2="0" y2="1"><stop offset="0.004" stop-color="#4322ad"/><stop offset="0.604" stop-color="#4425b6"/><stop offset="0.996" stop-color="#4321ad"/></linearGradient><linearGradient id="c287" x1="0" y1="0" x2="0" y2="1"><stop offset="0.004" stop-color="#4322ae"/><stop offset="0.239" stop-color="#4323b2"/><stop offset="0.596" stop-color="#462bc5"/><stop offset="0.854" stop-color="#4322ae"/><stop offset="0.996" stop-color="#4321ad"/></linearGradient><linearGradient id="c288" x1="0" y1="0" x2="0" y2="1"><stop offset="0.004" stop-color="#4322af"/><stop offset="0.232" stop-color="#4423b2"/><stop offset="0.596" stop-color="#472cc9"/><stop offset="0.861" stop-color="#4322ae"/><stop offset="0.996" stop-color="#4321ad"/></linearGradient><linearGradient id="c289" x1="0" y1="0" x2="0" y2="1"><stop offset="0.004" stop-color="#4322ae"/><stop offset="0.582" stop-color="#4526ba"/><stop offset="0.832" stop-color="#4322af"/><stop offset="0.996" stop-color="#4321ad"/></linearGradient><linearGradient id="c290" x1="0" y1="0" x2="0" y2="1"><stop offset="0.004" stop-color="#4322ae"/><stop offset="0.254" stop-color="#4323b0"/><stop offset="0.604" stop-color="#4528bf"/><stop offset="0.875" stop-color="#4322af"/><stop offset="0.996" stop-color="#4322ae"/></linearGradient><linearGradient id="c291" x1="0" y1="0" x2="0" y2="1"><stop offset="0.004" stop-color="#4322af"/><stop offset="0.232" stop-color="#4424b4"/><stop offset="0.589" stop-color="#472ecf"/><stop offset="0.654" stop-color="#472dcb"/><stop offset="0.875" stop-color="#4322af"/><stop offset="0.996" stop-color="#4322ae"/></linearGradient><linearGradient id="c292" x1="0" y1="0" x2="0" y2="1"><stop offset="0.004" stop-color="#4322af"/><stop offset="0.218" stop-color="#4423b3"/><stop offset="0.575" stop-color="#462bc7"/><stop offset="0.639" stop-color="#462ac4"/><stop offset="0.839" stop-color="#4322af"/><stop offset="0.996" stop-color="#4322ae"/></linearGradient><linearGradient id="c293" x1="0" y1="0" x2="0" y2="1"><stop offset="0.004" stop-color="#4322ae"/><stop offset="0.596" stop-color="#4526b9"/><stop offset="0.996" stop-color="#4322ae"/></linearGradient><linearGradient id="c294" x1="0" y1="0" x2="0" y2="1"><stop offset="0.004" stop-color="#4322af"/><stop offset="0.225" stop-color="#4424b4"/><stop offset="0.596" stop-color="#4830d2"/><stop offset="0.882" stop-color="#4423b3"/><stop offset="0.996" stop-color="#4321ad"/></linearGradient><linearGradient id="c295" x1="0" y1="0" x2="0" y2="1"><stop offset="0.004" stop-color="#4322b0"/><stop offset="0.218" stop-color="#4424b6"/><stop offset="0.489" stop-color="#4830d1"/><stop offset="0.582" stop-color="#4832d6"/><stop offset="0.639" stop-color="#4830d3"/><stop offset="0.875" stop-color="#4323b1"/><stop offset="0.996" stop-color="#4322ae"/></linearGradient><linearGradient id="c296" x1="0" y1="0" x2="0" y2="1"><stop offset="0.004" stop-color="#4322ae"/><stop offset="0.211" stop-color="#4323b1"/><stop offset="0.575" stop-color="#4528be"/><stop offset="0.825" stop-color="#4323b1"/><stop offset="0.996" stop-color="#4322af"/></linearGradient><linearGradient id="c297" x1="0" y1="0" x2="0" y2="1"><stop offset="0.004" stop-color="#4322af"/><stop offset="0.232" stop-color="#4424b4"/><stop offset="0.596" stop-color="#472ecd"/><stop offset="0.996" stop-color="#4322af"/></linearGradient><linearGradient id="c298" x1="0" y1="0" x2="0" y2="1"><stop offset="0.004" stop-color="#4323b1"/><stop offset="0.218" stop-color="#4425b8"/><stop offset="0.482" stop-color="#4833d9"/><stop offset="0.589" stop-color="#4837df"/><stop offset="0.654" stop-color="#4834db"/><stop offset="0.882" stop-color="#4425b7"/><stop offset="0.996" stop-color="#4322ae"/></linearGradient><linearGradient id="c299" x1="0" y1="0" x2="0" y2="1"><stop offset="0.004" stop-color="#4322b0"/><stop offset="0.218" stop-color="#4424b5"/><stop offset="0.582" stop-color="#472fd0"/><stop offset="0.639" stop-color="#472ecd"/><stop offset="0.875" stop-color="#4423b3"/><stop offset="0.996" stop-color="#4322ae"/></linearGradient><linearGradient id="c300" x1="0" y1="0" x2="0" y2="1"><stop offset="0.004" stop-color="#4322ae"/><stop offset="0.218" stop-color="#4323b1"/><stop offset="0.582" stop-color="#4529c0"/><stop offset="0.996" stop-color="#4322ae"/></linearGradient><linearGradient id="c301" x1="0" y1="0" x2="0" y2="1"><stop offset="0.004" stop-color="#4323b1"/><stop offset="0.211" stop-color="#4425b7"/><stop offset="0.475" stop-color="#4832d6"/><stop offset="0.582" stop-color="#4836dd"/><stop offset="0.646" stop-color="#4833d9"/><stop offset="0.868" stop-color="#4425b8"/><stop offset="0.996" stop-color="#4322af"/></linearGradient><linearGradient id="c302" x1="0" y1="0" x2="0" y2="1"><stop offset="0.004" stop-color="#4323b1"/><stop offset="0.218" stop-color="#4425b7"/><stop offset="0.489" stop-color="#4832d5"/><stop offset="0.589" stop-color="#4835db"/><stop offset="0.646" stop-color="#4833d8"/><stop offset="0.889" stop-color="#4425b7"/><stop offset="0.996" stop-color="#4322af"/></linearGradient><linearGradient id="c303" x1="0" y1="0" x2="0" y2="1"><stop offset="0.004" stop-color="#4322ae"/><stop offset="0.225" stop-color="#4323b0"/><stop offset="0.604" stop-color="#4528be"/><stop offset="0.996" stop-color="#4322af"/></linearGradient><linearGradient id="c304" x1="0" y1="0" x2="0" y2="1"><stop offset="0.004" stop-color="#4322b0"/><stop offset="0.211" stop-color="#4424b4"/><stop offset="0.468" stop-color="#472cc9"/><stop offset="0.575" stop-color="#472ecd"/><stop offset="0.846" stop-color="#4323b2"/><stop offset="0.996" stop-color="#4322ae"/></linearGradient><linearGradient id="c305" x1="0" y1="0" x2="0" y2="1"><stop offset="0.004" stop-color="#4322b0"/><stop offset="0.218" stop-color="#4424b6"/><stop offset="0.504" stop-color="#4831d4"/><stop offset="0.589" stop-color="#4833d9"/><stop offset="0.646" stop-color="#4831d5"/><stop offset="0.882" stop-color="#4424b4"/><stop offset="0.996" stop-color="#4322ad"/></linearGradient><linearGradient id="c306" x1="0" y1="0" x2="0" y2="1"><stop offset="0.004" stop-color="#4322ae"/><stop offset="0.246" stop-color="#4323b2"/><stop offset="0.618" stop-color="#462bc7"/><stop offset="0.996" stop-color="#4322ae"/></linearGradient><linearGradient id="c307" x1="0" y1="0" x2="0" y2="1"><stop offset="0.004" stop-color="#4322ae"/><stop offset="0.546" stop-color="#4527bb"/><stop offset="0.996" stop-color="#4322af"/></linearGradient><linearGradient id="c308" x1="0" y1="0" x2="0" y2="1"><stop offset="0.004" stop-color="#4322af"/><stop offset="0.225" stop-color="#4424b4"/><stop offset="0.582" stop-color="#472dcc"/><stop offset="0.861" stop-color="#4322b0"/><stop offset="0.996" stop-color="#4322ae"/></linearGradient><linearGradient id="c309" x1="0" y1="0" x2="0" y2="1"><stop offset="0.004" stop-color="#4322ae"/><stop offset="0.239" stop-color="#4423b2"/><stop offset="0.604" stop-color="#472cc7"/><stop offset="0.911" stop-color="#4322af"/><stop offset="0.996" stop-color="#4322ae"/></linearGradient><linearGradient id="c310" x1="0" y1="0" x2="0" y2="1"><stop offset="0.004" stop-color="#4322ae"/><stop offset="0.611" stop-color="#4424b6"/><stop offset="0.996" stop-color="#4322ad"/></linearGradient><linearGradient id="c311" x1="0" y1="0" x2="0" y2="1"><stop offset="0.004" stop-color="#4322ae"/><stop offset="0.218" stop-color="#4323b1"/><stop offset="0.568" stop-color="#4628bf"/><stop offset="0.804" stop-color="#4322b0"/><stop offset="0.996" stop-color="#4321ad"/></linearGradient><linearGradient id="c312" x1="0" y1="0" x2="0" y2="1"><stop offset="0.004" stop-color="#4322af"/><stop offset="0.232" stop-color="#4323b2"/><stop offset="0.596" stop-color="#462ac4"/><stop offset="0.875" stop-color="#4322ae"/><stop offset="0.996" stop-color="#4322ae"/></linearGradient><linearGradient id="c313" x1="0" y1="0" x2="0" y2="1"><stop offset="0.004" stop-color="#4322ae"/><stop offset="0.261" stop-color="#4322af"/><stop offset="0.625" stop-color="#4526b9"/><stop offset="0.996" stop-color="#4322ae"/></linearGradient><linearGradient id="c314" x1="0" y1="0" x2="0" y2="1"><stop offset="0.004" stop-color="#4322ae"/><stop offset="0.546" stop-color="#4425b6"/><stop offset="0.996" stop-color="#4322ae"/></linearGradient><linearGradient id="c315" x1="0" y1="0" x2="0" y2="1"><stop offset="0.004" stop-color="#4322ae"/><stop offset="0.225" stop-color="#4323b1"/><stop offset="0.582" stop-color="#4528bf"/><stop offset="0.839" stop-color="#4322ae"/><stop offset="0.996" stop-color="#4322ad"/></linearGradient><linearGradient id="c316" x1="0" y1="0" x2="0" y2="1"><stop offset="0.004" stop-color="#4322ae"/><stop offset="0.246" stop-color="#4322b0"/><stop offset="0.604" stop-color="#4526bb"/><stop offset="0.889" stop-color="#4322ae"/><stop offset="0.996" stop-color="#4321ad"/></linearGradient><linearGradient id="c317" x1="0" y1="0" x2="0" y2="1"><stop offset="0.004" stop-color="#4322ad"/><stop offset="0.575" stop-color="#4323b2"/><stop offset="0.996" stop-color="#4321ad"/></linearGradient><linearGradient id="c318" x1="0" y1="0" x2="0" y2="1"><stop offset="0.004" stop-color="#4322ae"/><stop offset="0.575" stop-color="#4526b9"/><stop offset="0.818" stop-color="#4322ae"/><stop offset="0.996" stop-color="#4321ad"/></linearGradient><linearGradient id="c319" x1="0" y1="0" x2="0" y2="1"><stop offset="0.004" stop-color="#4322ae"/><stop offset="0.596" stop-color="#4526ba"/><stop offset="0.861" stop-color="#4322ae"/><stop offset="0.996" stop-color="#4321ad"/></linearGradient><linearGradient id="c320" x1="0" y1="0" x2="0" y2="1"><stop offset="0.004" stop-color="#4321ad"/><stop offset="0.618" stop-color="#4323b2"/><stop offset="0.996" stop-color="#4321ad"/></linearGradient><linearGradient id="c321" x1="0" y1="0" x2="0" y2="1"><stop offset="0.004" stop-color="#4322ae"/><stop offset="0.568" stop-color="#4424b5"/><stop offset="0.996" stop-color="#4321ad"/></linearGradient><linearGradient id="c322" x1="0" y1="0" x2="0" y2="1"><stop offset="0.004" stop-color="#4322ae"/><stop offset="0.589" stop-color="#4525b9"/><stop offset="0.854" stop-color="#4322ae"/><stop offset="0.996" stop-color="#4321ad"/></linearGradient><linearGradient id="c323" x1="0" y1="0" x2="0" y2="1"><stop offset="0.004" stop-color="#4322ad"/><stop offset="0.596" stop-color="#4424b4"/><stop offset="0.996" stop-color="#4321ad"/></linearGradient><linearGradient id="c324" x1="0" y1="0" x2="0" y2="1"><stop offset="0.004" stop-color="#4321ad"/><stop offset="0.575" stop-color="#4323b1"/><stop offset="0.996" stop-color="#4321ad"/></linearGradient><linearGradient id="c325" x1="0" y1="0" x2="0" y2="1"><stop offset="0.004" stop-color="#4322ae"/><stop offset="0.582" stop-color="#4525b8"/><stop offset="0.839" stop-color="#4322ae"/><stop offset="0.996" stop-color="#4321ad"/></linearGradient><linearGradient id="c326" x1="0" y1="0" x2="0" y2="1"><stop offset="0.004" stop-color="#4322ae"/><stop offset="0.582" stop-color="#4425b7"/><stop offset="0.996" stop-color="#4321ad"/></linearGradient><linearGradient id="c327" x1="0" y1="0" x2="0" y2="1"><stop offset="0.004" stop-color="#4321ad"/><stop offset="0.582" stop-color="#4323b1"/><stop offset="0.996" stop-color="#4321ad"/></linearGradient><linearGradient id="c328" x1="0" y1="0" x2="0" y2="1"><stop offset="0.004" stop-color="#4322ae"/><stop offset="0.582" stop-color="#4425b7"/><stop offset="0.996" stop-color="#4321ad"/></linearGradient><linearGradient id="c329" x1="0" y1="0" x2="0" y2="1"><stop offset="0.004" stop-color="#4322ae"/><stop offset="0.582" stop-color="#4526b9"/><stop offset="0.839" stop-color="#4322af"/><stop offset="0.996" stop-color="#4321ad"/></linearGradient><linearGradient id="c330" x1="0" y1="0" x2="0" y2="1"><stop offset="0.004" stop-color="#4322ad"/><stop offset="0.575" stop-color="#4423b2"/><stop offset="0.996" stop-color="#4321ad"/></linearGradient><linearGradient id="c331" x1="0" y1="0" x2="0" y2="1"><stop offset="0.004" stop-color="#4322ae"/><stop offset="0.582" stop-color="#4424b5"/><stop offset="0.996" stop-color="#4321ad"/></linearGradient><linearGradient id="c332" x1="0" y1="0" x2="0" y2="1"><stop offset="0.004" stop-color="#4322ae"/><stop offset="0.575" stop-color="#4526ba"/><stop offset="0.839" stop-color="#4322af"/><stop offset="0.996" stop-color="#4321ad"/></linearGradient><linearGradient id="c333" x1="0" y1="0" x2="0" y2="1"><stop offset="0.004" stop-color="#4322ae"/><stop offset="0.568" stop-color="#4424b5"/><stop offset="0.996" stop-color="#4321ad"/></linearGradient><linearGradient id="c334" x1="0" y1="0" x2="0" y2="1"><stop offset="0.004" stop-color="#4322ad"/><stop offset="0.589" stop-color="#4423b2"/><stop offset="0.996" stop-color="#4321ad"/></linearGradient><linearGradient id="c335" x1="0" y1="0" x2="0" y2="1"><stop offset="0.004" stop-color="#4322ae"/><stop offset="0.582" stop-color="#4526ba"/><stop offset="0.846" stop-color="#4322ae"/><stop offset="0.996" stop-color="#4321ad"/></linearGradient><linearGradient id="c336" x1="0" y1="0" x2="0" y2="1"><stop offset="0.004" stop-color="#4322ae"/><stop offset="0.575" stop-color="#4425b8"/><stop offset="0.832" stop-color="#4322ae"/><stop offset="0.996" stop-color="#4321ad"/></linearGradient><linearGradient id="c337" x1="0" y1="0" x2="0" y2="1"><stop offset="0.004" stop-color="#4321ad"/><stop offset="0.582" stop-color="#4323b1"/><stop offset="0.996" stop-color="#4321ad"/></linearGradient><linearGradient id="c338" x1="0" y1="0" x2="0" y2="1"><stop offset="0.004" stop-color="#4322ae"/><stop offset="0.582" stop-color="#4526b9"/><stop offset="0.854" stop-color="#4322ae"/><stop offset="0.996" stop-color="#4321ad"/></linearGradient><linearGradient id="c339" x1="0" y1="0" x2="0" y2="1"><stop offset="0.004" stop-color="#4322ae"/><stop offset="0.575" stop-color="#4526bb"/><stop offset="0.839" stop-color="#4322ae"/><stop offset="0.996" stop-color="#4321ad"/></linearGradient><linearGradient id="c340" x1="0" y1="0" x2="0" y2="1"><stop offset="0.004" stop-color="#4322ad"/><stop offset="0.568" stop-color="#4423b2"/><stop offset="0.996" stop-color="#4321ad"/></linearGradient><linearGradient id="c341" x1="0" y1="0" x2="0" y2="1"><stop offset="0.004" stop-color="#4322ae"/><stop offset="0.589" stop-color="#4425b8"/><stop offset="0.996" stop-color="#4321ad"/></linearGradient><linearGradient id="c342" x1="0" y1="0" x2="0" y2="1"><stop offset="0.004" stop-color="#4322ae"/><stop offset="0.218" stop-color="#4323b0"/><stop offset="0.575" stop-color="#4527bd"/><stop offset="0.854" stop-color="#4322ae"/><stop offset="0.996" stop-color="#4321ad"/></linearGradient><linearGradient id="c343" x1="0" y1="0" x2="0" y2="1"><stop offset="0.004" stop-color="#4322ae"/><stop offset="0.561" stop-color="#4425b6"/><stop offset="0.996" stop-color="#4321ad"/></linearGradient><linearGradient id="c344" x1="0" y1="0" x2="0" y2="1"><stop offset="0.004" stop-color="#4322ae"/><stop offset="0.604" stop-color="#4424b5"/><stop offset="0.996" stop-color="#4321ad"/></linearGradient><linearGradient id="c345" x1="0" y1="0" x2="0" y2="1"><stop offset="0.004" stop-color="#4322ae"/><stop offset="0.218" stop-color="#4323b1"/><stop offset="0.582" stop-color="#4528bf"/><stop offset="0.868" stop-color="#4322af"/><stop offset="0.996" stop-color="#4321ad"/></linearGradient><linearGradient id="c346" x1="0" y1="0" x2="0" y2="1"><stop offset="0.004" stop-color="#4322ae"/><stop offset="0.575" stop-color="#4527bb"/><stop offset="0.839" stop-color="#4322ae"/><stop offset="0.996" stop-color="#4322ad"/></linearGradient><linearGradient id="c347" x1="0" y1="0" x2="0" y2="1"><stop offset="0.004" stop-color="#4322ad"/><stop offset="0.589" stop-color="#4424b3"/><stop offset="0.996" stop-color="#4321ad"/></linearGradient><linearGradient id="c348" x1="0" y1="0" x2="0" y2="1"><stop offset="0.004" stop-color="#4322ae"/><stop offset="0.225" stop-color="#4323b1"/><stop offset="0.589" stop-color="#4528bf"/><stop offset="0.996" stop-color="#4321ad"/></linearGradient><linearGradient id="c349" x1="0" y1="0" x2="0" y2="1"><stop offset="0.004" stop-color="#4322ae"/><stop offset="0.225" stop-color="#4323b1"/><stop offset="0.582" stop-color="#4629c0"/><stop offset="0.861" stop-color="#4322af"/><stop offset="0.996" stop-color="#4321ad"/></linearGradient><linearGradient id="c350" x1="0" y1="0" x2="0" y2="1"><stop offset="0.004" stop-color="#4322ae"/><stop offset="0.582" stop-color="#4424b5"/><stop offset="0.996" stop-color="#4321ad"/></linearGradient><linearGradient id="c351" x1="0" y1="0" x2="0" y2="1"><stop offset="0.004" stop-color="#4322ae"/><stop offset="0.232" stop-color="#4322b0"/><stop offset="0.596" stop-color="#4526bb"/><stop offset="0.996" stop-color="#4322ad"/></linearGradient><linearGradient id="c352" x1="0" y1="0" x2="0" y2="1"><stop offset="0.004" stop-color="#4322ae"/><stop offset="0.225" stop-color="#4323b1"/><stop offset="0.589" stop-color="#462ac3"/><stop offset="0.875" stop-color="#4322b0"/><stop offset="0.996" stop-color="#4322ad"/></linearGradient><linearGradient id="c353" x1="0" y1="0" x2="0" y2="1"><stop offset="0.004" stop-color="#4322ae"/><stop offset="0.225" stop-color="#4322b0"/><stop offset="0.589" stop-color="#4527bc"/><stop offset="0.861" stop-color="#4322af"/><stop offset="0.996" stop-color="#4322ad"/></linearGradient><linearGradient id="c354" x1="0" y1="0" x2="0" y2="1"><stop offset="0.004" stop-color="#4322ad"/><stop offset="0.596" stop-color="#4424b5"/><stop offset="0.996" stop-color="#4321ad"/></linearGradient><linearGradient id="c355" x1="0" y1="0" x2="0" y2="1"><stop offset="0.004" stop-color="#4322ae"/><stop offset="0.232" stop-color="#4323b1"/><stop offset="0.596" stop-color="#4629c2"/><stop offset="0.889" stop-color="#4322b0"/><stop offset="0.996" stop-color="#4321ad"/></linearGradient><linearGradient id="c356" x1="0" y1="0" x2="0" y2="1"><stop offset="0.004" stop-color="#4322ae"/><stop offset="0.225" stop-color="#4323b1"/><stop offset="0.589" stop-color="#462ac3"/><stop offset="0.882" stop-color="#4322af"/><stop offset="0.996" stop-color="#4321ad"/></linearGradient><linearGradient id="c357" x1="0" y1="0" x2="0" y2="1"><stop offset="0.004" stop-color="#4322ae"/><stop offset="0.589" stop-color="#4424b5"/><stop offset="0.996" stop-color="#4321ad"/></linearGradient><linearGradient id="c358" x1="0" y1="0" x2="0" y2="1"><stop offset="0.004" stop-color="#4322ae"/><stop offset="0.232" stop-color="#4322b0"/><stop offset="0.596" stop-color="#4527bd"/><stop offset="0.996" stop-color="#4322ad"/></linearGradient><linearGradient id="c359" x1="0" y1="0" x2="0" y2="1"><stop offset="0.004" stop-color="#4322af"/><stop offset="0.225" stop-color="#4423b2"/><stop offset="0.589" stop-color="#462bc6"/><stop offset="0.896" stop-color="#4322b0"/><stop offset="0.996" stop-color="#4322ae"/></linearGradient><linearGradient id="c360" x1="0" y1="0" x2="0" y2="1"><stop offset="0.004" stop-color="#4322ae"/><stop offset="0.225" stop-color="#4323b0"/><stop offset="0.589" stop-color="#4528be"/><stop offset="0.904" stop-color="#4322ae"/><stop offset="0.996" stop-color="#4322ae"/></linearGradient><linearGradient id="c361" x1="0" y1="0" x2="0" y2="1"><stop offset="0.004" stop-color="#4322ae"/><stop offset="0.589" stop-color="#4425b6"/><stop offset="0.996" stop-color="#4322ae"/></linearGradient><linearGradient id="c362" x1="0" y1="0" x2="0" y2="1"><stop offset="0.004" stop-color="#4322af"/><stop offset="0.225" stop-color="#4423b2"/><stop offset="0.589" stop-color="#462ac5"/><stop offset="0.868" stop-color="#4323b2"/><stop offset="0.996" stop-color="#4322ae"/></linearGradient><linearGradient id="c363" x1="0" y1="0" x2="0" y2="1"><stop offset="0.004" stop-color="#4322af"/><stop offset="0.225" stop-color="#4423b2"/><stop offset="0.589" stop-color="#462bc5"/><stop offset="0.996" stop-color="#4321ad"/></linearGradient><linearGradient id="c364" x1="0" y1="0" x2="0" y2="1"><stop offset="0.004" stop-color="#4322ae"/><stop offset="0.596" stop-color="#4425b6"/><stop offset="0.996" stop-color="#4322ae"/></linearGradient><linearGradient id="c365" x1="0" y1="0" x2="0" y2="1"><stop offset="0.004" stop-color="#4322ae"/><stop offset="0.218" stop-color="#4323b1"/><stop offset="0.575" stop-color="#4528bf"/><stop offset="0.839" stop-color="#4323b0"/><stop offset="0.996" stop-color="#4322ae"/></linearGradient><linearGradient id="c366" x1="0" y1="0" x2="0" y2="1"><stop offset="0.004" stop-color="#4322af"/><stop offset="0.218" stop-color="#4423b3"/><stop offset="0.589" stop-color="#462bc6"/><stop offset="0.875" stop-color="#4423b2"/><stop offset="0.996" stop-color="#4322af"/></linearGradient><linearGradient id="c367" x1="0" y1="0" x2="0" y2="1"><stop offset="0.004" stop-color="#4322ae"/><stop offset="0.239" stop-color="#4322b0"/><stop offset="0.611" stop-color="#4527bc"/><stop offset="0.996" stop-color="#4322af"/></linearGradient><linearGradient id="c368" x1="0" y1="0" x2="0" y2="1"><stop offset="0.004" stop-color="#4322ae"/><stop offset="0.525" stop-color="#4424b5"/><stop offset="0.996" stop-color="#4322ae"/></linearGradient><linearGradient id="c369" x1="0" y1="0" x2="0" y2="1"><stop offset="0.004" stop-color="#4322ae"/><stop offset="0.218" stop-color="#4323b1"/><stop offset="0.575" stop-color="#4528be"/><stop offset="0.861" stop-color="#4322af"/><stop offset="0.996" stop-color="#4322ae"/></linearGradient><linearGradient id="c370" x1="0" y1="0" x2="0" y2="1"><stop offset="0.004" stop-color="#4322ae"/><stop offset="0.254" stop-color="#4322af"/><stop offset="0.611" stop-color="#4526bb"/><stop offset="0.996" stop-color="#4322ad"/></linearGradient><linearGradient id="c371" x1="0" y1="0" x2="0" y2="1"><stop offset="0.004" stop-color="#4322ad"/><stop offset="0.639" stop-color="#4323b1"/><stop offset="0.996" stop-color="#4322ae"/></linearGradient><linearGradient id="c372" x1="0" y1="0" x2="0" y2="1"><stop offset="0.004" stop-color="#4322ad"/><stop offset="0.561" stop-color="#4424b4"/><stop offset="0.782" stop-color="#4322ae"/><stop offset="0.996" stop-color="#4322ae"/></linearGradient><linearGradient id="c373" x1="0" y1="0" x2="0" y2="1"><stop offset="0.004" stop-color="#4321ad"/><stop offset="0.596" stop-color="#4425b6"/><stop offset="0.861" stop-color="#4322ae"/><stop offset="0.996" stop-color="#4322ae"/></linearGradient><linearGradient id="c374" x1="0" y1="0" x2="0" y2="1"><stop offset="0.004" stop-color="#4321ad"/><stop offset="0.625" stop-color="#4423b2"/><stop offset="0.996" stop-color="#4322ae"/></linearGradient><linearGradient id="c376" x1="0" y1="0" x2="0" y2="1"><stop offset="0.004" stop-color="#4322ad"/><stop offset="0.582" stop-color="#4424b4"/><stop offset="0.996" stop-color="#4321ad"/></linearGradient><linearGradient id="c377" x1="0" y1="0" x2="0" y2="1"><stop offset="0.004" stop-color="#4322ad"/><stop offset="0.575" stop-color="#4423b3"/><stop offset="0.996" stop-color="#4322ae"/></linearGradient><linearGradient id="c379" x1="0" y1="0" x2="0" y2="1"><stop offset="0.004" stop-color="#4322ad"/><stop offset="0.575" stop-color="#4424b4"/><stop offset="0.768" stop-color="#4321ad"/><stop offset="0.996" stop-color="#4322af"/></linearGradient><linearGradient id="c380" x1="0" y1="0" x2="0" y2="1"><stop offset="0.004" stop-color="#4322ae"/><stop offset="0.532" stop-color="#4424b4"/><stop offset="0.746" stop-color="#4322ae"/><stop offset="0.996" stop-color="#4322af"/></linearGradient><linearGradient id="c382" x1="0" y1="0" x2="0" y2="1"><stop offset="0.004" stop-color="#4321ad"/><stop offset="0.582" stop-color="#4425b7"/><stop offset="0.775" stop-color="#4322ae"/><stop offset="0.889" stop-color="#4323b1"/><stop offset="0.996" stop-color="#4322ad"/></linearGradient><linearGradient id="c383" x1="0" y1="0" x2="0" y2="1"><stop offset="0.004" stop-color="#4322ae"/><stop offset="0.518" stop-color="#4525b8"/><stop offset="0.725" stop-color="#4322af"/><stop offset="0.846" stop-color="#4423b2"/><stop offset="0.996" stop-color="#4322ae"/></linearGradient><linearGradient id="c384" x1="0" y1="0" x2="0" y2="1"><stop offset="0.004" stop-color="#4322ae"/><stop offset="0.725" stop-color="#4424b4"/><stop offset="0.996" stop-color="#4322b0"/></linearGradient><linearGradient id="c385" x1="0" y1="0" x2="0" y2="1"><stop offset="0.004" stop-color="#4322ae"/><stop offset="0.246" stop-color="#4323b1"/><stop offset="0.596" stop-color="#4628c0"/><stop offset="0.846" stop-color="#4322af"/><stop offset="0.996" stop-color="#4323b0"/></linearGradient><linearGradient id="c386" x1="0" y1="0" x2="0" y2="1"><stop offset="0.004" stop-color="#4322b0"/><stop offset="0.196" stop-color="#4424b3"/><stop offset="0.539" stop-color="#462ac4"/><stop offset="0.618" stop-color="#4629c1"/><stop offset="0.768" stop-color="#4323b1"/><stop offset="0.896" stop-color="#4424b5"/><stop offset="0.996" stop-color="#4322b0"/></linearGradient><linearGradient id="c387" x1="0" y1="0" x2="0" y2="1"><stop offset="0.004" stop-color="#4322af"/><stop offset="0.832" stop-color="#4526ba"/><stop offset="0.996" stop-color="#4322af"/></linearGradient><linearGradient id="c388" x1="0" y1="0" x2="0" y2="1"><stop offset="0.004" stop-color="#4322b0"/><stop offset="0.225" stop-color="#4424b4"/><stop offset="0.611" stop-color="#472ecd"/><stop offset="0.811" stop-color="#4528bf"/><stop offset="0.939" stop-color="#4322b0"/><stop offset="0.996" stop-color="#4322ae"/></linearGradient><linearGradient id="c389" x1="0" y1="0" x2="0" y2="1"><stop offset="0.004" stop-color="#4323b1"/><stop offset="0.211" stop-color="#4425b7"/><stop offset="0.468" stop-color="#4831d3"/><stop offset="0.575" stop-color="#4834da"/><stop offset="0.639" stop-color="#4832d6"/><stop offset="0.861" stop-color="#4423b2"/><stop offset="0.996" stop-color="#4323b1"/></linearGradient><linearGradient id="c390" x1="0" y1="0" x2="0" y2="1"><stop offset="0.004" stop-color="#4322af"/><stop offset="0.211" stop-color="#4423b3"/><stop offset="0.546" stop-color="#462bc6"/><stop offset="0.754" stop-color="#4424b5"/><stop offset="0.904" stop-color="#4425b8"/><stop offset="0.996" stop-color="#4423b3"/></linearGradient><linearGradient id="c391" x1="0" y1="0" x2="0" y2="1"><stop offset="0.004" stop-color="#4322af"/><stop offset="0.232" stop-color="#4423b3"/><stop offset="0.632" stop-color="#472dca"/><stop offset="0.846" stop-color="#462ac3"/><stop offset="0.996" stop-color="#4423b3"/></linearGradient><linearGradient id="c392" x1="0" y1="0" x2="0" y2="1"><stop offset="0.004" stop-color="#4323b1"/><stop offset="0.225" stop-color="#4526b9"/><stop offset="0.489" stop-color="#4836de"/><stop offset="0.604" stop-color="#483ce6"/><stop offset="0.668" stop-color="#4838e1"/><stop offset="0.996" stop-color="#4323b1"/></linearGradient><linearGradient id="c393" x1="0" y1="0" x2="0" y2="1"><stop offset="0.004" stop-color="#4323b1"/><stop offset="0.225" stop-color="#4425b8"/><stop offset="0.489" stop-color="#4834da"/><stop offset="0.589" stop-color="#4838e1"/><stop offset="0.654" stop-color="#4836dc"/><stop offset="0.889" stop-color="#4424b5"/><stop offset="0.996" stop-color="#4322ae"/></linearGradient><linearGradient id="c394" x1="0" y1="0" x2="0" y2="1"><stop offset="0.004" stop-color="#4322ae"/><stop offset="0.232" stop-color="#4323b1"/><stop offset="0.589" stop-color="#4529c1"/><stop offset="0.996" stop-color="#4322b0"/></linearGradient><linearGradient id="c395" x1="0" y1="0" x2="0" y2="1"><stop offset="0.004" stop-color="#4323b0"/><stop offset="0.225" stop-color="#4425b7"/><stop offset="0.511" stop-color="#4833d8"/><stop offset="0.611" stop-color="#4837de"/><stop offset="0.825" stop-color="#472cc9"/><stop offset="0.996" stop-color="#4423b3"/></linearGradient><linearGradient id="c396" x1="0" y1="0" x2="0" y2="1"><stop offset="0.004" stop-color="#4323b2"/><stop offset="0.225" stop-color="#4526bb"/><stop offset="0.475" stop-color="#4838e2"/><stop offset="0.604" stop-color="#4742ec"/><stop offset="0.675" stop-color="#483de7"/><stop offset="0.996" stop-color="#4423b3"/></linearGradient><linearGradient id="c397" x1="0" y1="0" x2="0" y2="1"><stop offset="0.004" stop-color="#4322b0"/><stop offset="0.232" stop-color="#4424b6"/><stop offset="0.604" stop-color="#4835da"/><stop offset="0.996" stop-color="#4323b2"/></linearGradient><linearGradient id="c398" x1="0" y1="0" x2="0" y2="1"><stop offset="0.004" stop-color="#4322ae"/><stop offset="0.232" stop-color="#4323b1"/><stop offset="0.604" stop-color="#462ac2"/><stop offset="0.996" stop-color="#4322af"/></linearGradient><linearGradient id="c399" x1="0" y1="0" x2="0" y2="1"><stop offset="0.004" stop-color="#4323b1"/><stop offset="0.232" stop-color="#4525b8"/><stop offset="0.511" stop-color="#4836dd"/><stop offset="0.611" stop-color="#483be4"/><stop offset="0.675" stop-color="#4837df"/><stop offset="0.925" stop-color="#4424b6"/><stop offset="0.996" stop-color="#4322ae"/></linearGradient><linearGradient id="c400" x1="0" y1="0" x2="0" y2="1"><stop offset="0.004" stop-color="#4323b1"/><stop offset="0.232" stop-color="#4526b9"/><stop offset="0.504" stop-color="#4838e0"/><stop offset="0.611" stop-color="#473ee8"/><stop offset="0.682" stop-color="#4839e2"/><stop offset="0.996" stop-color="#4323b1"/></linearGradient><linearGradient id="c401" x1="0" y1="0" x2="0" y2="1"><stop offset="0.004" stop-color="#4322af"/><stop offset="0.239" stop-color="#4423b3"/><stop offset="0.611" stop-color="#472ecc"/><stop offset="0.996" stop-color="#4323b1"/></linearGradient><linearGradient id="c402" x1="0" y1="0" x2="0" y2="1"><stop offset="0.004" stop-color="#4322af"/><stop offset="0.239" stop-color="#4423b2"/><stop offset="0.596" stop-color="#462cc9"/><stop offset="0.868" stop-color="#4423b2"/><stop offset="0.996" stop-color="#4323b1"/></linearGradient><linearGradient id="c403" x1="0" y1="0" x2="0" y2="1"><stop offset="0.004" stop-color="#4323b1"/><stop offset="0.225" stop-color="#4425b8"/><stop offset="0.511" stop-color="#4836de"/><stop offset="0.604" stop-color="#483be4"/><stop offset="0.675" stop-color="#4836de"/><stop offset="0.925" stop-color="#4323b1"/><stop offset="0.996" stop-color="#4322af"/></linearGradient><linearGradient id="c404" x1="0" y1="0" x2="0" y2="1"><stop offset="0.004" stop-color="#4323b1"/><stop offset="0.225" stop-color="#4425b7"/><stop offset="0.518" stop-color="#4834d9"/><stop offset="0.604" stop-color="#4837df"/><stop offset="0.668" stop-color="#4835db"/><stop offset="0.932" stop-color="#4424b3"/><stop offset="0.996" stop-color="#4322ae"/></linearGradient><linearGradient id="c405" x1="0" y1="0" x2="0" y2="1"><stop offset="0.004" stop-color="#4322ae"/><stop offset="0.225" stop-color="#4323b1"/><stop offset="0.604" stop-color="#4528bf"/><stop offset="0.996" stop-color="#4322af"/></linearGradient><linearGradient id="c406" x1="0" y1="0" x2="0" y2="1"><stop offset="0.004" stop-color="#4322b0"/><stop offset="0.225" stop-color="#4424b5"/><stop offset="0.589" stop-color="#4831d3"/><stop offset="0.654" stop-color="#472fcf"/><stop offset="0.861" stop-color="#4323b1"/><stop offset="0.996" stop-color="#4322b0"/></linearGradient><linearGradient id="c407" x1="0" y1="0" x2="0" y2="1"><stop offset="0.004" stop-color="#4323b1"/><stop offset="0.218" stop-color="#4425b7"/><stop offset="0.496" stop-color="#4834d9"/><stop offset="0.596" stop-color="#4838e0"/><stop offset="0.668" stop-color="#4834db"/><stop offset="0.911" stop-color="#4322af"/><stop offset="0.996" stop-color="#4322af"/></linearGradient><linearGradient id="c408" x1="0" y1="0" x2="0" y2="1"><stop offset="0.004" stop-color="#4322af"/><stop offset="0.232" stop-color="#4423b3"/><stop offset="0.611" stop-color="#472ecd"/><stop offset="0.932" stop-color="#4322af"/><stop offset="0.996" stop-color="#4322ae"/></linearGradient><linearGradient id="c409" x1="0" y1="0" x2="0" y2="1"><stop offset="0.004" stop-color="#4322ae"/><stop offset="0.218" stop-color="#4323b1"/><stop offset="0.582" stop-color="#4528be"/><stop offset="0.996" stop-color="#4322ad"/></linearGradient><linearGradient id="c410" x1="0" y1="0" x2="0" y2="1"><stop offset="0.004" stop-color="#4322b0"/><stop offset="0.225" stop-color="#4424b6"/><stop offset="0.589" stop-color="#4832d7"/><stop offset="0.654" stop-color="#4830d3"/><stop offset="0.875" stop-color="#4322af"/><stop offset="0.996" stop-color="#4322ae"/></linearGradient><linearGradient id="c411" x1="0" y1="0" x2="0" y2="1"><stop offset="0.004" stop-color="#4322af"/><stop offset="0.232" stop-color="#4424b5"/><stop offset="0.596" stop-color="#4831d5"/><stop offset="0.661" stop-color="#4830d1"/><stop offset="0.904" stop-color="#4322ae"/><stop offset="0.996" stop-color="#4322ae"/></linearGradient><linearGradient id="c412" x1="0" y1="0" x2="0" y2="1"><stop offset="0.004" stop-color="#4322ae"/><stop offset="0.246" stop-color="#4322b0"/><stop offset="0.604" stop-color="#4527bc"/><stop offset="0.918" stop-color="#4321ad"/><stop offset="0.996" stop-color="#4322ae"/></linearGradient><linearGradient id="c413" x1="0" y1="0" x2="0" y2="1"><stop offset="0.004" stop-color="#4322af"/><stop offset="0.232" stop-color="#4423b3"/><stop offset="0.589" stop-color="#472cc9"/><stop offset="0.868" stop-color="#4322af"/><stop offset="0.996" stop-color="#4322ae"/></linearGradient><linearGradient id="c414" x1="0" y1="0" x2="0" y2="1"><stop offset="0.004" stop-color="#4322b0"/><stop offset="0.232" stop-color="#4424b6"/><stop offset="0.596" stop-color="#4832d7"/><stop offset="0.661" stop-color="#4830d3"/><stop offset="0.882" stop-color="#4322b0"/><stop offset="0.996" stop-color="#4321ad"/></linearGradient><linearGradient id="c415" x1="0" y1="0" x2="0" y2="1"><stop offset="0.004" stop-color="#4322af"/><stop offset="0.232" stop-color="#4423b3"/><stop offset="0.596" stop-color="#472cc9"/><stop offset="0.896" stop-color="#4322ae"/><stop offset="0.996" stop-color="#4321ad"/></linearGradient><linearGradient id="c416" x1="0" y1="0" x2="0" y2="1"><stop offset="0.004" stop-color="#4322ae"/><stop offset="0.232" stop-color="#4322b0"/><stop offset="0.596" stop-color="#4527bc"/><stop offset="0.868" stop-color="#4322af"/><stop offset="0.996" stop-color="#4322ae"/></linearGradient><linearGradient id="c417" x1="0" y1="0" x2="0" y2="1"><stop offset="0.004" stop-color="#4322b0"/><stop offset="0.225" stop-color="#4424b5"/><stop offset="0.596" stop-color="#4831d4"/><stop offset="0.654" stop-color="#472fd0"/><stop offset="0.875" stop-color="#4323b2"/><stop offset="0.996" stop-color="#4322ae"/></linearGradient><linearGradient id="c418" x1="0" y1="0" x2="0" y2="1"><stop offset="0.004" stop-color="#4322b0"/><stop offset="0.225" stop-color="#4424b5"/><stop offset="0.596" stop-color="#4831d4"/><stop offset="0.654" stop-color="#472fd0"/><stop offset="0.882" stop-color="#4323b1"/><stop offset="0.996" stop-color="#4322ae"/></linearGradient><linearGradient id="c419" x1="0" y1="0" x2="0" y2="1"><stop offset="0.004" stop-color="#4322ae"/><stop offset="0.232" stop-color="#4322b0"/><stop offset="0.596" stop-color="#4527bc"/><stop offset="0.996" stop-color="#4321ad"/></linearGradient><linearGradient id="c420" x1="0" y1="0" x2="0" y2="1"><stop offset="0.004" stop-color="#4322af"/><stop offset="0.225" stop-color="#4423b3"/><stop offset="0.596" stop-color="#472cc9"/><stop offset="0.875" stop-color="#4323b1"/><stop offset="0.996" stop-color="#4321ad"/></linearGradient><linearGradient id="c421" x1="0" y1="0" x2="0" y2="1"><stop offset="0.004" stop-color="#4322b0"/><stop offset="0.225" stop-color="#4424b6"/><stop offset="0.511" stop-color="#4830d3"/><stop offset="0.596" stop-color="#4833d8"/><stop offset="0.654" stop-color="#4831d4"/><stop offset="0.882" stop-color="#4423b2"/><stop offset="0.996" stop-color="#4321ad"/></linearGradient><linearGradient id="c422" x1="0" y1="0" x2="0" y2="1"><stop offset="0.004" stop-color="#4322af"/><stop offset="0.225" stop-color="#4423b3"/><stop offset="0.596" stop-color="#472cc9"/><stop offset="0.882" stop-color="#4322b0"/><stop offset="0.996" stop-color="#4321ad"/></linearGradient><linearGradient id="c423" x1="0" y1="0" x2="0" y2="1"><stop offset="0.004" stop-color="#4322ae"/><stop offset="0.232" stop-color="#4322b0"/><stop offset="0.596" stop-color="#4527bc"/><stop offset="0.996" stop-color="#4321ad"/></linearGradient><linearGradient id="c424" x1="0" y1="0" x2="0" y2="1"><stop offset="0.004" stop-color="#4322b0"/><stop offset="0.225" stop-color="#4424b5"/><stop offset="0.596" stop-color="#4831d4"/><stop offset="0.654" stop-color="#472fd0"/><stop offset="0.882" stop-color="#4323b2"/><stop offset="0.996" stop-color="#4321ad"/></linearGradient><linearGradient id="c425" x1="0" y1="0" x2="0" y2="1"><stop offset="0.004" stop-color="#4322b0"/><stop offset="0.225" stop-color="#4424b5"/><stop offset="0.596" stop-color="#4831d4"/><stop offset="0.654" stop-color="#472fd0"/><stop offset="0.882" stop-color="#4323b2"/><stop offset="0.996" stop-color="#4321ad"/></linearGradient><linearGradient id="c426" x1="0" y1="0" x2="0" y2="1"><stop offset="0.004" stop-color="#4322ae"/><stop offset="0.232" stop-color="#4322b0"/><stop offset="0.596" stop-color="#4527bc"/><stop offset="0.996" stop-color="#4321ad"/></linearGradient><linearGradient id="c427" x1="0" y1="0" x2="0" y2="1"><stop offset="0.004" stop-color="#4322af"/><stop offset="0.225" stop-color="#4423b3"/><stop offset="0.596" stop-color="#472cc9"/><stop offset="0.882" stop-color="#4322b0"/><stop offset="0.996" stop-color="#4321ad"/></linearGradient><linearGradient id="c428" x1="0" y1="0" x2="0" y2="1"><stop offset="0.004" stop-color="#4322b0"/><stop offset="0.225" stop-color="#4424b6"/><stop offset="0.511" stop-color="#4830d3"/><stop offset="0.596" stop-color="#4833d8"/><stop offset="0.654" stop-color="#4831d4"/><stop offset="0.882" stop-color="#4423b2"/><stop offset="0.996" stop-color="#4321ad"/></linearGradient><linearGradient id="c429" x1="0" y1="0" x2="0" y2="1"><stop offset="0.004" stop-color="#4322af"/><stop offset="0.225" stop-color="#4423b3"/><stop offset="0.596" stop-color="#472cc9"/><stop offset="0.882" stop-color="#4322b0"/><stop offset="0.996" stop-color="#4321ad"/></linearGradient><linearGradient id="c430" x1="0" y1="0" x2="0" y2="1"><stop offset="0.004" stop-color="#4322ae"/><stop offset="0.232" stop-color="#4322b0"/><stop offset="0.596" stop-color="#4527bc"/><stop offset="0.996" stop-color="#4321ad"/></linearGradient><linearGradient id="c431" x1="0" y1="0" x2="0" y2="1"><stop offset="0.004" stop-color="#4322b0"/><stop offset="0.225" stop-color="#4424b5"/><stop offset="0.596" stop-color="#4831d4"/><stop offset="0.654" stop-color="#472fd0"/><stop offset="0.882" stop-color="#4323b2"/><stop offset="0.996" stop-color="#4321ad"/></linearGradient><linearGradient id="c432" x1="0" y1="0" x2="0" y2="1"><stop offset="0.004" stop-color="#4322b0"/><stop offset="0.225" stop-color="#4424b5"/><stop offset="0.596" stop-color="#4831d4"/><stop offset="0.654" stop-color="#472fd0"/><stop offset="0.882" stop-color="#4323b2"/><stop offset="0.996" stop-color="#4321ad"/></linearGradient><linearGradient id="c433" x1="0" y1="0" x2="0" y2="1"><stop offset="0.004" stop-color="#4322ae"/><stop offset="0.232" stop-color="#4322b0"/><stop offset="0.596" stop-color="#4527bc"/><stop offset="0.996" stop-color="#4321ad"/></linearGradient><linearGradient id="c434" x1="0" y1="0" x2="0" y2="1"><stop offset="0.004" stop-color="#4322af"/><stop offset="0.225" stop-color="#4423b3"/><stop offset="0.596" stop-color="#472cc9"/><stop offset="0.882" stop-color="#4322b0"/><stop offset="0.996" stop-color="#4321ad"/></linearGradient><linearGradient id="c435" x1="0" y1="0" x2="0" y2="1"><stop offset="0.004" stop-color="#4322b0"/><stop offset="0.225" stop-color="#4424b6"/><stop offset="0.511" stop-color="#4831d3"/><stop offset="0.596" stop-color="#4833d8"/><stop offset="0.654" stop-color="#4831d4"/><stop offset="0.882" stop-color="#4423b2"/><stop offset="0.996" stop-color="#4321ad"/></linearGradient><linearGradient id="c436" x1="0" y1="0" x2="0" y2="1"><stop offset="0.004" stop-color="#4322af"/><stop offset="0.225" stop-color="#4423b3"/><stop offset="0.596" stop-color="#472cc9"/><stop offset="0.882" stop-color="#4322b0"/><stop offset="0.996" stop-color="#4321ad"/></linearGradient><linearGradient id="c437" x1="0" y1="0" x2="0" y2="1"><stop offset="0.004" stop-color="#4322ae"/><stop offset="0.232" stop-color="#4322b0"/><stop offset="0.596" stop-color="#4527bc"/><stop offset="0.996" stop-color="#4321ad"/></linearGradient><linearGradient id="c438" x1="0" y1="0" x2="0" y2="1"><stop offset="0.004" stop-color="#4322b0"/><stop offset="0.225" stop-color="#4424b5"/><stop offset="0.596" stop-color="#4831d4"/><stop offset="0.654" stop-color="#472fd0"/><stop offset="0.882" stop-color="#4323b1"/><stop offset="0.996" stop-color="#4321ad"/></linearGradient><linearGradient id="c439" x1="0" y1="0" x2="0" y2="1"><stop offset="0.004" stop-color="#4322b0"/><stop offset="0.225" stop-color="#4424b5"/><stop offset="0.596" stop-color="#4831d4"/><stop offset="0.654" stop-color="#472fd0"/><stop offset="0.882" stop-color="#4323b1"/><stop offset="0.996" stop-color="#4321ad"/></linearGradient><linearGradient id="c440" x1="0" y1="0" x2="0" y2="1"><stop offset="0.004" stop-color="#4322ae"/><stop offset="0.232" stop-color="#4322b0"/><stop offset="0.596" stop-color="#4527bb"/><stop offset="0.996" stop-color="#4321ad"/></linearGradient></defs>
<rect x="46.8" y="8.5" width="441.9" height="139.7" fill="#4321ad"/>
<g shape-rendering="crispEdges"><rect x="47" y="8.5" width="1.02" height="139.5" fill="#4321ad"/><rect x="48" y="8.5" width="1.02" height="139.5" fill="#4321ad"/><rect x="49" y="8.5" width="1.02" height="139.5" fill="#4321ad"/><rect x="50" y="8.5" width="1.02" height="139.5" fill="#4321ad"/><rect x="51" y="8.5" width="1.02" height="139.5" fill="#4321ad"/><rect x="52" y="8.5" width="1.02" height="139.5" fill="#4321ad"/><rect x="53" y="8.5" width="1.02" height="139.5" fill="#4321ad"/><rect x="54" y="8.5" width="1.02" height="139.5" fill="#4321ad"/><rect x="55" y="8.5" width="1.02" height="139.5" fill="#4321ad"/><rect x="56" y="8.5" width="1.02" height="139.5" fill="#4321ad"/><rect x="57" y="8.5" width="1.02" height="139.5" fill="#4321ad"/><rect x="58" y="8.5" width="1.02" height="139.5" fill="#4321ad"/><rect x="59" y="8.5" width="1.02" height="139.5" fill="#4321ad"/><rect x="60" y="8.5" width="1.02" height="139.5" fill="#4321ad"/><rect x="61" y="8.5" width="1.02" height="139.5" fill="#4321ad"/><rect x="62" y="8.5" width="1.02" height="139.5" fill="#4321ad"/><rect x="63" y="8.5" width="1.02" height="139.5" fill="#4321ad"/><rect x="64" y="8.5" width="1.02" height="139.5" fill="#4321ad"/><rect x="65" y="8.5" width="1.02" height="139.5" fill="#4321ad"/><rect x="66" y="8.5" width="1.02" height="139.5" fill="#4321ad"/><rect x="67" y="8.5" width="1.02" height="139.5" fill="#4321ad"/><rect x="68" y="8.5" width="1.02" height="139.5" fill="#4321ad"/><rect x="69" y="8.5" width="1.02" height="139.5" fill="#4321ad"/><rect x="70" y="8.5" width="1.02" height="139.5" fill="#4321ad"/><rect x="71" y="8.5" width="1.02" height="139.5" fill="#4321ad"/><rect x="72" y="8.5" width="1.02" height="139.5" fill="#4321ad"/><rect x="73" y="8.5" width="1.02" height="139.5" fill="#4321ad"/><rect x="74" y="8.5" width="1.02" height="139.5" fill="#4321ad"/><rect x="75" y="8.5" width="1.02" height="139.5" fill="#4321ad"/><rect x="76" y="8.5" width="1.02" height="139.5" fill="#4321ad"/><rect x="77" y="8.5" width="1.02" height="139.5" fill="#4321ad"/><rect x="78" y="8.5" width="1.02" height="139.5" fill="#4321ad"/><rect x="79" y="8.5" width="1.02" height="139.5" fill="#4321ad"/><rect x="80" y="8.5" width="1.02" height="139.5" fill="#4321ad"/><rect x="81" y="8.5" width="1.02" height="139.5" fill="#4321ad"/><rect x="82" y="8.5" width="1.02" height="139.5" fill="#4321ad"/><rect x="83" y="8.5" width="1.02" height="139.5" fill="#4321ad"/><rect x="84" y="8.5" width="1.02" height="139.5" fill="#4321ad"/><rect x="85" y="8.5" width="1.02" height="139.5" fill="#4321ad"/><rect x="86" y="8.5" width="1.02" height="139.5" fill="#4321ad"/><rect x="87" y="8.5" width="1.02" height="139.5" fill="#4321ad"/><rect x="88" y="8.5" width="1.02" height="139.5" fill="#4321ad"/><rect x="89" y="8.5" width="1.02" height="139.5" fill="#4321ad"/><rect x="90" y="8.5" width="1.02" height="139.5" fill="#4321ad"/><rect x="91" y="8.5" width="1.02" height="139.5" fill="#4321ad"/><rect x="92" y="8.5" width="1.02" height="139.5" fill="#4321ad"/><rect x="93" y="8.5" width="1.02" height="139.5" fill="#4321ad"/><rect x="94" y="8.5" width="1.02" height="139.5" fill="#4321ad"/><rect x="95" y="8.5" width="1.02" height="139.5" fill="#4321ad"/><rect x="96" y="8.5" width="1.02" height="139.5" fill="#4321ad"/><rect x="97" y="8.5" width="1.02" height="139.5" fill="#4321ad"/><rect x="98" y="8.5" width="1.02" height="139.5" fill="#4321ad"/><rect x="99" y="8.5" width="1.02" height="139.5" fill="#4321ad"/><rect x="100" y="8.5" width="1.02" height="139.5" fill="#4321ad"/><rect x="101" y="8.5" width="1.02" height="139.5" fill="#4321ad"/><rect x="102" y="8.5" width="1.02" height="139.5" fill="#4321ad"/><rect x="103" y="8.5" width="1.02" height="139.5" fill="#4321ad"/><rect x="104" y="8.5" width="1.02" height="139.5" fill="#4321ad"/><rect x="105" y="8.5" width="1.02" height="139.5" fill="#4321ad"/><rect x="106" y="8.5" width="1.02" height="139.5" fill="#4321ad"/><rect x="107" y="8.5" width="1.02" height="139.5" fill="#4321ad"/><rect x="108" y="8.5" width="1.02" height="139.5" fill="#4321ad"/><rect x="109" y="8.5" width="1.02" height="139.5" fill="#4321ad"/><rect x="110" y="8.5" width="1.02" height="139.5" fill="#4321ad"/><rect x="111" y="8.5" width="1.02" height="139.5" fill="#4321ad"/><rect x="112" y="8.5" width="1.02" height="139.5" fill="#4321ad"/><rect x="113" y="8.5" width="1.02" height="139.5" fill="#4321ad"/><rect x="114" y="8.5" width="1.02" height="139.5" fill="#4321ad"/><rect x="115" y="8.5" width="1.02" height="139.5" fill="#4321ad"/><rect x="116" y="8.5" width="1.02" height="139.5" fill="#4321ad"/><rect x="117" y="8.5" width="1.02" height="139.5" fill="#4321ad"/><rect x="118" y="8.5" width="1.02" height="139.5" fill="#4321ad"/><rect x="119" y="8.5" width="1.02" height="139.5" fill="#4321ad"/><rect x="120" y="8.5" width="1.02" height="139.5" fill="#4321ad"/><rect x="121" y="8.5" width="1.02" height="139.5" fill="#4321ad"/><rect x="122" y="8.5" width="1.02" height="139.5" fill="#4321ad"/><rect x="123" y="8.5" width="1.02" height="139.5" fill="#4321ad"/><rect x="124" y="8.5" width="1.02" height="139.5" fill="#4321ad"/><rect x="125" y="8.5" width="1.02" height="139.5" fill="#4321ad"/><rect x="126" y="8.5" width="1.02" height="139.5" fill="#4321ad"/><rect x="127" y="8.5" width="1.02" height="139.5" fill="#4321ad"/><rect x="128" y="8.5" width="1.02" height="139.5" fill="#4321ad"/><rect x="129" y="8.5" width="1.02" height="139.5" fill="#4321ad"/><rect x="130" y="8.5" width="1.02" height="139.5" fill="#4321ad"/><rect x="131" y="8.5" width="1.02" height="139.5" fill="#4321ad"/><rect x="132" y="8.5" width="1.02" height="139.5" fill="#4321ad"/><rect x="133" y="8.5" width="1.02" height="139.5" fill="#4321ad"/><rect x="134" y="8.5" width="1.02" height="139.5" fill="#4321ad"/><rect x="135" y="8.5" width="1.02" height="139.5" fill="#4321ad"/><rect x="136" y="8.5" width="1.02" height="139.5" fill="#4321ad"/><rect x="137" y="8.5" width="1.02" height="139.5" fill="#4321ad"/><rect x="138" y="8.5" width="1.02" height="139.5" fill="#4321ad"/><rect x="139" y="8.5" width="1.02" height="139.5" fill="#4321ad"/><rect x="140" y="8.5" width="1.02" height="139.5" fill="#4321ad"/><rect x="141" y="8.5" width="1.02" height="139.5" fill="#4321ad"/><rect x="142" y="8.5" width="1.02" height="139.5" fill="#4321ad"/><rect x="143" y="8.5" width="1.02" height="139.5" fill="#4321ad"/><rect x="144" y="8.5" width="1.02" height="139.5" fill="#4321ad"/><rect x="145" y="8.5" width="1.02" height="139.5" fill="#4321ad"/><rect x="146" y="8.5" width="1.02" height="139.5" fill="#4321ad"/><rect x="147" y="8.5" width="1.02" height="139.5" fill="#4321ad"/><rect x="148" y="8.5" width="1.02" height="139.5" fill="#4321ad"/><rect x="149" y="8.5" width="1.02" height="139.5" fill="#4321ad"/><rect x="150" y="8.5" width="1.02" height="139.5" fill="#4321ad"/><rect x="151" y="8.5" width="1.02" height="139.5" fill="#4321ad"/><rect x="152" y="8.5" width="1.02" height="139.5" fill="#4321ad"/><rect x="153" y="8.5" width="1.02" height="139.5" fill="#4321ad"/><rect x="154" y="8.5" width="1.02" height="139.5" fill="#4321ad"/><rect x="155" y="8.5" width="1.02" height="139.5" fill="#4321ad"/><rect x="156" y="8.5" width="1.02" height="139.5" fill="#4321ad"/><rect x="157" y="8.5" width="1.02" height="139.5" fill="#4321ad"/><rect x="158" y="8.5" width="1.02" height="139.5" fill="#4321ad"/><rect x="159" y="8.5" width="1.02" height="139.5" fill="#4321ad"/><rect x="160" y="8.5" width="1.02" height="139.5" fill="#4321ad"/><rect x="161" y="8.5" width="1.02" height="139.5" fill="#4321ad"/><rect x="162" y="8.5" width="1.02" height="139.5" fill="#4321ad"/><rect x="163" y="8.5" width="1.02" height="139.5" fill="#4321ad"/><rect x="164" y="8.5" width="1.02" height="139.5" fill="#4321ad"/><rect x="165" y="8.5" width="1.02" height="139.5" fill="#4321ad"/><rect x="166" y="8.5" width="1.02" height="139.5" fill="#4321ad"/><rect x="167" y="8.5" width="1.02" height="139.5" fill="#4321ad"/><rect x="168" y="8.5" width="1.02" height="139.5" fill="#4321ad"/><rect x="169" y="8.5" width="1.02" height="139.5" fill="#4321ad"/><rect x="170" y="8.5" width="1.02" height="139.5" fill="#4321ad"/><rect x="171" y="8.5" width="1.02" height="139.5" fill="#4321ad"/><rect x="172" y="8.5" width="1.02" height="139.5" fill="#4321ad"/><rect x="173" y="8.5" width="1.02" height="139.5" fill="#4321ad"/><rect x="174" y="8.5" width="1.02" height="139.5" fill="#4321ad"/><rect x="175" y="8.5" width="1.02" height="139.5" fill="#4321ad"/><rect x="176" y="8.5" width="1.02" height="139.5" fill="#4321ad"/><rect x="177" y="8.5" width="1.02" height="139.5" fill="#4321ad"/><rect x="178" y="8.5" width="1.02" height="139.5" fill="#4321ad"/><rect x="179" y="8.5" width="1.02" height="139.5" fill="#4321ad"/><rect x="180" y="8.5" width="1.02" height="139.5" fill="#4321ad"/><rect x="181" y="8.5" width="1.02" height="139.5" fill="#4321ad"/><rect x="182" y="8.5" width="1.02" height="139.5" fill="#4321ad"/><rect x="183" y="8.5" width="1.02" height="139.5" fill="#4321ad"/><rect x="184" y="8.5" width="1.02" height="139.5" fill="#4321ad"/><rect x="185" y="8.5" width="1.02" height="139.5" fill="#4321ad"/><rect x="186" y="8.5" width="1.02" height="139.5" fill="#4321ad"/><rect x="187" y="8.5" width="1.02" height="139.5" fill="#4321ad"/><rect x="188" y="8.5" width="1.02" height="139.5" fill="#4321ad"/><rect x="189" y="8.5" width="1.02" height="139.5" fill="#4321ad"/><rect x="190" y="8.5" width="1.02" height="139.5" fill="#4321ad"/><rect x="191" y="8.5" width="1.02" height="139.5" fill="#4321ad"/><rect x="192" y="8.5" width="1.02" height="139.5" fill="#4321ad"/><rect x="193" y="8.5" width="1.02" height="139.5" fill="#4321ad"/><rect x="194" y="8.5" width="1.02" height="139.5" fill="#4321ad"/><rect x="195" y="8.5" width="1.02" height="139.5" fill="url(#c148)"/><rect x="196" y="8.5" width="1.02" height="139.5" fill="url(#c149)"/><rect x="197" y="8.5" width="1.02" height="139.5" fill="#4321ad"/><rect x="198" y="8.5" width="1.02" height="139.5" fill="#4321ad"/><rect x="199" y="8.5" width="1.02" height="139.5" fill="url(#c152)"/><rect x="200" y="8.5" width="1.02" height="139.5" fill="url(#c153)"/><rect x="201" y="8.5" width="1.02" height="139.5" fill="url(#c154)"/><rect x="202" y="8.5" width="1.02" height="139.5" fill="url(#c155)"/><rect x="203" y="8.5" width="1.02" height="139.5" fill="url(#c156)"/><rect x="204" y="8.5" width="1.02" height="139.5" fill="url(#c157)"/><rect x="205" y="8.5" width="1.02" height="139.5" fill="url(#c158)"/><rect x="206" y="8.5" width="1.02" height="139.5" fill="url(#c159)"/><rect x="207" y="8.5" width="1.02" height="139.5" fill="url(#c160)"/><rect x="208" y="8.5" width="1.02" height="139.5" fill="url(#c161)"/><rect x="209" y="8.5" width="1.02" height="139.5" fill="url(#c162)"/><rect x="210" y="8.5" width="1.02" height="139.5" fill="url(#c163)"/><rect x="211" y="8.5" width="1.02" height="139.5" fill="url(#c164)"/><rect x="212" y="8.5" width="1.02" height="139.5" fill="url(#c165)"/><rect x="213" y="8.5" width="1.02" height="139.5" fill="url(#c166)"/><rect x="214" y="8.5" width="1.02" height="139.5" fill="url(#c167)"/><rect x="215" y="8.5" width="1.02" height="139.5" fill="url(#c168)"/><rect x="216" y="8.5" width="1.02" height="139.5" fill="url(#c169)"/><rect x="217" y="8.5" width="1.02" height="139.5" fill="url(#c170)"/><rect x="218" y="8.5" width="1.02" height="139.5" fill="url(#c171)"/><rect x="219" y="8.5" width="1.02" height="139.5" fill="url(#c172)"/><rect x="220" y="8.5" width="1.02" height="139.5" fill="url(#c173)"/><rect x="221" y="8.5" width="1.02" height="139.5" fill="url(#c174)"/><rect x="222" y="8.5" width="1.02" height="139.5" fill="url(#c175)"/><rect x="223" y="8.5" width="1.02" height="139.5" fill="url(#c176)"/><rect x="224" y="8.5" width="1.02" height="139.5" fill="url(#c177)"/><rect x="225" y="8.5" width="1.02" height="139.5" fill="url(#c178)"/><rect x="226" y="8.5" width="1.02" height="139.5" fill="url(#c179)"/><rect x="227" y="8.5" width="1.02" height="139.5" fill="url(#c180)"/><rect x="228" y="8.5" width="1.02" height="139.5" fill="url(#c181)"/><rect x="229" y="8.5" width="1.02" height="139.5" fill="url(#c182)"/><rect x="230" y="8.5" width="1.02" height="139.5" fill="url(#c183)"/><rect x="231" y="8.5" width="1.02" height="139.5" fill="url(#c184)"/><rect x="232" y="8.5" width="1.02" height="139.5" fill="url(#c185)"/><rect x="233" y="8.5" width="1.02" height="139.5" fill="url(#c186)"/><rect x="234" y="8.5" width="1.02" height="139.5" fill="url(#c187)"/><rect x="235" y="8.5" width="1.02" height="139.5" fill="url(#c188)"/><rect x="236" y="8.5" width="1.02" height="139.5" fill="url(#c189)"/><rect x="237" y="8.5" width="1.02" height="139.5" fill="url(#c190)"/><rect x="238" y="8.5" width="1.02" height="139.5" fill="url(#c191)"/><rect x="239" y="8.5" width="1.02" height="139.5" fill="url(#c192)"/><rect x="240" y="8.5" width="1.02" height="139.5" fill="url(#c193)"/><rect x="241" y="8.5" width="1.02" height="139.5" fill="url(#c194)"/><rect x="242" y="8.5" width="1.02" height="139.5" fill="url(#c195)"/><rect x="243" y="8.5" width="1.02" height="139.5" fill="url(#c196)"/><rect x="244" y="8.5" width="1.02" height="139.5" fill="url(#c197)"/><rect x="245" y="8.5" width="1.02" height="139.5" fill="url(#c198)"/><rect x="246" y="8.5" width="1.02" height="139.5" fill="url(#c199)"/><rect x="247" y="8.5" width="1.02" height="139.5" fill="url(#c200)"/><rect x="248" y="8.5" width="1.02" height="139.5" fill="url(#c201)"/><rect x="249" y="8.5" width="1.02" height="139.5" fill="url(#c202)"/><rect x="250" y="8.5" width="1.02" height="139.5" fill="url(#c203)"/><rect x="251" y="8.5" width="1.02" height="139.5" fill="url(#c204)"/><rect x="252" y="8.5" width="1.02" height="139.5" fill="url(#c205)"/><rect x="253" y="8.5" width="1.02" height="139.5" fill="url(#c206)"/><rect x="254" y="8.5" width="1.02" height="139.5" fill="url(#c207)"/><rect x="255" y="8.5" width="1.02" height="139.5" fill="url(#c208)"/><rect x="256" y="8.5" width="1.02" height="139.5" fill="url(#c209)"/><rect x="257" y="8.5" width="1.02" height="139.5" fill="url(#c210)"/><rect x="258" y="8.5" width="1.02" height="139.5" fill="url(#c211)"/><rect x="259" y="8.5" width="1.02" height="139.5" fill="url(#c212)"/><rect x="260" y="8.5" width="1.02" height="139.5" fill="url(#c213)"/><rect x="261" y="8.5" width="1.02" height="139.5" fill="url(#c214)"/><rect x="262" y="8.5" width="1.02" height="139.5" fill="url(#c215)"/><rect x="263" y="8.5" width="1.02" height="139.5" fill="url(#c216)"/><rect x="264" y="8.5" width="1.02" height="139.5" fill="url(#c217)"/><rect x="265" y="8.5" width="1.02" height="139.5" fill="url(#c218)"/><rect x="266" y="8.5" width="1.02" height="139.5" fill="url(#c219)"/><rect x="267" y="8.5" width="1.02" height="139.5" fill="url(#c220)"/><rect x="268" y="8.5" width="1.02" height="139.5" fill="url(#c221)"/><rect x="269" y="8.5" width="1.02" height="139.5" fill="url(#c222)"/><rect x="270" y="8.5" width="1.02" height="139.5" fill="url(#c223)"/><rect x="271" y="8.5" width="1.02" height="139.5" fill="url(#c224)"/><rect x="272" y="8.5" width="1.02" height="139.5" fill="url(#c225)"/><rect x="273" y="8.5" width="1.02" height="139.5" fill="url(#c226)"/><rect x="274" y="8.5" width="1.02" height="139.5" fill="url(#c227)"/><rect x="275" y="8.5" width="1.02" height="139.5" fill="url(#c228)"/><rect x="276" y="8.5" width="1.02" height="139.5" fill="url(#c229)"/><rect x="277" y="8.5" width="1.02" height="139.5" fill="url(#c230)"/><rect x="278" y="8.5" width="1.02" height="139.5" fill="url(#c231)"/><rect x="279" y="8.5" width="1.02" height="139.5" fill="url(#c232)"/><rect x="280" y="8.5" width="1.02" height="139.5" fill="url(#c233)"/><rect x="281" y="8.5" width="1.02" height="139.5" fill="url(#c234)"/><rect x="282" y="8.5" width="1.02" height="139.5" fill="url(#c235)"/><rect x="283" y="8.5" width="1.02" height="139.5" fill="url(#c236)"/><rect x="284" y="8.5" width="1.02" height="139.5" fill="url(#c237)"/><rect x="285" y="8.5" width="1.02" height="139.5" fill="url(#c238)"/><rect x="286" y="8.5" width="1.02" height="139.5" fill="url(#c239)"/><rect x="287" y="8.5" width="1.02" height="139.5" fill="url(#c240)"/><rect x="288" y="8.5" width="1.02" height="139.5" fill="url(#c241)"/><rect x="289" y="8.5" width="1.02" height="139.5" fill="url(#c242)"/><rect x="290" y="8.5" width="1.02" height="139.5" fill="url(#c243)"/><rect x="291" y="8.5" width="1.02" height="139.5" fill="url(#c244)"/><rect x="292" y="8.5" width="1.02" height="139.5" fill="url(#c245)"/><rect x="293" y="8.5" width="1.02" height="139.5" fill="url(#c246)"/><rect x="294" y="8.5" width="1.02" height="139.5" fill="url(#c247)"/><rect x="295" y="8.5" width="1.02" height="139.5" fill="url(#c248)"/><rect x="296" y="8.5" width="1.02" height="139.5" fill="url(#c249)"/><rect x="297" y="8.5" width="1.02" height="139.5" fill="url(#c250)"/><rect x="298" y="8.5" width="1.02" height="139.5" fill="url(#c251)"/><rect x="299" y="8.5" width="1.02" height="139.5" fill="url(#c252)"/><rect x="300" y="8.5" width="1.02" height="139.5" fill="url(#c253)"/><rect x="301" y="8.5" width="1.02" height="139.5" fill="url(#c254)"/><rect x="302" y="8.5" width="1.02" height="139.5" fill="url(#c255)"/><rect x="303" y="8.5" width="1.02" height="139.5" fill="url(#c256)"/><rect x="304" y="8.5" width="1.02" height="139.5" fill="url(#c257)"/><rect x="305" y="8.5" width="1.02" height="139.5" fill="url(#c258)"/><rect x="306" y="8.5" width="1.02" height="139.5" fill="url(#c259)"/><rect x="307" y="8.5" width="1.02" height="139.5" fill="url(#c260)"/><rect x="308" y="8.5" width="1.02" height="139.5" fill="url(#c261)"/><rect x="309" y="8.5" width="1.02" height="139.5" fill="url(#c262)"/><rect x="310" y="8.5" width="1.02" height="139.5" fill="url(#c263)"/><rect x="311" y="8.5" width="1.02" height="139.5" fill="url(#c264)"/><rect x="312" y="8.5" width="1.02" height="139.5" fill="url(#c265)"/><rect x="313" y="8.5" width="1.02" height="139.5" fill="url(#c266)"/><rect x="314" y="8.5" width="1.02" height="139.5" fill="url(#c267)"/><rect x="315" y="8.5" width="1.02" height="139.5" fill="url(#c268)"/><rect x="316" y="8.5" width="1.02" height="139.5" fill="url(#c269)"/><rect x="317" y="8.5" width="1.02" height="139.5" fill="url(#c270)"/><rect x="318" y="8.5" width="1.02" height="139.5" fill="url(#c271)"/><rect x="319" y="8.5" width="1.02" height="139.5" fill="url(#c272)"/><rect x="320" y="8.5" width="1.02" height="139.5" fill="url(#c273)"/><rect x="321" y="8.5" width="1.02" height="139.5" fill="url(#c274)"/><rect x="322" y="8.5" width="1.02" height="139.5" fill="url(#c275)"/><rect x="323" y="8.5" width="1.02" height="139.5" fill="url(#c276)"/><rect x="324" y="8.5" width="1.02" height="139.5" fill="url(#c277)"/><rect x="325" y="8.5" width="1.02" height="139.5" fill="url(#c278)"/><rect x="326" y="8.5" width="1.02" height="139.5" fill="url(#c279)"/><rect x="327" y="8.5" width="1.02" height="139.5" fill="url(#c280)"/><rect x="328" y="8.5" width="1.02" height="139.5" fill="url(#c281)"/><rect x="329" y="8.5" width="1.02" height="139.5" fill="url(#c282)"/><rect x="330" y="8.5" width="1.02" height="139.5" fill="url(#c283)"/><rect x="331" y="8.5" width="1.02" height="139.5" fill="url(#c284)"/><rect x="332" y="8.5" width="1.02" height="139.5" fill="url(#c285)"/><rect x="333" y="8.5" width="1.02" height="139.5" fill="url(#c286)"/><rect x="334" y="8.5" width="1.02" height="139.5" fill="url(#c287)"/><rect x="335" y="8.5" width="1.02" height="139.5" fill="url(#c288)"/><rect x="336" y="8.5" width="1.02" height="139.5" fill="url(#c289)"/><rect x="337" y="8.5" width="1.02" height="139.5" fill="url(#c290)"/><rect x="338" y="8.5" width="1.02" height="139.5" fill="url(#c291)"/><rect x="339" y="8.5" width="1.02" height="139.5" fill="url(#c292)"/><rect x="340" y="8.5" width="1.02" height="139.5" fill="url(#c293)"/><rect x="341" y="8.5" width="1.02" height="139.5" fill="url(#c294)"/><rect x="342" y="8.5" width="1.02" height="139.5" fill="url(#c295)"/><rect x="343" y="8.5" width="1.02" height="139.5" fill="url(#c296)"/><rect x="344" y="8.5" width="1.02" height="139.5" fill="url(#c297)"/><rect x="345" y="8.5" width="1.02" height="139.5" fill="url(#c298)"/><rect x="346" y="8.5" width="1.02" height="139.5" fill="url(#c299)"/><rect x="347" y="8.5" width="1.02" height="139.5" fill="url(#c300)"/><rect x="348" y="8.5" width="1.02" height="139.5" fill="url(#c301)"/><rect x="349" y="8.5" width="1.02" height="139.5" fill="url(#c302)"/><rect x="350" y="8.5" width="1.02" height="139.5" fill="url(#c303)"/><rect x="351" y="8.5" width="1.02" height="139.5" fill="url(#c304)"/><rect x="352" y="8.5" width="1.02" height="139.5" fill="url(#c305)"/><rect x="353" y="8.5" width="1.02" height="139.5" fill="url(#c306)"/><rect x="354" y="8.5" width="1.02" height="139.5" fill="url(#c307)"/><rect x="355" y="8.5" width="1.02" height="139.5" fill="url(#c308)"/><rect x="356" y="8.5" width="1.02" height="139.5" fill="url(#c309)"/><rect x="357" y="8.5" width="1.02" height="139.5" fill="url(#c310)"/><rect x="358" y="8.5" width="1.02" height="139.5" fill="url(#c311)"/><rect x="359" y="8.5" width="1.02" height="139.5" fill="url(#c312)"/><rect x="360" y="8.5" width="1.02" height="139.5" fill="url(#c313)"/><rect x="361" y="8.5" width="1.02" height="139.5" fill="url(#c314)"/><rect x="362" y="8.5" width="1.02" height="139.5" fill="url(#c315)"/><rect x="363" y="8.5" width="1.02" height="139.5" fill="url(#c316)"/><rect x="364" y="8.5" width="1.02" height="139.5" fill="url(#c317)"/><rect x="365" y="8.5" width="1.02" height="139.5" fill="url(#c318)"/><rect x="366" y="8.5" width="1.02" height="139.5" fill="url(#c319)"/><rect x="367" y="8.5" width="1.02" height="139.5" fill="url(#c320)"/><rect x="368" y="8.5" width="1.02" height="139.5" fill="url(#c321)"/><rect x="369" y="8.5" width="1.02" height="139.5" fill="url(#c322)"/><rect x="370" y="8.5" width="1.02" height="139.5" fill="url(#c323)"/><rect x="371" y="8.5" width="1.02" height="139.5" fill="url(#c324)"/><rect x="372" y="8.5" width="1.02" height="139.5" fill="url(#c325)"/><rect x="373" y="8.5" width="1.02" height="139.5" fill="url(#c326)"/><rect x="374" y="8.5" width="1.02" height="139.5" fill="url(#c327)"/><rect x="375" y="8.5" width="1.02" height="139.5" fill="url(#c328)"/><rect x="376" y="8.5" width="1.02" height="139.5" fill="url(#c329)"/><rect x="377" y="8.5" width="1.02" height="139.5" fill="url(#c330)"/><rect x="378" y="8.5" width="1.02" height="139.5" fill="url(#c331)"/><rect x="379" y="8.5" width="1.02" height="139.5" fill="url(#c332)"/><rect x="380" y="8.5" width="1.02" height="139.5" fill="url(#c333)"/><rect x="381" y="8.5" width="1.02" height="139.5" fill="url(#c334)"/><rect x="382" y="8.5" width="1.02" height="139.5" fill="url(#c335)"/><rect x="383" y="8.5" width="1.02" height="139.5" fill="url(#c336)"/><rect x="384" y="8.5" width="1.02" height="139.5" fill="url(#c337)"/><rect x="385" y="8.5" width="1.02" height="139.5" fill="url(#c338)"/><rect x="386" y="8.5" width="1.02" height="139.5" fill="url(#c339)"/><rect x="387" y="8.5" width="1.02" height="139.5" fill="url(#c340)"/><rect x="388" y="8.5" width="1.02" height="139.5" fill="url(#c341)"/><rect x="389" y="8.5" width="1.02" height="139.5" fill="url(#c342)"/><rect x="390" y="8.5" width="1.02" height="139.5" fill="url(#c343)"/><rect x="391" y="8.5" width="1.02" height="139.5" fill="url(#c344)"/><rect x="392" y="8.5" width="1.02" height="139.5" fill="url(#c345)"/><rect x="393" y="8.5" width="1.02" height="139.5" fill="url(#c346)"/><rect x="394" y="8.5" width="1.02" height="139.5" fill="url(#c347)"/><rect x="395" y="8.5" width="1.02" height="139.5" fill="url(#c348)"/><rect x="396" y="8.5" width="1.02" height="139.5" fill="url(#c349)"/><rect x="397" y="8.5" width="1.02" height="139.5" fill="url(#c350)"/><rect x="398" y="8.5" width="1.02" height="139.5" fill="url(#c351)"/><rect x="399" y="8.5" width="1.02" height="139.5" fill="url(#c352)"/><rect x="400" y="8.5" width="1.02" height="139.5" fill="url(#c353)"/><rect x="401" y="8.5" width="1.02" height="139.5" fill="url(#c354)"/><rect x="402" y="8.5" width="1.02" height="139.5" fill="url(#c355)"/><rect x="403" y="8.5" width="1.02" height="139.5" fill="url(#c356)"/><rect x="404" y="8.5" width="1.02" height="139.5" fill="url(#c357)"/><rect x="405" y="8.5" width="1.02" height="139.5" fill="url(#c358)"/><rect x="406" y="8.5" width="1.02" height="139.5" fill="url(#c359)"/><rect x="407" y="8.5" width="1.02" height="139.5" fill="url(#c360)"/><rect x="408" y="8.5" width="1.02" height="139.5" fill="url(#c361)"/><rect x="409" y="8.5" width="1.02" height="139.5" fill="url(#c362)"/><rect x="410" y="8.5" width="1.02" height="139.5" fill="url(#c363)"/><rect x="411" y="8.5" width="1.02" height="139.5" fill="url(#c364)"/><rect x="412" y="8.5" width="1.02" height="139.5" fill="url(#c365)"/><rect x="413" y="8.5" width="1.02" height="139.5" fill="url(#c366)"/><rect x="414" y="8.5" width="1.02" height="139.5" fill="url(#c367)"/><rect x="415" y="8.5" width="1.02" height="139.5" fill="url(#c368)"/><rect x="416" y="8.5" width="1.02" height="139.5" fill="url(#c369)"/><rect x="417" y="8.5" width="1.02" height="139.5" fill="url(#c370)"/><rect x="418" y="8.5" width="1.02" height="139.5" fill="url(#c371)"/><rect x="419" y="8.5" width="1.02" height="139.5" fill="url(#c372)"/><rect x="420" y="8.5" width="1.02" height="139.5" fill="url(#c373)"/><rect x="421" y="8.5" width="1.02" height="139.5" fill="url(#c374)"/><rect x="422" y="8.5" width="1.02" height="139.5" fill="#4321ad"/><rect x="423" y="8.5" width="1.02" height="139.5" fill="url(#c376)"/><rect x="424" y="8.5" width="1.02" height="139.5" fill="url(#c377)"/><rect x="425" y="8.5" width="1.02" height="139.5" fill="#4321ad"/><rect x="426" y="8.5" width="1.02" height="139.5" fill="url(#c379)"/><rect x="427" y="8.5" width="1.02" height="139.5" fill="url(#c380)"/><rect x="428" y="8.5" width="1.02" height="139.5" fill="#4321ad"/><rect x="429" y="8.5" width="1.02" height="139.5" fill="url(#c382)"/><rect x="430" y="8.5" width="1.02" height="139.5" fill="url(#c383)"/><rect x="431" y="8.5" width="1.02" height="139.5" fill="url(#c384)"/><rect x="432" y="8.5" width="1.02" height="139.5" fill="url(#c385)"/><rect x="433" y="8.5" width="1.02" height="139.5" fill="url(#c386)"/><rect x="434" y="8.5" width="1.02" height="139.5" fill="url(#c387)"/><rect x="435" y="8.5" width="1.02" height="139.5" fill="url(#c388)"/><rect x="436" y="8.5" width="1.02" height="139.5" fill="url(#c389)"/><rect x="437" y="8.5" width="1.02" height="139.5" fill="url(#c390)"/><rect x="438" y="8.5" width="1.02" height="139.5" fill="url(#c391)"/><rect x="439" y="8.5" width="1.02" height="139.5" fill="url(#c392)"/><rect x="440" y="8.5" width="1.02" height="139.5" fill="url(#c393)"/><rect x="441" y="8.5" width="1.02" height="139.5" fill="url(#c394)"/><rect x="442" y="8.5" width="1.02" height="139.5" fill="url(#c395)"/><rect x="443" y="8.5" width="1.02" height="139.5" fill="url(#c396)"/><rect x="444" y="8.5" width="1.02" height="139.5" fill="url(#c397)"/><rect x="445" y="8.5" width="1.02" height="139.5" fill="url(#c398)"/><rect x="446" y="8.5" width="1.02" height="139.5" fill="url(#c399)"/><rect x="447" y="8.5" width="1.02" height="139.5" fill="url(#c400)"/><rect x="448" y="8.5" width="1.02" height="139.5" fill="url(#c401)"/><rect x="449" y="8.5" width="1.02" height="139.5" fill="url(#c402)"/><rect x="450" y="8.5" width="1.02" height="139.5" fill="url(#c403)"/><rect x="451" y="8.5" width="1.02" height="139.5" fill="url(#c404)"/><rect x="452" y="8.5" width="1.02" height="139.5" fill="url(#c405)"/><rect x="453" y="8.5" width="1.02" height="139.5" fill="url(#c406)"/><rect x="454" y="8.5" width="1.02" height="139.5" fill="url(#c407)"/><rect x="455" y="8.5" width="1.02" height="139.5" fill="url(#c408)"/><rect x="456" y="8.5" width="1.02" height="139.5" fill="url(#c409)"/><rect x="457" y="8.5" width="1.02" height="139.5" fill="url(#c410)"/><rect x="458" y="8.5" width="1.02" height="139.5" fill="url(#c411)"/><rect x="459" y="8.5" width="1.02" height="139.5" fill="url(#c412)"/><rect x="460" y="8.5" width="1.02" height="139.5" fill="url(#c413)"/><rect x="461" y="8.5" width="1.02" height="139.5" fill="url(#c414)"/><rect x="462" y="8.5" width="1.02" height="139.5" fill="url(#c415)"/><rect x="463" y="8.5" width="1.02" height="139.5" fill="url(#c416)"/><rect x="464" y="8.5" width="1.02" height="139.5" fill="url(#c417)"/><rect x="465" y="8.5" width="1.02" height="139.5" fill="url(#c418)"/><rect x="466" y="8.5" width="1.02" height="139.5" fill="url(#c419)"/><rect x="467" y="8.5" width="1.02" height="139.5" fill="url(#c420)"/><rect x="468" y="8.5" width="1.02" height="139.5" fill="url(#c421)"/><rect x="469" y="8.5" width="1.02" height="139.5" fill="url(#c422)"/><rect x="470" y="8.5" width="1.02" height="139.5" fill="url(#c423)"/><rect x="471" y="8.5" width="1.02" height="139.5" fill="url(#c424)"/><rect x="472" y="8.5" width="1.02" height="139.5" fill="url(#c425)"/><rect x="473" y="8.5" width="1.02" height="139.5" fill="url(#c426)"/><rect x="474" y="8.5" width="1.02" height="139.5" fill="url(#c427)"/><rect x="475" y="8.5" width="1.02" height="139.5" fill="url(#c428)"/><rect x="476" y="8.5" width="1.02" height="139.5" fill="url(#c429)"/><rect x="477" y="8.5" width="1.02" height="139.5" fill="url(#c430)"/><rect x="478" y="8.5" width="1.02" height="139.5" fill="url(#c431)"/><rect x="479" y="8.5" width="1.02" height="139.5" fill="url(#c432)"/><rect x="480" y="8.5" width="1.02" height="139.5" fill="url(#c433)"/><rect x="481" y="8.5" width="1.02" height="139.5" fill="url(#c434)"/><rect x="482" y="8.5" width="1.02" height="139.5" fill="url(#c435)"/><rect x="483" y="8.5" width="1.02" height="139.5" fill="url(#c436)"/><rect x="484" y="8.5" width="1.02" height="139.5" fill="url(#c437)"/><rect x="485" y="8.5" width="1.02" height="139.5" fill="url(#c438)"/><rect x="486" y="8.5" width="1.02" height="139.5" fill="url(#c439)"/><rect x="487" y="8.5" width="1.02" height="139.5" fill="url(#c440)"/></g>
<path d="M46.75,148.2 V8.5 H488.8" fill="none" stroke="#111" stroke-width="1.1"/>
<path d="M488.6,8.5 V148.1 H47" fill="none" stroke="#1a1040" stroke-width="0.8"/>
<line x1="48.9" y1="100.1" x2="488.5" y2="100.1" stroke="#fff" stroke-width="1.6" stroke-dasharray="3.1 1.42"/>
<text x="61" y="73.7" font-family="Liberation Sans, sans-serif" font-size="10.6" fill="#fff" textLength="71" lengthAdjust="spacingAndGlyphs" stroke="#fff" stroke-width="0.14">f = 0.62 MHz</text>
<path d="M87.2,83.2 L100.3,97 M99.6,89.4 L100.4,97.1 L92.2,95.5" fill="none" stroke="#fff" stroke-width="1.2" stroke-linecap="round" stroke-linejoin="round"/>
<defs><linearGradient id="cb" x1="0" y1="0" x2="0" y2="1"><stop offset="0.0000" stop-color="#f9fb00"/><stop offset="0.0159" stop-color="#f8f500"/><stop offset="0.0317" stop-color="#f8f000"/><stop offset="0.0476" stop-color="#f9ea00"/><stop offset="0.0635" stop-color="#fce400"/><stop offset="0.0794" stop-color="#ffdd00"/><stop offset="0.0952" stop-color="#ffd700"/><stop offset="0.1111" stop-color="#ffd100"/><stop offset="0.1270" stop-color="#ffcb11"/><stop offset="0.1429" stop-color="#ffc51f"/><stop offset="0.1587" stop-color="#ffbf28"/><stop offset="0.1746" stop-color="#ffbc2a"/><stop offset="0.1905" stop-color="#ffbb1d"/><stop offset="0.2063" stop-color="#f6bc05"/><stop offset="0.2222" stop-color="#e8be00"/><stop offset="0.2381" stop-color="#d9c100"/><stop offset="0.2540" stop-color="#c8c300"/><stop offset="0.2698" stop-color="#b5c60b"/><stop offset="0.2857" stop-color="#a0c81f"/><stop offset="0.3016" stop-color="#89ca30"/><stop offset="0.3175" stop-color="#6dcc3f"/><stop offset="0.3333" stop-color="#49cd4e"/><stop offset="0.3492" stop-color="#00ce5b"/><stop offset="0.3651" stop-color="#00ce69"/><stop offset="0.3810" stop-color="#00cd76"/><stop offset="0.3968" stop-color="#00cd81"/><stop offset="0.4127" stop-color="#00cb8c"/><stop offset="0.4286" stop-color="#00c996"/><stop offset="0.4444" stop-color="#00c79f"/><stop offset="0.4603" stop-color="#00c5a7"/><stop offset="0.4762" stop-color="#00c3af"/><stop offset="0.4921" stop-color="#00c1b7"/><stop offset="0.5079" stop-color="#00bebe"/><stop offset="0.5238" stop-color="#00bcc5"/><stop offset="0.5397" stop-color="#00b9cc"/><stop offset="0.5556" stop-color="#00b6d2"/><stop offset="0.5714" stop-color="#00b3d9"/><stop offset="0.5873" stop-color="#00afde"/><stop offset="0.6032" stop-color="#00abe2"/><stop offset="0.6190" stop-color="#00a6e5"/><stop offset="0.6349" stop-color="#00a2e8"/><stop offset="0.6508" stop-color="#009deb"/><stop offset="0.6667" stop-color="#0098ee"/><stop offset="0.6825" stop-color="#0093f2"/><stop offset="0.6984" stop-color="#008ef6"/><stop offset="0.7143" stop-color="#0088fb"/><stop offset="0.7302" stop-color="#0082fe"/><stop offset="0.7460" stop-color="#007dff"/><stop offset="0.7619" stop-color="#0076ff"/><stop offset="0.7778" stop-color="#0070ff"/><stop offset="0.7937" stop-color="#2269ff"/><stop offset="0.8095" stop-color="#2f63ff"/><stop offset="0.8254" stop-color="#375dff"/><stop offset="0.8413" stop-color="#3d57fc"/><stop offset="0.8571" stop-color="#4151f9"/><stop offset="0.8730" stop-color="#444bf5"/><stop offset="0.8889" stop-color="#4645f0"/><stop offset="0.9048" stop-color="#483fea"/><stop offset="0.9206" stop-color="#4839e3"/><stop offset="0.9365" stop-color="#4834da"/><stop offset="0.9524" stop-color="#472fd0"/><stop offset="0.9683" stop-color="#462ac4"/><stop offset="0.9841" stop-color="#4526b9"/><stop offset="1.0000" stop-color="#4321ad"/></linearGradient></defs><rect x="504.4" y="8.3" width="18.6" height="141" fill="url(#cb)" stroke="#1a1a1a" stroke-width="0.9"/><line x1="521.2" y1="15.2" x2="523" y2="15.2" stroke="#1a1a1a" stroke-width="0.9"/><line x1="521.2" y1="48.8" x2="523" y2="48.8" stroke="#1a1a1a" stroke-width="0.9"/><line x1="521.2" y1="82.4" x2="523" y2="82.4" stroke="#1a1a1a" stroke-width="0.9"/><line x1="521.2" y1="116" x2="523" y2="116" stroke="#1a1a1a" stroke-width="0.9"/>
<text x="42.3" y="14.8" font-family="Liberation Sans, sans-serif" font-weight="bold" font-size="12.6" text-anchor="end" fill="#1a1a1a">1.2</text>
<text x="42.3" y="45.9" font-family="Liberation Sans, sans-serif" font-weight="bold" font-size="12.6" text-anchor="end" fill="#1a1a1a">1</text>
<text x="42.3" y="76.4" font-family="Liberation Sans, sans-serif" font-weight="bold" font-size="12.6" text-anchor="end" fill="#1a1a1a">0.8</text>
<text x="42.3" y="106.6" font-family="Liberation Sans, sans-serif" font-weight="bold" font-size="12.6" text-anchor="end" fill="#1a1a1a">0.6</text>
<text x="42.3" y="138.3" font-family="Liberation Sans, sans-serif" font-weight="bold" font-size="12.6" text-anchor="end" fill="#1a1a1a">0.4</text>
<text x="527.5" y="20.9" font-family="Liberation Sans, sans-serif" font-weight="bold" font-size="12.6" fill="#1a1a1a">2</text>
<text x="527.5" y="54.4" font-family="Liberation Sans, sans-serif" font-weight="bold" font-size="12.6" fill="#1a1a1a">1.5</text>
<text x="527.5" y="88.10000000000001" font-family="Liberation Sans, sans-serif" font-weight="bold" font-size="12.6" fill="#1a1a1a">1</text>
<text x="527.5" y="120.7" font-family="Liberation Sans, sans-serif" font-weight="bold" font-size="12.6" fill="#1a1a1a">0.5</text>
<text x="47.2" y="164.8" font-family="Liberation Sans, sans-serif" font-weight="bold" font-size="12.6" text-anchor="middle" fill="#1a1a1a">50</text>
<text x="268.3" y="164.8" font-family="Liberation Sans, sans-serif" font-weight="bold" font-size="12.6" text-anchor="middle" fill="#1a1a1a">100</text>
<text x="488.5" y="164.8" font-family="Liberation Sans, sans-serif" font-weight="bold" font-size="12.6" text-anchor="middle" fill="#1a1a1a">150</text>
<text x="268.1" y="183.4" font-family="Liberation Sans, sans-serif" font-weight="bold" font-size="15.3" text-anchor="middle" fill="#1a1a1a">Time [<tspan font-family="DejaVu Sans, Liberation Sans, sans-serif" font-style="italic" font-weight="normal" font-size="13.5">μ</tspan>s]</text>
<text x="268" y="200.3" font-family="Liberation Sans, sans-serif" font-weight="bold" font-size="12.7" text-anchor="middle" fill="#111">(a)</text>
<text transform="translate(17.4,79.2) rotate(-90) scale(1.055,1)" font-family="Liberation Sans, sans-serif" font-weight="bold" font-size="14.55" text-anchor="middle" fill="#1a1a1a">Frequency[MHz]</text>
<line x1="47.8" y1="213.3" x2="488.1" y2="213.3" stroke="#c8c8c8" stroke-width="1.8" stroke-dasharray="1.2 1.7"/>
<line x1="47.8" y1="244.3" x2="488.1" y2="244.3" stroke="#c8c8c8" stroke-width="1.8" stroke-dasharray="1.2 1.7"/>
<line x1="47.8" y1="275.3" x2="488.1" y2="275.3" stroke="#c8c8c8" stroke-width="1.8" stroke-dasharray="1.2 1.7"/>
<line x1="47.8" y1="306.3" x2="488.1" y2="306.3" stroke="#c8c8c8" stroke-width="1.8" stroke-dasharray="1.2 1.7"/>
<line x1="47.8" y1="337.3" x2="488.1" y2="337.3" stroke="#c8c8c8" stroke-width="1.8" stroke-dasharray="1.2 1.7"/>
<line x1="268" y1="207.9" x2="268" y2="345.2" stroke="#c8c8c8" stroke-width="1.8" stroke-dasharray="1.2 1.7"/>
<path d="M48.0,275.0 48.4,275.3 48.8,275.6 49.2,275.8 49.6,275.6 50.0,275.5 50.4,275.4 50.8,275.4 51.2,275.3 51.6,275.3 52.0,275.3 52.4,275.0 52.8,274.8 53.2,274.8 53.6,275.1 54.0,275.4 54.4,275.6 54.8,275.6 55.2,275.5 55.6,275.7 56.0,275.7 56.4,275.5 56.8,275.3 57.2,275.4 57.6,275.5 58.0,275.4 58.4,275.2 58.8,275.2 59.2,275.3 59.6,275.1 60.0,274.9 60.4,274.9 60.8,275.2 61.2,275.5 61.6,275.7 62.0,275.9 62.4,275.8 62.8,275.6 63.2,275.4 63.6,275.6 64.0,275.7 64.4,275.5 64.8,275.6 65.2,275.7 65.6,275.6 66.0,275.5 66.4,275.4 66.8,275.4 67.2,275.5 67.6,275.2 68.0,274.9 68.4,274.9 68.8,274.9 69.2,274.9 69.6,275.1 70.0,275.4 70.4,275.5 70.8,275.8 71.2,275.9 71.6,275.7 72.0,275.4 72.4,275.1 72.8,275.1 73.2,275.1 73.6,275.2 74.0,275.2 74.4,275.2 74.8,275.2 75.2,275.0 75.6,274.9 76.0,275.1 76.4,275.1 76.8,275.1 77.2,275.0 77.6,275.1 78.0,275.2 78.4,275.3 78.8,275.5 79.2,275.6 79.6,275.5 80.0,275.5 80.4,275.4 80.8,275.3 81.2,275.3 81.6,275.1 82.0,275.0 82.4,275.1 82.8,275.5 83.2,275.7 83.6,275.6 84.0,275.5 84.4,275.5 84.8,275.5 85.2,275.5 85.6,275.5 86.0,275.5 86.4,275.5 86.8,275.5 87.2,275.4 87.6,275.1 88.0,275.1 88.4,275.4 88.8,275.3 89.2,275.0 89.6,274.9 90.0,275.0 90.4,275.2 90.8,275.2 91.2,275.1 91.6,275.2 92.0,275.4 92.4,275.4 92.8,275.4 93.2,275.4 93.6,275.5 94.0,275.4 94.4,275.3 94.8,275.3 95.2,275.4 95.6,275.2 96.0,275.3 96.4,275.3 96.8,275.4 97.2,275.4 97.6,275.2 98.0,275.1 98.4,275.1 98.8,275.2 99.2,275.4 99.6,275.4 100.0,275.3 100.4,275.1 100.8,275.2 101.2,275.4 101.6,275.5 102.0,275.5 102.4,275.5 102.8,275.4 103.2,275.5 103.6,275.6 104.0,275.5 104.4,275.2 104.8,275.0 105.2,275.0 105.6,275.1 106.0,275.0 106.4,275.1 106.8,275.2 107.2,275.2 107.6,275.3 108.0,275.4 108.4,275.5 108.8,275.6 109.2,275.6 109.6,275.5 110.0,275.4 110.4,275.5 110.8,275.4 111.2,275.2 111.6,275.1 112.0,275.2 112.4,275.2 112.8,275.2 113.2,275.1 113.6,274.9 114.0,275.1 114.4,275.3 114.8,275.3 115.2,275.4 115.6,275.4 116.0,275.4 116.4,275.5 116.8,275.6 117.2,275.6 117.6,275.6 118.0,275.7 118.4,275.6 118.8,275.3 119.2,275.0 119.6,274.8 120.0,274.7 120.4,274.9 120.8,275.2 121.2,275.4 121.6,275.6 122.0,275.6 122.4,275.5 122.8,275.4 123.2,275.4 123.6,275.6 124.0,275.7 124.4,275.8 124.8,275.6 125.2,275.4 125.6,275.3 126.0,275.2 126.4,274.9 126.8,274.9 127.2,275.1 127.6,275.2 128.0,275.2 128.4,275.1 128.8,275.1 129.2,275.1 129.6,275.0 130.0,275.0 130.4,275.1 130.8,275.3 131.2,275.4 131.6,275.5 132.0,275.4 132.4,275.2 132.8,275.2 133.2,275.1 133.6,275.2 134.0,275.1 134.4,275.0 134.8,275.0 135.2,275.1 135.6,275.2 136.0,275.2 136.4,275.3 136.8,275.2 137.2,275.1 137.6,275.1 138.0,275.3 138.4,275.7 138.8,275.6 139.2,275.4 139.6,275.4 140.0,275.3 140.4,275.2 140.8,275.3 141.2,275.0 141.6,274.8 142.0,274.9 142.4,275.1 142.8,275.2 143.2,275.2 143.6,275.3 144.0,275.1 144.4,274.8 144.8,274.9 145.2,275.0 145.6,275.0 146.0,275.0 146.4,275.0 146.8,275.0 147.2,275.1 147.6,275.2 148.0,275.3 148.4,275.6 148.8,275.5 149.2,275.3 149.6,275.3 150.0,275.3 150.4,275.3 150.8,275.0 151.2,274.7 151.6,274.9 152.0,275.0 152.4,275.1 152.8,275.2 153.2,275.2 153.6,275.2 154.0,275.3 154.4,275.5 154.8,275.5 155.2,275.5 155.6,275.5 156.0,275.3 156.4,275.2 156.8,275.0 157.2,274.9 157.6,275.0 158.0,275.0 158.4,275.1 158.8,275.3 159.2,275.4 159.6,275.3 160.0,275.3 160.4,275.3 160.8,275.4 161.2,275.3 161.6,275.1 162.0,275.0 162.4,275.3 162.8,275.4 163.2,275.2 163.6,275.0 164.0,275.0 164.4,275.3 164.8,275.4 165.2,275.5 165.6,275.5 166.0,275.5 166.4,275.3 166.8,275.2 167.2,275.0 167.6,275.1 168.0,275.5 168.4,275.7 168.8,275.5 169.2,275.4 169.6,275.6 170.0,275.7 170.4,275.6 170.8,275.4 171.2,275.3 171.6,275.0 172.0,275.0 172.4,275.1 172.8,275.2 173.2,275.2 173.6,275.3 174.0,275.5 174.4,275.5 174.8,275.5 175.2,275.5 175.6,275.4 176.0,275.2 176.4,275.2 176.8,275.2 177.2,275.4 177.6,275.8 178.0,275.9 178.4,275.6 178.8,275.2 179.2,275.1 179.6,275.0 180.0,275.1 180.4,275.2 180.8,275.0 181.2,274.9 181.6,275.2 182.0,275.5 182.4,275.5 182.8,275.4 183.2,275.4 183.6,275.5 184.0,275.7 184.4,275.7 184.8,275.4 185.2,275.1 185.6,275.2 186.0,275.5 186.4,275.6 186.8,275.7 187.2,275.4 187.6,275.3 188.0,275.2 188.4,275.1 188.8,275.0 189.2,275.0 189.6,275.1 190.0,275.4 190.4,275.7 190.8,275.7 191.2,275.6 191.6,275.5 192.0,275.4 192.4,275.3 192.8,275.5 193.2,275.5 193.6,275.4 194.0,275.3 194.4,275.2 194.8,275.1 195.2,275.0 195.6,275.0 196.0,274.9 196.4,274.9 196.8,275.0 197.2,275.3 197.6,275.3 198.0,275.3 198.4,275.3 198.8,275.4 199.2,275.7 199.6,275.9 200.0,275.8 200.4,275.8 200.8,275.8 201.2,275.7 201.6,275.6 202.0,275.5 202.4,275.1 202.8,274.9 203.2,274.8 203.6,274.7 204.0,274.7 204.4,275.0 204.8,275.3 205.2,275.4 205.6,275.4 206.0,275.5 206.4,275.8 206.8,276.3 207.2,276.8 207.6,277.0 208.0,276.9 208.4,276.4 208.8,275.7 209.2,274.8 209.6,273.3 210.0,271.7 210.4,270.4 210.8,269.9 211.2,270.0 211.6,270.5 212.0,271.5 212.4,272.9 212.8,274.5 213.2,276.5 213.6,278.7 214.0,281.0 214.4,283.2 214.8,284.8 215.2,285.7 215.6,285.5 216.0,284.2 216.4,281.9 216.8,278.4 217.2,273.6 217.6,268.3 218.0,263.1 218.4,258.6 218.8,255.6 219.2,255.0 219.6,257.2 220.0,261.8 220.4,268.9 220.8,277.6 221.2,286.6 221.6,294.9 222.0,301.4 222.4,305.2 222.8,305.4 223.2,301.9 223.6,295.3 224.0,286.2 224.4,275.2 224.8,263.3 225.2,252.0 225.6,242.5 226.0,235.7 226.4,233.3 226.8,235.9 227.2,243.9 227.6,256.7 228.0,273.2 228.4,290.9 228.8,307.2 229.2,319.8 229.6,327.0 230.0,327.9 230.4,323.0 230.8,312.9 231.2,298.8 231.6,281.9 232.0,263.9 232.4,246.5 232.8,231.9 233.2,221.3 233.6,216.0 234.0,217.0 234.4,224.7 234.8,238.9 235.2,258.2 235.6,280.0 236.0,301.6 236.4,320.2 236.8,333.3 237.2,339.1 237.6,336.9 238.0,327.4 238.4,311.6 238.8,291.8 239.2,270.0 239.6,249.1 240.0,231.5 240.4,219.3 240.8,214.1 241.2,216.6 241.6,226.4 242.0,241.7 242.4,260.1 242.8,279.7 243.2,298.2 243.6,312.9 244.0,322.5 244.4,326.4 244.8,323.9 245.2,315.8 245.6,302.6 246.0,286.1 246.4,268.7 246.8,252.7 247.2,239.9 247.6,232.0 248.0,229.7 248.4,233.3 248.8,242.0 249.2,254.3 249.6,268.3 250.0,282.4 250.4,295.0 250.8,304.6 251.2,310.5 251.6,312.3 252.0,309.8 252.4,303.5 252.8,293.9 253.2,282.2 253.6,269.9 254.0,258.3 254.4,248.8 254.8,242.9 255.2,241.0 255.6,243.6 256.0,251.0 256.4,262.1 256.8,275.2 257.2,287.8 257.6,298.3 258.0,304.8 258.4,306.5 258.8,304.1 259.2,298.3 259.6,289.6 260.0,279.0 260.4,267.9 260.8,257.9 261.2,250.2 261.6,245.6 262.0,244.5 262.4,247.4 262.8,254.0 263.2,263.6 263.6,275.1 264.0,286.3 264.4,295.8 264.8,302.5 265.2,305.5 265.6,304.4 266.0,299.4 266.4,291.3 266.8,281.1 267.2,270.1 267.6,259.6 268.0,251.1 268.4,245.9 268.8,244.8 269.2,248.1 269.6,255.5 270.0,266.0 270.4,277.5 270.8,288.1 271.2,296.1 271.6,300.9 272.0,302.4 272.4,300.3 272.8,295.2 273.2,288.1 273.6,279.8 274.0,271.3 274.4,263.5 274.8,257.1 275.2,252.9 275.6,251.6 276.0,252.8 276.4,256.1 276.8,261.2 277.2,267.6 277.6,274.5 278.0,281.2 278.4,286.6 278.8,290.4 279.2,292.7 279.6,293.4 280.0,292.1 280.4,289.2 280.8,285.0 281.2,280.0 281.6,274.6 282.0,269.4 282.4,264.8 282.8,261.2 283.2,258.9 283.6,258.7 284.0,260.6 284.4,263.8 284.8,267.8 285.2,272.1 285.6,276.0 286.0,279.2 286.4,281.4 286.8,282.9 287.2,283.9 287.6,284.2 288.0,283.3 288.4,281.5 288.8,278.9 289.2,275.8 289.6,272.5 290.0,269.2 290.4,266.8 290.8,265.7 291.2,265.9 291.6,267.1 292.0,269.1 292.4,271.6 292.8,274.3 293.2,276.6 293.6,278.4 294.0,279.6 294.4,280.5 294.8,280.8 295.2,280.7 295.6,280.2 296.0,279.4 296.4,278.1 296.8,276.4 297.2,274.3 297.6,272.2 298.0,270.5 298.4,269.3 298.8,268.6 299.2,268.6 299.6,269.2 300.0,270.5 300.4,272.4 300.8,274.7 301.2,276.9 301.6,278.9 302.0,280.4 302.4,281.7 302.8,282.3 303.2,282.2 303.6,281.1 304.0,279.1 304.4,277.0 304.8,275.0 305.2,272.8 305.6,270.8 306.0,269.4 306.4,268.6 306.8,268.4 307.2,269.1 307.6,270.7 308.0,272.6 308.4,274.7 308.8,277.1 309.2,279.2 309.6,280.8 310.0,282.0 310.4,282.4 310.8,281.8 311.2,280.5 311.6,278.6 312.0,276.3 312.4,273.8 312.8,271.5 313.2,269.6 313.6,268.4 314.0,268.0 314.4,268.5 314.8,269.7 315.2,271.7 315.6,273.8 316.0,276.0 316.4,278.1 316.8,279.8 317.2,280.9 317.6,281.8 318.0,281.9 318.4,281.0 318.8,279.5 319.2,277.6 319.6,275.2 320.0,273.1 320.4,271.4 320.8,269.8 321.2,268.8 321.6,268.7 322.0,269.5 322.4,271.0 322.8,273.2 323.2,275.7 323.6,278.1 324.0,279.6 324.4,280.6 324.8,281.1 325.2,280.9 325.6,279.6 326.0,277.7 326.4,276.1 326.8,274.6 327.2,273.3 327.6,272.2 328.0,271.9 328.4,272.0 328.8,272.5 329.2,273.1 329.6,273.9 330.0,275.1 330.4,276.2 330.8,277.1 331.2,277.8 331.6,278.1 332.0,277.9 332.4,277.4 332.8,276.7 333.2,276.0 333.6,275.0 334.0,274.1 334.4,273.4 334.8,272.9 335.2,272.8 335.6,273.1 336.0,273.4 336.4,274.0 336.8,275.0 337.2,275.9 337.6,276.8 338.0,277.8 338.4,278.3 338.8,278.2 339.2,278.0 339.6,277.3 340.0,276.2 340.4,275.2 340.8,274.1 341.2,273.0 341.6,272.0 342.0,271.5 342.4,271.6 342.8,272.3 343.2,273.5 343.6,274.8 344.0,276.2 344.4,277.4 344.8,278.8 345.2,279.9 345.6,279.9 346.0,279.3 346.4,278.5 346.8,277.2 347.2,275.6 347.6,273.9 348.0,272.2 348.4,271.0 348.8,270.7 349.2,270.8 349.6,271.6 350.0,272.7 350.4,274.0 350.8,275.5 351.2,276.9 351.6,278.1 352.0,279.1 352.4,279.4 352.8,279.0 353.2,278.1 353.6,277.0 354.0,276.0 354.4,275.0 354.8,274.0 355.2,273.2 355.6,273.0 356.0,272.9 356.4,272.9 356.8,273.3 357.2,274.1 357.6,274.9 358.0,275.8 358.4,276.5 358.8,277.1 359.2,277.4 359.6,277.3 360.0,276.8 360.4,276.1 360.8,275.6 361.2,275.1 361.6,274.6 362.0,274.2 362.4,273.9 362.8,273.8 363.2,273.9 363.6,274.2 364.0,274.7 364.4,275.1 364.8,275.6 365.2,276.1 365.6,276.3 366.0,276.4 366.4,276.4 366.8,276.4 367.2,276.1 367.6,275.6 368.0,275.3 368.4,275.0 368.8,274.7 369.2,274.6 369.6,274.3 370.0,274.3 370.4,274.6 370.8,275.1 371.2,275.6 371.6,275.9 372.0,275.9 372.4,276.2 372.8,276.2 373.2,276.1 373.6,276.0 374.0,275.8 374.4,275.5 374.8,275.2 375.2,274.9 375.6,274.6 376.0,274.2 376.4,274.4 376.8,275.0 377.2,275.2 377.6,275.2 378.0,275.5 378.4,275.8 378.8,276.1 379.2,276.3 379.6,276.2 380.0,276.1 380.4,275.8 380.8,275.5 381.2,275.1 381.6,274.9 382.0,274.6 382.4,274.3 382.8,274.3 383.2,274.4 383.6,274.3 384.0,274.5 384.4,274.9 384.8,275.5 385.2,276.0 385.6,276.4 386.0,276.6 386.4,276.4 386.8,276.2 387.2,275.8 387.6,275.4 388.0,275.2 388.4,274.9 388.8,274.4 389.2,274.0 389.6,274.0 390.0,274.4 390.4,274.8 390.8,275.3 391.2,275.7 391.6,275.9 392.0,276.2 392.4,276.5 392.8,276.6 393.2,276.4 393.6,276.4 394.0,276.1 394.4,275.4 394.8,274.6 395.2,274.1 395.6,273.8 396.0,273.5 396.4,273.5 396.8,274.1 397.2,274.8 397.6,275.4 398.0,275.8 398.4,276.1 398.8,276.5 399.2,276.8 399.6,276.8 400.0,276.7 400.4,276.5 400.8,276.1 401.2,275.5 401.6,274.8 402.0,274.1 402.4,273.5 402.8,273.1 403.2,273.3 403.6,273.7 404.0,274.1 404.4,274.6 404.8,275.4 405.2,276.2 405.6,276.7 406.0,277.1 406.4,277.3 406.8,277.4 407.2,277.1 407.6,276.3 408.0,275.6 408.4,274.9 408.8,274.2 409.2,273.4 409.6,272.9 410.0,272.9 410.4,273.2 410.8,273.7 411.2,274.2 411.6,274.9 412.0,275.8 412.4,276.7 412.8,277.4 413.2,277.4 413.6,277.2 414.0,276.9 414.4,276.3 414.8,275.8 415.2,275.3 415.6,274.6 416.0,274.1 416.4,273.7 416.8,273.7 417.2,273.9 417.6,274.2 418.0,274.7 418.4,275.2 418.8,275.6 419.2,275.9 419.6,275.8 420.0,275.6 420.4,275.5 420.8,275.7 421.2,276.0 421.6,275.8 422.0,275.4 422.4,275.3 422.8,275.2 423.2,275.1 423.6,274.8 424.0,274.6 424.4,274.6 424.8,274.9 425.2,275.2 425.6,275.4 426.0,275.4 426.4,275.6 426.8,275.8 427.2,276.0 427.6,275.9 428.0,275.5 428.4,275.3 428.8,275.2 429.2,274.9 429.6,274.7 430.0,274.5 430.4,274.3 430.8,274.3 431.2,274.7 431.6,275.0 432.0,275.5 432.4,276.4 432.8,276.9 433.2,277.2 433.6,277.1 434.0,276.5 434.4,275.6 434.8,274.6 435.2,273.3 435.6,272.1 436.0,271.5 436.4,271.6 436.8,272.3 437.2,273.3 437.6,274.6 438.0,276.3 438.4,278.1 438.8,279.4 439.2,280.3 439.6,280.9 440.0,280.8 440.4,280.0 440.8,278.7 441.2,276.9 441.6,274.9 442.0,272.7 442.4,271.0 442.8,269.8 443.2,269.1 443.6,269.1 444.0,269.6 444.4,270.9 444.8,272.8 445.2,274.8 445.6,276.8 446.0,278.7 446.4,280.2 446.8,280.9 447.2,281.2 447.6,281.0 448.0,280.1 448.4,278.7 448.8,277.3 449.2,275.4 449.6,273.6 450.0,271.9 450.4,270.3 450.8,269.6 451.2,269.7 451.6,270.5 452.0,271.9 452.4,273.6 452.8,275.5 453.2,277.1 453.6,278.5 454.0,279.4 454.4,279.9 454.8,279.8 455.2,279.0 455.6,277.9 456.0,276.4 456.4,274.8 456.8,273.4 457.2,272.3 457.6,271.5 458.0,271.2 458.4,271.5 458.8,272.4 459.2,273.4 459.6,274.7 460.0,275.9 460.4,277.1 460.8,277.9 461.2,278.5 461.6,278.8 462.0,278.6 462.4,277.5 462.8,276.3 463.2,275.4 463.6,274.4 464.0,273.3 464.4,272.2 464.8,271.6 465.2,271.6 465.6,272.3 466.0,273.1 466.4,274.1 466.8,275.5 467.2,276.9 467.6,278.0 468.0,278.8 468.4,279.1 468.8,279.0 469.2,278.4 469.6,277.4 470.0,276.1 470.4,274.8 470.8,273.6 471.2,272.5 471.6,271.8 472.0,271.7 472.4,272.0 472.8,273.0 473.2,274.0 473.6,275.1 474.0,276.1 474.4,277.4 474.8,278.5 475.2,279.0 475.6,278.9 476.0,278.5 476.4,277.9 476.8,277.1 477.2,275.7 477.6,274.0 478.0,272.6 478.4,272.0 478.8,271.6 479.2,271.7 479.6,272.0 480.0,273.0 480.4,274.4 480.8,275.8 481.2,277.0 481.6,277.8 482.0,278.5 482.4,279.0 482.8,278.9 483.2,278.3 483.6,277.5 484.0,276.5 484.4,275.2 484.8,273.8 485.2,272.5 485.6,271.9 486.0,271.7 486.4,271.9 486.8,272.7 487.2,273.7 487.6,274.9 488.0,276.2" fill="none" stroke="#0073c1" stroke-width="2.3" stroke-linejoin="round"/>
<rect x="47.8" y="207.9" width="440.3" height="137.3" fill="none" stroke="#111" stroke-width="2"/>
<line x1="47.8" y1="213.3" x2="52.6" y2="213.3" stroke="#111" stroke-width="2"/>
<line x1="488.1" y1="213.3" x2="483.3" y2="213.3" stroke="#111" stroke-width="2"/>
<text x="42.4" y="218.6" font-family="Liberation Sans, sans-serif" font-weight="bold" font-size="12.6" text-anchor="end" fill="#1a1a1a">2</text>
<line x1="47.8" y1="244.3" x2="52.6" y2="244.3" stroke="#111" stroke-width="2"/>
<line x1="488.1" y1="244.3" x2="483.3" y2="244.3" stroke="#111" stroke-width="2"/>
<text x="42.4" y="249.6" font-family="Liberation Sans, sans-serif" font-weight="bold" font-size="12.6" text-anchor="end" fill="#1a1a1a">1</text>
<line x1="47.8" y1="275.3" x2="52.6" y2="275.3" stroke="#111" stroke-width="2"/>
<line x1="488.1" y1="275.3" x2="483.3" y2="275.3" stroke="#111" stroke-width="2"/>
<text x="42.4" y="280.6" font-family="Liberation Sans, sans-serif" font-weight="bold" font-size="12.6" text-anchor="end" fill="#1a1a1a">0</text>
<line x1="47.8" y1="306.3" x2="52.6" y2="306.3" stroke="#111" stroke-width="2"/>
<line x1="488.1" y1="306.3" x2="483.3" y2="306.3" stroke="#111" stroke-width="2"/>
<text x="42.4" y="311.6" font-family="Liberation Sans, sans-serif" font-weight="bold" font-size="12.6" text-anchor="end" fill="#1a1a1a">-1</text>
<line x1="47.8" y1="337.3" x2="52.6" y2="337.3" stroke="#111" stroke-width="2"/>
<line x1="488.1" y1="337.3" x2="483.3" y2="337.3" stroke="#111" stroke-width="2"/>
<text x="42.4" y="342.6" font-family="Liberation Sans, sans-serif" font-weight="bold" font-size="12.6" text-anchor="end" fill="#1a1a1a">-2</text>
<line x1="268" y1="207.9" x2="268" y2="212.4" stroke="#111" stroke-width="2"/>
<line x1="268" y1="345.2" x2="268" y2="340.7" stroke="#111" stroke-width="2"/>
<line x1="185.5" y1="210.5" x2="373.3" y2="210.5" stroke="#fb0d12" stroke-width="3.1" fill="none" stroke-dasharray="8.7 3.37" stroke-dashoffset="1.37"/>
<line x1="185.5" y1="345" x2="373.3" y2="345" stroke="#fb0d12" stroke-width="3.1" fill="none" stroke-dasharray="8.7 3.37" stroke-dashoffset="6.77"/>
<line x1="187.1" y1="209" x2="187.1" y2="346.5" stroke="#fb0d12" stroke-width="3.1" fill="none" stroke-dasharray="10.1 2.8" stroke-dashoffset="3.5"/>
<line x1="371.7" y1="209" x2="371.7" y2="346.5" stroke="#fb0d12" stroke-width="3.1" fill="none" stroke-dasharray="10.3 2.95" stroke-dashoffset="7.85"/>
<text x="47.2" y="362.8" font-family="Liberation Sans, sans-serif" font-weight="bold" font-size="12.6" text-anchor="middle" fill="#1a1a1a">50</text>
<text x="268.3" y="362.8" font-family="Liberation Sans, sans-serif" font-weight="bold" font-size="12.6" text-anchor="middle" fill="#1a1a1a">100</text>
<text x="488.5" y="362.8" font-family="Liberation Sans, sans-serif" font-weight="bold" font-size="12.6" text-anchor="middle" fill="#1a1a1a">150</text>
<text x="268.1" y="381.6" font-family="Liberation Sans, sans-serif" font-weight="bold" font-size="15.3" text-anchor="middle" fill="#1a1a1a">Time [<tspan font-family="DejaVu Sans, Liberation Sans, sans-serif" font-style="italic" font-weight="normal" font-size="13.5">μ</tspan>s]</text>
<text x="268" y="395.8" font-family="Liberation Sans, sans-serif" font-weight="bold" font-size="12.7" text-anchor="middle" fill="#111">(b)</text>
<text transform="translate(23.5,277.1) rotate(-90) scale(1.055,1)" font-family="Liberation Sans, sans-serif" font-weight="bold" font-size="14.5" text-anchor="middle" fill="#1a1a1a">CWT Coeff. for 0.62 MHz</text>
</svg>
</body></html>
